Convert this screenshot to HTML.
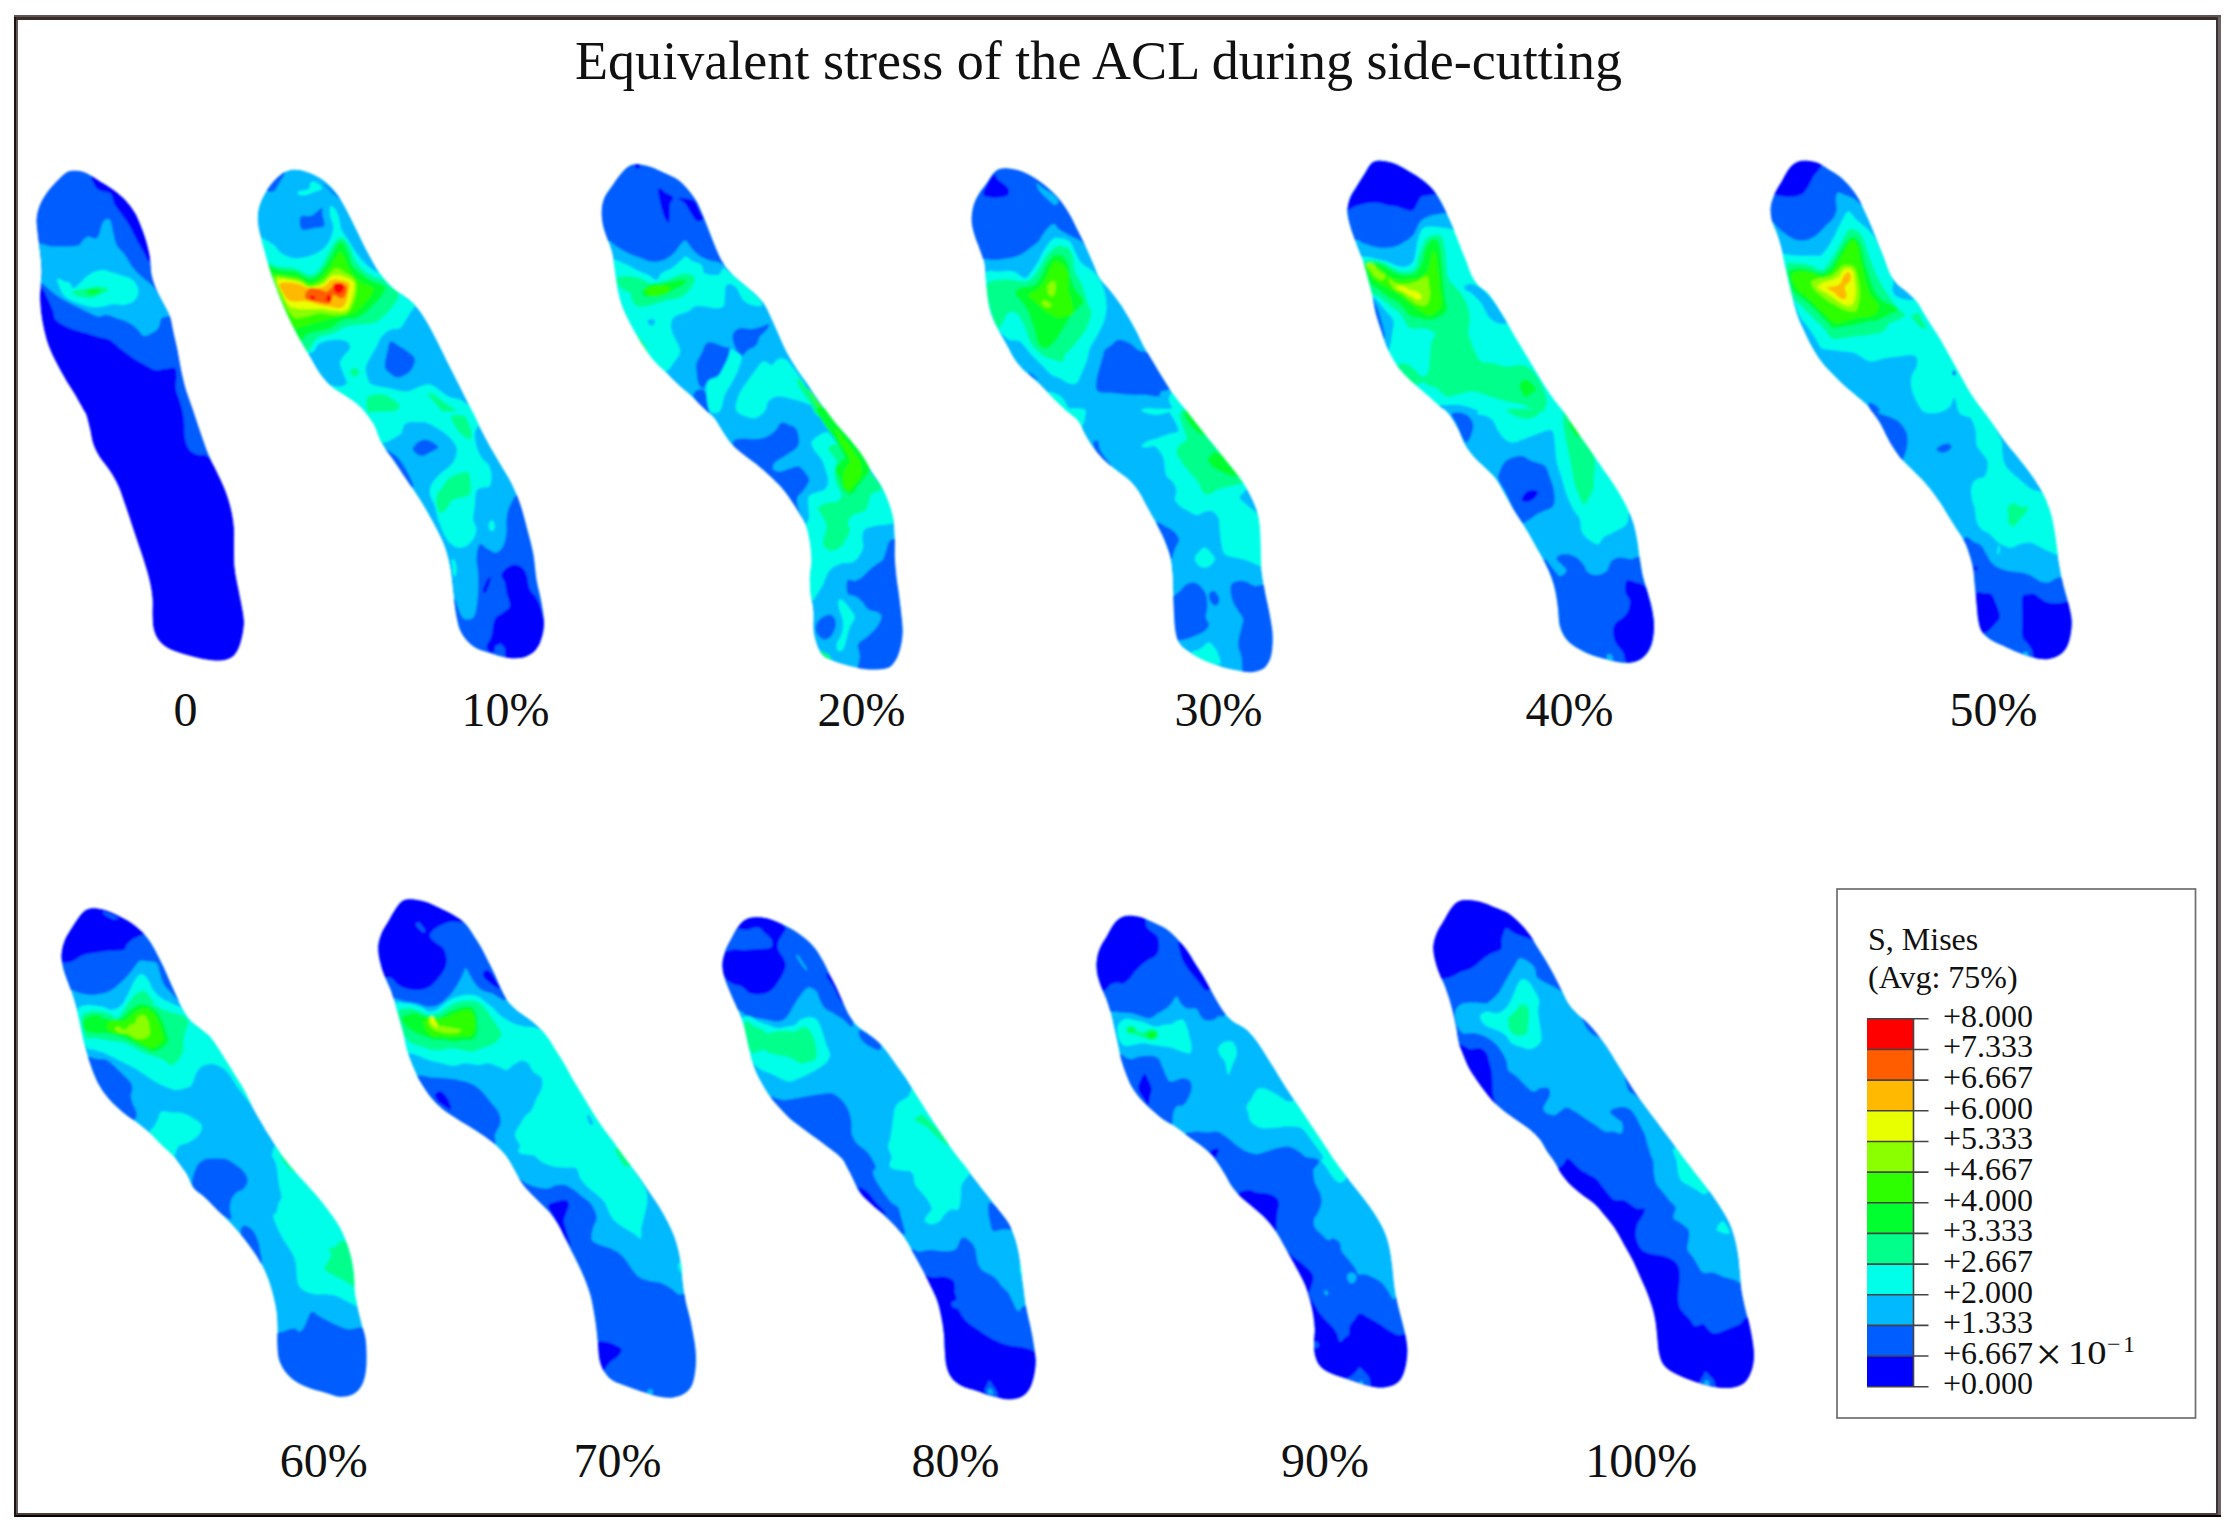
<!DOCTYPE html>
<html><head><meta charset="utf-8"><title>Equivalent stress of the ACL during side-cutting</title>
<style>html,body{margin:0;padding:0;background:#fff}svg{display:block}text{font-family:"Liberation Serif",serif;fill:#111}</style>
</head><body>
<svg width="2234" height="1537" viewBox="0 0 2234 1537">
<defs><filter id="bl" x="-5%" y="-5%" width="110%" height="110%"><feGaussianBlur stdDeviation="0.9"/></filter></defs>
<rect x="0" y="0" width="2234" height="1537" fill="#fff"/>
<g shape-rendering="crispEdges"><rect x="14" y="14.8" width="2207" height="2.6" fill="#5c5452"/><rect x="14" y="17.3" width="2207" height="2.5" fill="#382d2b"/>
<rect x="14" y="1512.5" width="2207" height="2.5" fill="#4a3f3c"/><rect x="14" y="1515" width="2207" height="2" fill="#0c0202"/>
<rect x="14" y="17.3" width="2.1" height="1499.7" fill="#1f1311"/><rect x="16" y="19.8" width="2.2" height="1493" fill="#625a58"/>
<rect x="2216" y="19.8" width="2.5" height="1493" fill="#3b3333"/><rect x="2218.4" y="17.3" width="2.6" height="1498" fill="#6c6466"/></g>
<text x="575" y="78.5" font-size="54" textLength="1047" lengthAdjust="spacingAndGlyphs">Equivalent stress of the ACL during side-cutting</text>
<clipPath id="cp0"><path d="M76.6 170.8C80.0 171.0 82.7 171.5 86.6 173.3C90.5 175.1 95.5 178.9 99.9 181.6C104.4 184.4 109.1 186.9 113.3 190.0C117.4 193.0 121.3 196.1 124.9 200.0C128.5 203.9 132.1 208.6 134.9 213.3C137.7 218.0 139.6 223.3 141.6 228.3C143.5 233.3 145.2 238.3 146.6 243.3C148.0 248.3 149.1 253.0 149.9 258.3C150.7 263.5 150.5 269.6 151.6 274.9C152.7 280.2 154.6 285.2 156.6 289.9C158.5 294.6 161.0 298.8 163.2 303.2C165.5 307.7 168.2 311.8 169.9 316.6C171.6 321.3 172.0 326.0 173.2 331.5C174.5 337.1 176.1 343.8 177.4 349.9C178.6 356.0 179.5 362.1 180.7 368.2C182.0 374.3 183.4 381.0 184.9 386.5C186.4 392.1 188.5 397.4 189.9 401.5C191.3 405.6 191.6 406.1 193.2 411.0C194.9 415.9 197.4 423.8 199.9 431.0C202.4 438.2 205.4 447.6 208.2 454.3C211.0 461.0 213.8 465.1 216.5 471.0C219.3 476.8 222.5 483.2 224.9 489.3C227.2 495.4 229.2 501.2 230.7 507.6C232.2 514.0 233.5 520.6 234.0 527.6C234.6 534.5 233.9 542.3 234.0 549.2C234.2 556.2 234.2 562.8 234.9 569.2C235.6 575.6 237.1 581.7 238.2 587.5C239.3 593.4 240.5 598.6 241.5 604.2C242.5 609.8 243.9 615.6 244.0 620.9C244.2 626.1 243.3 631.1 242.4 635.8C241.4 640.6 240.0 645.6 238.2 649.2C236.4 652.8 234.6 655.6 231.5 657.5C228.5 659.4 224.6 660.6 219.9 660.8C215.1 661.1 208.8 660.1 203.2 659.2C197.7 658.2 192.1 656.7 186.6 655.0C181.0 653.3 174.3 651.4 169.9 649.2C165.5 646.9 162.5 644.7 159.9 641.7C157.3 638.6 155.3 635.2 154.1 630.8C152.8 626.5 152.7 621.1 152.4 615.9C152.1 610.6 152.8 604.8 152.4 599.2C152.0 593.7 151.2 588.4 149.9 582.5C148.7 576.7 146.9 570.6 144.9 564.2C143.0 557.8 140.5 550.9 138.3 544.2C136.0 537.6 133.8 530.9 131.6 524.3C129.4 517.6 127.2 510.7 124.9 504.3C122.7 497.9 120.8 491.5 118.3 485.9C115.8 480.4 113.0 475.7 109.9 471.0C106.9 466.2 102.7 462.1 99.9 457.6C97.2 453.2 95.0 449.0 93.3 444.3C91.6 439.6 91.1 434.0 90.0 429.3C88.8 424.6 87.6 419.0 86.6 416.0C85.7 412.9 86.1 414.5 84.1 411.0C82.2 407.5 77.9 399.8 75.0 394.8C72.0 389.9 69.4 386.2 66.6 381.5C63.9 376.8 60.8 371.2 58.3 366.5C55.8 361.8 53.6 357.6 51.6 353.2C49.7 348.8 48.0 344.3 46.6 339.9C45.3 335.4 44.3 331.3 43.3 326.6C42.3 321.8 41.4 316.6 40.8 311.6C40.3 306.6 40.0 301.3 40.0 296.6C40.0 291.9 40.5 287.4 40.8 283.2C41.1 279.1 41.7 275.8 41.7 271.6C41.7 267.4 41.2 262.7 40.8 258.3C40.4 253.8 39.7 249.4 39.2 244.9C38.6 240.5 37.9 236.1 37.5 231.6C37.1 227.2 36.2 222.7 36.7 218.3C37.1 213.8 38.3 209.1 40.0 205.0C41.7 200.8 43.9 197.2 46.6 193.3C49.4 189.4 53.3 185.1 56.6 181.6C60.0 178.2 63.3 174.3 66.6 172.5C70.0 170.7 73.3 170.7 76.6 170.8Z"/></clipPath>
<g filter="url(#bl)"><g clip-path="url(#cp0)">
<path d="M76.6 170.8C80.0 171.0 82.7 171.5 86.6 173.3C90.5 175.1 95.5 178.9 99.9 181.6C104.4 184.4 109.1 186.9 113.3 190.0C117.4 193.0 121.3 196.1 124.9 200.0C128.5 203.9 132.1 208.6 134.9 213.3C137.7 218.0 139.6 223.3 141.6 228.3C143.5 233.3 145.2 238.3 146.6 243.3C148.0 248.3 149.1 253.0 149.9 258.3C150.7 263.5 150.5 269.6 151.6 274.9C152.7 280.2 154.6 285.2 156.6 289.9C158.5 294.6 161.0 298.8 163.2 303.2C165.5 307.7 168.2 311.8 169.9 316.6C171.6 321.3 172.0 326.0 173.2 331.5C174.5 337.1 176.1 343.8 177.4 349.9C178.6 356.0 179.5 362.1 180.7 368.2C182.0 374.3 183.4 381.0 184.9 386.5C186.4 392.1 188.5 397.4 189.9 401.5C191.3 405.6 191.6 406.1 193.2 411.0C194.9 415.9 197.4 423.8 199.9 431.0C202.4 438.2 205.4 447.6 208.2 454.3C211.0 461.0 213.8 465.1 216.5 471.0C219.3 476.8 222.5 483.2 224.9 489.3C227.2 495.4 229.2 501.2 230.7 507.6C232.2 514.0 233.5 520.6 234.0 527.6C234.6 534.5 233.9 542.3 234.0 549.2C234.2 556.2 234.2 562.8 234.9 569.2C235.6 575.6 237.1 581.7 238.2 587.5C239.3 593.4 240.5 598.6 241.5 604.2C242.5 609.8 243.9 615.6 244.0 620.9C244.2 626.1 243.3 631.1 242.4 635.8C241.4 640.6 240.0 645.6 238.2 649.2C236.4 652.8 234.6 655.6 231.5 657.5C228.5 659.4 224.6 660.6 219.9 660.8C215.1 661.1 208.8 660.1 203.2 659.2C197.7 658.2 192.1 656.7 186.6 655.0C181.0 653.3 174.3 651.4 169.9 649.2C165.5 646.9 162.5 644.7 159.9 641.7C157.3 638.6 155.3 635.2 154.1 630.8C152.8 626.5 152.7 621.1 152.4 615.9C152.1 610.6 152.8 604.8 152.4 599.2C152.0 593.7 151.2 588.4 149.9 582.5C148.7 576.7 146.9 570.6 144.9 564.2C143.0 557.8 140.5 550.9 138.3 544.2C136.0 537.6 133.8 530.9 131.6 524.3C129.4 517.6 127.2 510.7 124.9 504.3C122.7 497.9 120.8 491.5 118.3 485.9C115.8 480.4 113.0 475.7 109.9 471.0C106.9 466.2 102.7 462.1 99.9 457.6C97.2 453.2 95.0 449.0 93.3 444.3C91.6 439.6 91.1 434.0 90.0 429.3C88.8 424.6 87.6 419.0 86.6 416.0C85.7 412.9 86.1 414.5 84.1 411.0C82.2 407.5 77.9 399.8 75.0 394.8C72.0 389.9 69.4 386.2 66.6 381.5C63.9 376.8 60.8 371.2 58.3 366.5C55.8 361.8 53.6 357.6 51.6 353.2C49.7 348.8 48.0 344.3 46.6 339.9C45.3 335.4 44.3 331.3 43.3 326.6C42.3 321.8 41.4 316.6 40.8 311.6C40.3 306.6 40.0 301.3 40.0 296.6C40.0 291.9 40.5 287.4 40.8 283.2C41.1 279.1 41.7 275.8 41.7 271.6C41.7 267.4 41.2 262.7 40.8 258.3C40.4 253.8 39.7 249.4 39.2 244.9C38.6 240.5 37.9 236.1 37.5 231.6C37.1 227.2 36.2 222.7 36.7 218.3C37.1 213.8 38.3 209.1 40.0 205.0C41.7 200.8 43.9 197.2 46.6 193.3C49.4 189.4 53.3 185.1 56.6 181.6C60.0 178.2 63.3 174.3 66.6 172.5C70.0 170.7 73.3 170.7 76.6 170.8Z" fill="#0000FF"/>
<g>
<path d="M30.0 284.9C33.5 298.5 38.0 284.6 40.8 286.6C43.6 288.5 44.6 292.4 46.6 296.6C48.7 300.7 51.8 307.7 53.3 311.6C54.8 315.4 53.0 317.1 55.8 319.9C58.6 322.7 64.8 326.0 70.0 328.2C75.1 330.4 81.6 331.7 86.6 333.2C91.6 334.7 96.1 336.3 99.9 337.4C103.8 338.5 106.6 338.1 109.9 339.9C113.3 341.7 116.0 345.2 119.9 348.2C123.8 351.3 129.1 355.4 133.3 358.2C137.4 361.0 141.3 362.9 144.9 364.9C148.5 366.8 151.6 369.2 154.9 369.9C158.2 370.6 161.6 369.3 164.9 369.0C168.2 368.7 173.0 366.9 174.9 368.2C176.8 369.4 176.4 373.2 176.6 376.5C176.7 379.9 175.2 384.0 175.7 388.2C176.3 392.3 178.8 397.7 179.9 401.5C181.0 405.3 181.7 407.7 182.4 411.0C183.1 414.3 183.6 417.0 184.1 421.5C184.5 426.0 184.2 433.7 184.9 438.1C185.6 442.6 186.6 445.5 188.2 448.1C189.9 450.8 192.1 452.8 194.9 454.0C197.7 455.1 200.7 455.0 204.9 455.1C209.0 455.3 217.4 471.5 219.9 454.8C222.4 438.1 228.2 388.2 219.9 354.9C211.5 321.6 183.8 282.7 169.9 254.9C156.0 227.2 152.1 205.0 136.6 188.3C121.0 171.7 96.1 152.2 76.6 155.0C57.2 157.8 27.8 183.3 20.0 205.0C12.2 226.6 26.5 271.3 30.0 284.9Z" fill="#005DFF"/>
<path d="M91.6 176.7C90.5 178.6 94.7 185.8 96.6 188.3C98.6 190.8 100.9 190.7 103.3 191.6C105.6 192.6 108.8 191.9 110.8 194.1C112.7 196.4 112.9 201.2 114.9 205.0C117.0 208.7 120.8 213.0 123.3 216.6C125.8 220.2 127.7 222.7 129.9 226.6C132.1 230.5 134.4 235.8 136.6 239.9C138.8 244.1 141.2 248.0 143.3 251.6C145.3 255.2 147.4 261.0 149.1 261.6C150.7 262.2 153.7 261.6 153.2 254.9C152.8 248.3 150.7 231.3 146.6 221.6C142.4 211.9 135.5 204.1 128.3 196.6C121.0 189.1 109.4 180.0 103.3 176.7C97.2 173.3 92.7 174.7 91.6 176.7Z" fill="#0000FF"/>
<path d="M36.7 246.3C39.7 240.4 46.6 246.7 53.3 246.6C60.0 246.5 71.6 246.9 76.6 245.8C81.6 244.7 81.3 241.5 83.3 239.9C85.2 238.4 86.6 236.9 88.3 236.6C90.0 236.3 91.6 238.3 93.3 238.3C95.0 238.3 96.6 239.4 98.3 236.6C99.9 233.8 101.3 224.4 103.3 221.6C105.2 218.8 108.3 218.0 109.9 220.0C111.6 221.9 112.2 229.1 113.3 233.3C114.4 237.4 114.7 241.3 116.6 244.9C118.5 248.5 122.2 251.0 124.9 254.9C127.7 258.8 130.2 264.4 133.3 268.3C136.3 272.1 140.2 275.5 143.3 278.3C146.3 281.0 149.1 282.4 151.6 284.9C154.1 287.4 156.0 289.9 158.2 293.2C160.5 296.6 163.0 301.3 164.9 304.9C166.8 308.5 170.5 312.7 169.9 314.9C169.3 317.1 163.5 316.0 161.6 318.2C159.6 320.4 159.9 325.7 158.2 328.2C156.6 330.7 154.1 332.0 151.6 333.2C149.1 334.5 145.7 336.5 143.3 335.7C140.8 334.9 139.4 330.6 136.6 328.2C133.8 325.9 129.9 323.2 126.6 321.6C123.3 319.9 119.9 319.3 116.6 318.2C113.3 317.1 109.7 315.2 106.6 314.9C103.6 314.6 101.6 317.1 98.3 316.6C95.0 316.0 90.2 313.2 86.6 311.6C83.0 309.9 80.0 308.2 76.6 306.6C73.3 304.9 69.7 303.2 66.6 301.6C63.6 299.9 61.1 298.5 58.3 296.6C55.5 294.6 52.8 292.1 50.0 289.9C47.2 287.7 44.2 284.6 41.7 283.2C39.2 281.9 35.8 287.7 35.0 281.6C34.2 275.4 33.6 252.1 36.7 246.3Z" fill="#00B9FF"/>
<path d="M57.5 279.1C58.3 278.0 62.9 280.9 65.0 281.6C67.1 282.3 68.6 282.1 70.0 283.2C71.4 284.4 71.6 288.2 73.3 288.2C75.0 288.2 77.7 285.2 80.0 283.2C82.2 281.3 84.1 278.5 86.6 276.6C89.1 274.6 92.2 272.7 95.0 271.6C97.7 270.5 101.1 269.9 103.3 269.9C105.5 269.9 105.5 270.8 108.3 271.6C111.1 272.4 116.3 273.8 119.9 274.9C123.5 276.0 127.2 276.6 129.9 278.3C132.7 279.9 135.2 282.4 136.6 284.9C138.0 287.4 138.8 290.5 138.3 293.2C137.7 296.0 135.8 299.6 133.3 301.6C130.8 303.5 126.6 304.5 123.3 304.9C119.9 305.3 116.6 303.8 113.3 304.1C109.9 304.3 106.6 306.0 103.3 306.6C99.9 307.1 96.6 307.7 93.3 307.4C90.0 307.1 86.6 305.9 83.3 304.9C80.0 303.9 76.4 303.0 73.3 301.6C70.2 300.2 67.2 298.8 65.0 296.6C62.7 294.4 61.2 291.2 60.0 288.2C58.7 285.3 56.6 280.2 57.5 279.1Z" fill="#00FFE8"/>
<path d="M71.6 291.6C71.9 290.6 75.8 290.5 78.3 289.9C80.8 289.4 83.6 288.8 86.6 288.2C89.7 287.7 93.6 286.7 96.6 286.6C99.7 286.4 103.0 286.9 104.9 287.4C106.9 288.0 108.8 288.8 108.3 289.9C107.7 291.0 104.1 292.8 101.6 294.1C99.1 295.3 96.1 296.8 93.3 297.4C90.5 298.0 87.7 297.7 85.0 297.4C82.2 297.1 78.8 296.7 76.6 295.7C74.4 294.8 71.4 292.5 71.6 291.6Z" fill="#00FF8B"/>
<path d="M86.6 290.7C87.7 289.8 96.1 288.9 98.3 289.1C100.5 289.2 101.1 290.6 99.9 291.6C98.8 292.5 93.8 295.0 91.6 294.9C89.4 294.8 85.5 291.7 86.6 290.7Z" fill="#00FF2E"/>
</g></g></g>
<clipPath id="cp1"><path d="M290.0 170.0C295.0 168.9 301.1 170.0 306.6 171.7C312.2 173.3 318.3 176.4 323.3 180.0C328.3 183.6 332.7 188.3 336.6 193.3C340.5 198.3 343.3 203.9 346.6 210.0C349.9 216.1 353.0 222.7 356.6 230.0C360.2 237.2 364.4 246.1 368.2 253.3C372.1 260.5 375.7 267.4 379.9 273.3C384.1 279.1 388.2 283.8 393.2 288.2C398.2 292.7 405.2 295.7 409.9 299.9C414.6 304.1 417.7 307.7 421.5 313.2C425.4 318.8 429.0 325.4 433.2 333.2C437.4 341.0 442.1 351.0 446.5 359.9C451.0 368.7 455.4 377.6 459.9 386.5C464.3 395.4 468.7 404.3 473.2 413.2C477.6 422.0 482.1 431.5 486.5 439.8C490.9 448.1 495.7 455.9 499.8 463.1C504.0 470.3 508.2 476.5 511.5 483.1C514.8 489.8 517.3 495.9 519.8 503.1C522.3 510.3 524.3 518.1 526.5 526.4C528.7 534.8 531.5 544.2 533.1 553.1C534.8 562.0 535.1 571.4 536.5 579.7C537.9 588.0 540.2 595.3 541.5 603.0C542.7 610.8 544.4 619.1 543.8 626.4C543.2 633.6 541.0 641.3 538.1 646.3C535.2 651.3 531.2 654.4 526.5 656.3C521.8 658.3 515.9 658.6 509.8 658.0C503.7 657.4 495.9 654.9 489.8 653.0C483.7 651.1 477.9 649.7 473.2 646.3C468.5 643.0 464.3 638.0 461.5 633.0C458.7 628.0 457.9 623.0 456.5 616.4C455.1 609.7 454.3 601.4 453.2 593.0C452.1 584.7 451.5 574.7 449.9 566.4C448.2 558.1 446.3 550.9 443.2 543.1C440.1 535.3 435.4 527.0 431.5 519.8C427.7 512.5 424.0 506.4 419.9 499.8C415.7 493.1 411.0 486.4 406.6 479.8C402.1 473.1 397.4 465.9 393.2 459.8C389.1 453.7 384.9 449.3 381.6 443.1C378.2 437.0 376.9 429.3 373.2 423.2C369.6 417.1 364.4 410.9 359.9 406.5C355.5 402.1 351.3 399.8 346.6 396.5C341.9 393.2 336.0 390.4 331.6 386.5C327.2 382.6 323.6 378.2 319.9 373.2C316.3 368.2 313.6 362.6 310.0 356.5C306.3 350.4 301.9 343.2 298.3 336.5C294.7 329.9 291.6 323.8 288.3 316.6C285.0 309.3 281.4 301.0 278.3 293.2C275.3 285.5 272.5 277.7 270.0 269.9C267.5 262.2 265.3 253.8 263.3 246.6C261.4 239.4 259.2 232.7 258.3 226.6C257.5 220.5 257.2 215.5 258.3 210.0C259.4 204.4 261.9 198.6 265.0 193.3C268.0 188.0 272.5 182.2 276.6 178.3C280.8 174.4 285.0 171.1 290.0 170.0Z"/></clipPath>
<g filter="url(#bl)"><g clip-path="url(#cp1)">
<path d="M290.0 170.0C295.0 168.9 301.1 170.0 306.6 171.7C312.2 173.3 318.3 176.4 323.3 180.0C328.3 183.6 332.7 188.3 336.6 193.3C340.5 198.3 343.3 203.9 346.6 210.0C349.9 216.1 353.0 222.7 356.6 230.0C360.2 237.2 364.4 246.1 368.2 253.3C372.1 260.5 375.7 267.4 379.9 273.3C384.1 279.1 388.2 283.8 393.2 288.2C398.2 292.7 405.2 295.7 409.9 299.9C414.6 304.1 417.7 307.7 421.5 313.2C425.4 318.8 429.0 325.4 433.2 333.2C437.4 341.0 442.1 351.0 446.5 359.9C451.0 368.7 455.4 377.6 459.9 386.5C464.3 395.4 468.7 404.3 473.2 413.2C477.6 422.0 482.1 431.5 486.5 439.8C490.9 448.1 495.7 455.9 499.8 463.1C504.0 470.3 508.2 476.5 511.5 483.1C514.8 489.8 517.3 495.9 519.8 503.1C522.3 510.3 524.3 518.1 526.5 526.4C528.7 534.8 531.5 544.2 533.1 553.1C534.8 562.0 535.1 571.4 536.5 579.7C537.9 588.0 540.2 595.3 541.5 603.0C542.7 610.8 544.4 619.1 543.8 626.4C543.2 633.6 541.0 641.3 538.1 646.3C535.2 651.3 531.2 654.4 526.5 656.3C521.8 658.3 515.9 658.6 509.8 658.0C503.7 657.4 495.9 654.9 489.8 653.0C483.7 651.1 477.9 649.7 473.2 646.3C468.5 643.0 464.3 638.0 461.5 633.0C458.7 628.0 457.9 623.0 456.5 616.4C455.1 609.7 454.3 601.4 453.2 593.0C452.1 584.7 451.5 574.7 449.9 566.4C448.2 558.1 446.3 550.9 443.2 543.1C440.1 535.3 435.4 527.0 431.5 519.8C427.7 512.5 424.0 506.4 419.9 499.8C415.7 493.1 411.0 486.4 406.6 479.8C402.1 473.1 397.4 465.9 393.2 459.8C389.1 453.7 384.9 449.3 381.6 443.1C378.2 437.0 376.9 429.3 373.2 423.2C369.6 417.1 364.4 410.9 359.9 406.5C355.5 402.1 351.3 399.8 346.6 396.5C341.9 393.2 336.0 390.4 331.6 386.5C327.2 382.6 323.6 378.2 319.9 373.2C316.3 368.2 313.6 362.6 310.0 356.5C306.3 350.4 301.9 343.2 298.3 336.5C294.7 329.9 291.6 323.8 288.3 316.6C285.0 309.3 281.4 301.0 278.3 293.2C275.3 285.5 272.5 277.7 270.0 269.9C267.5 262.2 265.3 253.8 263.3 246.6C261.4 239.4 259.2 232.7 258.3 226.6C257.5 220.5 257.2 215.5 258.3 210.0C259.4 204.4 261.9 198.6 265.0 193.3C268.0 188.0 272.5 182.2 276.6 178.3C280.8 174.4 285.0 171.1 290.0 170.0Z" fill="#00B9FF"/>
<g>
<path d="M266.6 189.1C267.8 186.2 276.9 176.9 280.0 174.2C283.0 171.4 285.2 170.7 285.0 172.5C284.7 174.3 280.3 181.8 278.3 185.0C276.4 188.2 275.3 191.0 273.3 191.6C271.4 192.3 265.5 192.1 266.6 189.1Z" fill="#005DFF"/>
<path d="M323.3 183.3C323.8 183.5 330.5 189.0 333.3 191.6C336.0 194.3 340.5 199.3 339.9 199.1C339.4 199.0 332.7 193.4 329.9 190.8C327.2 188.2 322.7 183.2 323.3 183.3Z" fill="#005DFF"/>
<path d="M298.3 191.6C299.8 190.7 306.1 190.8 308.3 189.1C310.5 187.5 309.7 182.3 311.6 181.7C313.6 181.0 318.3 183.7 319.9 185.0C321.6 186.2 322.7 187.9 321.6 189.1C320.5 190.4 315.8 191.5 313.3 192.5C310.8 193.4 309.0 194.6 306.6 195.0C304.3 195.4 300.5 195.5 299.1 195.0C297.7 194.4 296.8 192.6 298.3 191.6Z" fill="#00FFE8"/>
<path d="M300.8 216.6C302.5 214.4 308.1 217.2 311.6 215.8C315.1 214.4 319.8 208.4 321.6 208.3C323.4 208.2 322.0 212.0 322.4 215.0C322.9 217.9 325.6 223.6 324.1 225.8C322.6 228.0 317.0 227.7 313.3 228.3C309.5 228.8 303.7 231.1 301.6 229.1C299.5 227.2 299.1 218.8 300.8 216.6Z" fill="#005DFF"/>
<path d="M256.7 239.9C256.4 233.0 267.5 241.1 271.6 243.3C275.8 245.5 277.8 250.8 281.6 253.3C285.5 255.8 290.2 257.9 295.0 258.3C299.7 258.7 305.5 257.2 310.0 255.8C314.4 254.4 318.3 252.6 321.6 249.9C324.9 247.3 328.0 243.8 329.9 239.9C331.9 236.1 333.3 230.8 333.3 226.6C333.3 222.5 330.4 218.4 329.9 215.0C329.5 211.5 329.8 206.6 330.8 205.8C331.7 205.0 334.4 207.9 335.8 210.0C337.2 212.0 338.1 215.0 339.1 218.3C340.1 221.6 340.1 226.3 341.6 230.0C343.1 233.6 345.8 236.1 348.3 239.9C350.8 243.8 353.8 249.4 356.6 253.3C359.4 257.2 362.1 260.5 364.9 263.3C367.7 266.0 369.9 267.7 373.2 269.9C376.6 272.1 379.4 271.9 384.9 276.6C390.5 281.3 401.6 293.5 406.6 298.2C411.6 303.0 414.3 302.4 414.9 304.9C415.4 307.4 411.6 310.5 409.9 313.2C408.2 316.0 406.6 319.1 404.9 321.6C403.2 324.1 402.4 326.8 399.9 328.2C397.4 329.6 393.0 328.5 389.9 329.9C386.8 331.3 383.8 333.8 381.6 336.5C379.4 339.3 378.5 342.9 376.6 346.5C374.6 350.2 371.7 354.6 369.9 358.2C368.1 361.8 366.0 364.6 365.7 368.2C365.5 371.8 367.0 377.1 368.2 379.9C369.5 382.6 369.6 383.5 373.2 384.9C376.9 386.2 384.3 387.1 389.9 388.2C395.5 389.3 401.6 391.8 406.6 391.5C411.6 391.2 415.7 387.6 419.9 386.5C424.0 385.4 426.8 383.2 431.5 384.9C436.3 386.5 442.9 393.7 448.2 396.5C453.5 399.3 458.5 397.6 463.2 401.5C467.9 405.4 494.3 416.8 476.5 419.8C458.7 422.9 379.4 422.9 356.6 419.8C333.8 416.8 345.5 407.3 339.9 401.5C334.4 395.7 328.8 391.8 323.3 384.9C317.7 377.9 312.2 369.6 306.6 359.9C301.1 350.2 295.5 339.0 290.0 326.6C284.4 314.1 278.9 299.4 273.3 284.9C267.8 270.5 256.9 246.9 256.7 239.9Z" fill="#00FFE8"/>
<path d="M303.3 356.5C303.3 353.5 310.5 353.8 313.3 351.5C316.1 349.3 316.6 345.2 319.9 343.2C323.3 341.3 328.8 340.2 333.3 339.9C337.7 339.6 343.8 340.2 346.6 341.5C349.4 342.9 350.5 345.7 349.9 348.2C349.4 350.7 344.9 354.0 343.3 356.5C341.6 359.0 339.9 360.4 339.9 363.2C339.9 366.0 342.2 369.9 343.3 373.2C344.4 376.5 347.2 381.0 346.6 383.2C346.0 385.4 342.7 386.2 339.9 386.5C337.2 386.8 332.7 385.4 329.9 384.9C327.2 384.3 326.1 385.7 323.3 383.2C320.5 380.7 316.6 374.3 313.3 369.9C310.0 365.4 303.3 359.6 303.3 356.5Z" fill="#00B9FF"/>
<path d="M390.7 341.5C392.8 340.7 396.7 344.6 399.9 346.5C403.1 348.5 407.4 351.0 409.9 353.2C412.4 355.4 414.9 356.8 414.9 359.9C414.9 362.9 412.7 368.6 409.9 371.5C407.1 374.4 401.6 377.1 398.2 377.4C394.9 377.6 392.1 375.0 389.9 373.2C387.7 371.4 385.3 370.1 384.9 366.5C384.5 362.9 386.4 355.7 387.4 351.5C388.4 347.4 388.7 342.4 390.7 341.5Z" fill="#005DFF"/>
<path d="M350.8 369.9C351.6 368.7 355.2 367.6 356.6 368.2C358.0 368.7 359.4 371.8 359.1 373.2C358.8 374.6 356.2 376.2 354.9 376.5C353.6 376.8 352.0 376.0 351.3 374.9C350.6 373.7 349.9 371.0 350.8 369.9Z" fill="#00FF8B"/>
<path d="M366.6 399.8C367.1 395.7 370.2 395.7 373.2 394.8C376.3 394.0 381.6 394.0 384.9 394.8C388.2 395.7 390.7 397.9 393.2 399.8C395.7 401.8 400.4 404.0 399.9 406.5C399.3 409.0 393.0 412.6 389.9 414.8C386.8 417.1 384.9 419.0 381.6 419.8C378.2 420.7 372.4 423.2 369.9 419.8C367.4 416.5 366.0 404.0 366.6 399.8Z" fill="#00FF8B"/>
<path d="M428.2 394.8C427.7 393.0 430.7 392.9 433.2 394.0C435.7 395.1 439.6 398.9 443.2 401.5C446.8 404.1 451.5 406.8 454.9 409.8C458.2 412.9 464.0 418.2 463.2 419.8C462.4 421.5 454.3 422.3 449.9 419.8C445.4 417.3 440.1 409.0 436.5 404.8C432.9 400.7 428.8 396.6 428.2 394.8Z" fill="#00FF8B"/>
<path d="M269.1 263.3C271.4 263.3 274.0 265.8 278.3 266.6C282.6 267.4 289.7 266.9 295.0 268.3C300.2 269.6 305.8 274.9 310.0 274.9C314.1 274.9 316.9 271.9 319.9 268.3C323.0 264.7 325.5 258.0 328.3 253.3C331.1 248.6 334.1 242.4 336.6 239.9C339.1 237.4 341.0 237.2 343.3 238.3C345.5 239.4 348.0 243.0 349.9 246.6C351.9 250.2 352.7 256.0 354.9 259.9C357.1 263.8 360.2 267.2 363.3 269.9C366.3 272.7 369.9 274.9 373.2 276.6C376.6 278.3 380.5 278.3 383.2 279.9C386.0 281.6 387.4 284.4 389.9 286.6C392.4 288.8 397.1 290.7 398.2 293.2C399.3 295.7 398.0 298.8 396.6 301.6C395.2 304.3 392.4 307.1 389.9 309.9C387.4 312.7 384.3 316.0 381.6 318.2C378.8 320.4 377.4 322.1 373.2 323.2C369.1 324.3 361.0 324.3 356.6 324.9C352.1 325.4 350.5 325.2 346.6 326.6C342.7 327.9 337.7 331.6 333.3 333.2C328.8 334.9 323.3 334.9 319.9 336.5C316.6 338.2 315.5 340.7 313.3 343.2C311.1 345.7 309.4 352.1 306.6 351.5C303.8 351.0 300.0 345.4 296.6 339.9C293.3 334.3 290.0 326.3 286.6 318.2C283.3 310.2 280.3 300.2 276.6 291.6C273.0 283.0 266.2 271.3 265.0 266.6C263.7 261.9 266.9 263.3 269.1 263.3Z" fill="#00FF8B"/>
<path d="M270.0 266.6C271.9 266.9 275.8 269.1 280.0 269.9C284.1 270.8 290.0 270.2 295.0 271.6C300.0 273.0 305.8 278.0 310.0 278.3C314.1 278.5 316.6 276.6 319.9 273.3C323.3 269.9 326.9 263.3 329.9 258.3C333.0 253.3 336.0 245.8 338.3 243.3C340.5 240.8 341.6 241.6 343.3 243.3C344.9 244.9 346.6 249.4 348.3 253.3C349.9 257.2 350.8 263.0 353.3 266.6C355.8 270.2 359.9 272.4 363.3 274.9C366.6 277.4 369.6 279.6 373.2 281.6C376.9 283.5 383.2 284.6 384.9 286.6C386.6 288.5 384.6 290.7 383.2 293.2C381.8 295.7 379.4 298.5 376.6 301.6C373.8 304.6 369.9 308.8 366.6 311.6C363.3 314.3 360.5 316.8 356.6 318.2C352.7 319.6 347.7 318.2 343.3 319.9C338.8 321.6 334.4 326.3 329.9 328.2C325.5 330.2 320.5 330.4 316.6 331.6C312.7 332.7 309.4 333.2 306.6 334.9C303.8 336.5 301.9 341.3 300.0 341.5C298.0 341.8 297.5 341.0 295.0 336.5C292.5 332.1 288.3 322.7 285.0 314.9C281.6 307.1 277.8 297.7 275.0 289.9C272.2 282.1 269.1 272.1 268.3 268.3C267.5 264.4 268.0 266.3 270.0 266.6Z" fill="#00FF2E"/>
<path d="M273.3 273.3C275.0 273.0 279.4 274.4 283.3 274.9C287.2 275.5 292.2 275.2 296.6 276.6C301.1 278.0 306.1 283.0 310.0 283.3C313.8 283.5 316.6 281.0 319.9 278.3C323.3 275.5 326.9 270.8 329.9 266.6C333.0 262.4 336.0 255.2 338.3 253.3C340.5 251.3 341.6 252.7 343.3 254.9C344.9 257.2 346.3 263.0 348.3 266.6C350.2 270.2 352.4 273.8 354.9 276.6C357.4 279.4 360.2 281.3 363.3 283.3C366.3 285.2 371.9 286.3 373.2 288.2C374.6 290.2 373.2 292.1 371.6 294.9C369.9 297.7 366.3 301.8 363.3 304.9C360.2 308.0 357.1 311.3 353.3 313.2C349.4 315.2 344.4 315.5 339.9 316.6C335.5 317.7 331.1 318.8 326.6 319.9C322.2 321.0 317.2 322.1 313.3 323.2C309.4 324.3 306.1 325.7 303.3 326.6C300.5 327.4 298.8 328.8 296.6 328.2C294.4 327.7 292.5 327.7 290.0 323.2C287.5 318.8 284.4 309.3 281.6 301.6C278.9 293.8 274.7 281.3 273.3 276.6C271.9 271.9 271.6 273.5 273.3 273.3Z" fill="#2EFF00"/>
<path d="M275.0 276.6C276.6 275.1 282.5 276.9 286.6 277.4C290.8 278.0 296.1 278.5 300.0 279.9C303.8 281.3 306.3 285.5 310.0 285.7C313.6 286.0 318.3 283.7 321.6 281.6C324.9 279.5 327.4 275.5 329.9 273.3C332.4 271.0 333.8 268.3 336.6 268.3C339.4 268.3 343.5 271.3 346.6 273.3C349.6 275.2 353.3 277.1 354.9 279.9C356.6 282.7 356.9 286.0 356.6 289.9C356.3 293.8 354.9 299.4 353.3 303.2C351.6 307.1 349.9 311.3 346.6 313.2C343.3 315.2 337.7 314.9 333.3 314.9C328.8 314.9 324.4 313.0 319.9 313.2C315.5 313.5 310.5 315.7 306.6 316.6C302.7 317.4 299.4 318.8 296.6 318.2C293.9 317.7 292.2 316.0 290.0 313.2C287.7 310.5 285.5 306.0 283.3 301.6C281.1 297.1 278.0 290.7 276.6 286.6C275.3 282.4 273.3 278.1 275.0 276.6Z" fill="#8BFF00"/>
<path d="M277.5 279.9C278.7 277.7 286.2 279.5 290.0 279.9C293.7 280.3 296.6 281.2 300.0 282.4C303.3 283.7 306.1 287.1 310.0 287.4C313.8 287.7 319.8 285.9 323.3 284.1C326.7 282.3 328.3 278.1 330.8 276.6C333.3 275.1 335.4 274.6 338.3 274.9C341.2 275.2 345.6 276.9 348.3 278.3C350.9 279.6 353.3 280.8 354.1 283.3C354.9 285.7 354.0 289.6 353.3 293.2C352.6 296.9 351.3 302.0 349.9 304.9C348.5 307.8 347.7 309.8 344.9 310.7C342.2 311.7 337.4 311.0 333.3 310.7C329.1 310.5 324.4 309.3 319.9 309.1C315.5 308.8 310.8 309.2 306.6 309.1C302.5 308.9 298.0 308.9 295.0 308.2C291.9 307.5 290.4 307.4 288.3 304.9C286.2 302.4 284.3 297.4 282.5 293.2C280.7 289.1 276.2 282.1 277.5 279.9Z" fill="#E8FF00"/>
<path d="M279.1 284.1C280.0 282.3 285.1 282.4 288.3 282.4C291.5 282.4 294.7 283.1 298.3 284.1C301.9 285.1 305.8 287.8 310.0 288.2C314.1 288.7 319.7 288.0 323.3 286.6C326.9 285.2 328.8 281.0 331.6 279.9C334.4 278.8 337.0 279.4 339.9 279.9C342.8 280.5 347.7 281.0 349.1 283.3C350.5 285.5 349.0 289.6 348.3 293.2C347.6 296.9 346.6 302.4 344.9 304.9C343.3 307.4 340.8 308.0 338.3 308.2C335.8 308.5 333.0 307.1 329.9 306.6C326.9 306.0 323.8 305.7 319.9 304.9C316.1 304.1 310.8 302.1 306.6 301.6C302.5 301.0 298.0 301.8 295.0 301.6C291.9 301.3 290.2 301.3 288.3 299.9C286.4 298.5 284.8 295.9 283.3 293.2C281.8 290.6 278.3 285.9 279.1 284.1Z" fill="#FFB900"/>
<path d="M305.0 294.9C305.5 293.1 307.7 289.2 310.0 288.2C312.2 287.3 315.5 288.5 318.3 289.1C321.1 289.6 324.2 292.0 326.6 291.6C329.0 291.2 330.8 288.0 332.4 286.6C334.1 285.2 334.2 283.3 336.6 283.3C339.0 283.3 345.2 284.4 346.6 286.6C348.0 288.8 346.0 294.6 344.9 296.6C343.8 298.5 341.9 298.5 339.9 298.2C338.0 298.0 334.9 294.1 333.3 294.9C331.6 295.7 332.2 302.0 329.9 303.2C327.7 304.5 323.0 302.8 319.9 302.4C316.9 302.0 313.8 301.3 311.6 300.7C309.4 300.2 307.7 300.0 306.6 299.1C305.5 298.1 304.4 296.7 305.0 294.9Z" fill="#FF5D00"/>
<path d="M334.1 284.1C335.2 282.7 339.9 282.6 341.6 283.3C343.3 283.9 344.4 286.6 344.1 288.2C343.8 289.9 341.5 292.7 339.9 293.2C338.4 293.8 335.9 293.1 334.9 291.6C334.0 290.1 333.0 285.5 334.1 284.1Z" fill="#FF0000"/>
<path d="M310.8 295.7C311.5 295.3 314.4 295.9 315.0 296.6C315.5 297.3 314.8 299.5 314.1 299.9C313.4 300.3 311.3 299.8 310.8 299.1C310.2 298.4 310.1 296.2 310.8 295.7Z" fill="#FF0000"/>
<path d="M326.6 296.6C327.3 295.7 330.2 294.9 330.8 295.7C331.3 296.6 330.6 300.7 329.9 301.6C329.2 302.4 327.2 301.6 326.6 300.7C326.1 299.9 325.9 297.4 326.6 296.6Z" fill="#FF0000"/>
<path d="M364.1 412.7C346.9 414.9 370.6 421.3 373.2 426.0C375.9 430.7 378.0 438.2 379.9 441.0C381.8 443.8 382.4 443.2 384.9 442.6C387.4 442.1 392.1 439.3 394.9 437.7C397.7 436.0 399.9 434.9 401.6 432.7C403.2 430.4 402.7 426.3 404.9 424.3C407.1 422.4 411.3 421.3 414.9 421.0C418.5 420.7 422.9 421.6 426.5 422.7C430.2 423.8 432.9 425.4 436.5 427.7C440.1 429.9 444.9 432.7 448.2 436.0C451.5 439.3 455.4 443.8 456.5 447.6C457.6 451.5 456.0 456.3 454.9 459.3C453.7 462.4 452.4 463.5 449.9 466.0C447.4 468.5 442.9 471.2 439.9 474.3C436.8 477.3 433.2 481.0 431.5 484.3C429.9 487.6 429.3 490.7 429.9 494.3C430.4 497.9 433.5 501.8 434.9 505.9C436.3 510.1 436.5 514.3 438.2 519.3C439.9 524.3 442.6 531.8 444.9 535.9C447.1 540.1 449.3 542.3 451.5 544.2C453.7 546.2 455.7 547.3 458.2 547.6C460.7 547.9 464.0 547.3 466.5 545.9C469.0 544.5 471.5 542.0 473.2 539.3C474.8 536.5 476.5 532.6 476.5 529.3C476.5 525.9 473.5 523.2 473.2 519.3C472.9 515.4 474.3 510.7 474.8 505.9C475.4 501.2 475.1 494.0 476.5 491.0C477.9 487.9 481.0 488.5 483.2 487.6C485.4 486.8 488.4 488.2 489.8 486.0C491.2 483.7 491.8 477.9 491.5 474.3C491.2 470.7 489.8 467.1 488.2 464.3C486.5 461.5 483.4 460.7 481.5 457.6C479.6 454.6 477.6 450.1 476.5 446.0C475.4 441.8 474.3 436.5 474.8 432.7C475.4 428.8 479.6 426.0 479.8 422.7C480.1 419.3 495.8 414.3 476.5 412.7C457.2 411.0 381.3 410.4 364.1 412.7Z" fill="#00FFE8"/>
<path d="M451.5 416.0C449.9 417.7 453.2 422.9 454.9 426.0C456.5 429.0 459.0 432.1 461.5 434.3C464.0 436.5 468.2 439.9 469.8 439.3C471.5 438.8 471.8 433.8 471.5 431.0C471.2 428.2 469.3 425.2 468.2 422.7C467.1 420.2 467.6 417.1 464.9 416.0C462.1 414.9 453.2 414.3 451.5 416.0Z" fill="#00FF8B"/>
<path d="M448.2 479.3C450.4 477.3 453.2 475.4 456.5 474.3C459.9 473.2 465.8 471.2 468.2 472.6C470.5 474.0 470.4 479.0 470.7 482.6C471.0 486.2 471.4 491.8 469.8 494.3C468.3 496.8 464.6 496.5 461.5 497.6C458.5 498.7 454.0 499.0 451.5 500.9C449.0 502.9 448.5 507.3 446.5 509.3C444.6 511.2 441.5 513.4 439.9 512.6C438.2 511.8 437.0 507.3 436.5 504.3C436.1 501.2 436.3 497.3 437.4 494.3C438.5 491.2 441.4 488.5 443.2 486.0C445.0 483.5 446.0 481.2 448.2 479.3Z" fill="#00FF8B"/>
<path d="M489.0 522.6C489.6 521.2 492.2 520.4 493.2 520.9C494.1 521.5 494.8 524.3 494.8 525.9C494.8 527.6 494.1 530.4 493.2 530.9C492.2 531.5 490.0 530.6 489.3 529.3C488.6 527.9 488.4 524.0 489.0 522.6Z" fill="#00FFE8"/>
<path d="M451.5 559.2C451.9 558.4 454.0 559.5 454.9 560.9C455.7 562.3 456.4 565.1 456.5 567.6C456.7 570.1 456.2 574.8 455.7 575.9C455.1 577.0 453.7 575.9 453.2 574.2C452.6 572.6 452.6 568.4 452.4 565.9C452.1 563.4 451.1 560.1 451.5 559.2Z" fill="#00FFE8"/>
<path d="M413.2 447.6C414.1 445.7 417.4 442.2 419.9 441.0C422.4 439.7 425.2 439.2 428.2 440.2C431.3 441.1 437.6 444.9 438.2 446.8C438.8 448.8 434.3 450.3 431.5 451.8C428.8 453.3 424.3 455.8 421.5 456.0C418.8 456.1 416.3 454.0 414.9 452.6C413.5 451.3 412.4 449.6 413.2 447.6Z" fill="#005DFF"/>
<path d="M381.6 447.6C383.2 447.5 391.1 452.1 394.9 455.1C398.6 458.2 401.0 461.1 404.1 466.0C407.1 470.8 412.2 481.0 413.2 484.3C414.2 487.6 412.4 488.2 409.9 486.0C407.4 483.7 402.4 476.0 398.2 471.0C394.1 466.0 387.7 459.9 384.9 456.0C382.1 452.1 379.9 447.8 381.6 447.6Z" fill="#005DFF"/>
<path d="M519.8 494.3C516.2 491.2 512.0 501.8 509.8 505.9C507.6 510.1 507.0 514.8 506.5 519.3C505.9 523.7 507.0 528.1 506.5 532.6C505.9 537.0 504.8 542.6 503.2 545.9C501.5 549.2 499.0 552.0 496.5 552.6C494.0 553.1 490.9 550.6 488.2 549.2C485.4 547.9 481.8 542.9 479.8 544.2C477.9 545.6 476.8 552.6 476.5 557.6C476.2 562.6 477.9 568.7 478.2 574.2C478.5 579.8 478.5 585.3 478.2 590.9C477.9 596.4 477.3 603.1 476.5 607.5C475.7 612.0 475.1 615.6 473.2 617.5C471.2 619.5 467.1 620.0 464.9 619.2C462.6 618.4 461.5 615.9 459.9 612.5C458.2 609.2 456.5 601.2 454.9 599.2C453.2 597.3 450.1 595.3 449.9 600.9C449.6 606.4 450.7 623.9 453.2 632.5C455.7 641.1 458.7 647.5 464.9 652.5C471.0 657.5 480.1 659.7 489.8 662.5C499.5 665.3 513.4 671.4 523.1 669.2C532.9 666.9 543.1 658.1 548.1 649.2C553.1 640.3 554.5 629.7 553.1 615.9C551.7 602.0 543.4 581.2 539.8 565.9C536.2 550.6 534.8 536.2 531.5 524.3C528.1 512.3 523.4 497.3 519.8 494.3Z" fill="#005DFF"/>
<path d="M501.5 574.2C502.3 571.5 506.8 567.3 509.8 565.9C512.9 564.5 517.0 564.5 519.8 565.9C522.6 567.3 524.8 570.3 526.5 574.2C528.1 578.1 527.9 584.8 529.8 589.2C531.7 593.7 535.6 595.0 538.1 600.9C540.6 606.7 544.2 617.0 544.8 624.2C545.4 631.4 543.7 638.6 541.5 644.2C539.2 649.7 535.1 654.6 531.5 657.5C527.9 660.4 524.0 661.4 519.8 661.7C515.6 661.9 509.0 661.3 506.5 659.2C504.0 657.1 505.9 651.7 504.8 649.2C503.7 646.7 501.8 643.6 499.8 644.2C497.9 644.7 495.4 652.0 493.2 652.5C490.9 653.1 486.8 650.3 486.5 647.5C486.2 644.7 490.1 640.6 491.5 635.9C492.9 631.1 492.9 623.1 494.8 619.2C496.8 615.3 500.7 614.8 503.2 612.5C505.7 610.3 509.3 609.2 509.8 605.9C510.4 602.5 507.3 596.4 506.5 592.5C505.7 588.7 505.7 585.6 504.8 582.6C504.0 579.5 500.7 577.0 501.5 574.2Z" fill="#0000FF"/>
<path d="M483.2 589.2C483.9 586.9 486.9 580.1 488.2 578.4C489.4 576.7 490.9 577.1 490.7 579.2C490.4 581.3 487.6 588.7 486.5 590.9C485.4 593.1 484.6 592.8 484.0 592.5C483.4 592.3 482.5 591.6 483.2 589.2Z" fill="#0000FF"/>
<path d="M494.8 647.5C495.2 645.6 498.2 643.9 499.8 644.2C501.5 644.5 504.3 647.2 504.8 649.2C505.4 651.1 504.4 654.7 503.2 655.8C501.9 657.0 498.7 657.2 497.3 655.8C495.9 654.5 494.4 649.5 494.8 647.5Z" fill="#005DFF"/>
</g></g></g>
<clipPath id="cp2"><path d="M636.6 164.2C640.2 164.2 645.2 165.1 650.0 166.7C654.7 168.2 660.2 171.1 665.0 173.3C669.7 175.5 674.4 177.2 678.3 180.0C682.2 182.8 685.2 186.4 688.3 190.0C691.3 193.6 694.1 197.2 696.6 201.6C699.1 206.1 701.0 211.4 703.3 216.6C705.5 221.9 707.7 227.7 709.9 233.3C712.1 238.8 714.4 244.9 716.6 249.9C718.8 254.9 720.5 259.1 723.2 263.3C726.0 267.4 729.6 271.3 733.2 274.9C736.8 278.5 741.0 281.6 744.9 284.9C748.8 288.2 753.2 291.6 756.6 294.9C759.9 298.2 762.4 301.0 764.9 304.9C767.4 308.8 769.3 313.5 771.5 318.2C773.8 322.9 775.7 327.7 778.2 333.2C780.7 338.8 783.5 345.7 786.5 351.5C789.6 357.4 792.9 362.6 796.5 368.2C800.1 373.7 804.6 379.6 808.2 384.8C811.8 390.1 815.1 395.5 818.2 399.8C821.2 404.2 823.5 406.9 826.5 411.0C829.6 415.1 832.6 419.6 836.5 424.3C840.4 429.0 845.7 434.3 849.8 439.3C854.0 444.3 857.9 449.0 861.5 454.3C865.1 459.6 868.2 465.7 871.5 471.0C874.8 476.2 878.7 480.9 881.5 485.9C884.3 490.9 886.2 495.7 888.1 500.9C890.1 506.2 892.0 511.8 893.1 517.6C894.2 523.4 894.5 529.3 894.8 535.9C895.1 542.6 894.5 550.6 894.8 557.6C895.1 564.5 895.9 572.1 896.5 577.6C897.0 583.0 897.5 584.4 898.3 590.0C899.0 595.7 900.2 604.4 901.0 611.5C901.7 618.7 902.9 626.5 902.6 633.0C902.4 639.6 901.0 646.1 899.6 650.8C898.3 655.6 896.7 658.8 894.6 661.7C892.6 664.5 891.1 666.7 887.5 668.0C883.9 669.3 877.9 669.5 873.1 669.5C868.4 669.5 864.2 669.1 858.8 668.2C853.5 667.2 846.4 665.5 841.0 663.8C835.6 662.1 830.1 660.2 826.5 658.0C822.9 655.8 821.7 655.0 819.5 650.8C817.4 646.7 814.7 639.7 813.7 633.0C812.6 626.4 813.7 617.3 813.2 610.9C812.7 604.4 811.2 599.8 810.7 594.2C810.1 588.7 809.7 583.1 809.9 577.6C810.0 572.0 811.5 566.7 811.5 560.9C811.5 555.1 810.7 548.1 809.9 542.6C809.0 537.0 808.2 532.3 806.5 527.6C804.9 522.9 802.4 518.7 799.9 514.3C797.4 509.8 794.6 505.4 791.5 500.9C788.5 496.5 785.2 491.8 781.5 487.6C777.9 483.4 774.0 479.8 769.9 476.0C765.7 472.1 761.0 467.9 756.6 464.3C752.1 460.7 747.4 457.6 743.2 454.3C739.1 451.0 734.9 447.9 731.6 444.3C728.2 440.7 726.0 436.8 723.2 432.6C720.5 428.5 717.7 422.9 714.9 419.3C712.1 415.7 710.5 414.8 706.6 411.0C702.7 407.2 696.3 400.9 691.6 396.5C686.9 392.1 682.7 389.0 678.3 384.8C673.8 380.7 669.1 375.7 665.0 371.5C660.8 367.4 656.6 363.7 653.3 359.9C650.0 356.0 647.7 352.4 645.0 348.2C642.2 344.0 639.4 339.6 636.6 334.9C633.9 330.2 630.8 324.9 628.3 319.9C625.8 314.9 623.5 310.2 621.6 304.9C619.8 299.6 618.6 293.8 617.5 288.2C616.4 282.7 615.8 277.1 615.0 271.6C614.2 266.0 613.6 259.9 612.5 254.9C611.4 249.9 609.9 246.3 608.3 241.6C606.8 236.9 604.4 231.6 603.3 226.6C602.2 221.6 601.5 216.3 601.7 211.6C601.8 206.9 602.5 202.5 604.2 198.3C605.8 194.1 609.0 190.5 611.7 186.6C614.3 182.8 617.2 178.3 620.0 175.0C622.8 171.7 625.5 168.5 628.3 166.7C631.1 164.9 633.0 164.2 636.6 164.2Z"/></clipPath>
<g filter="url(#bl)"><g clip-path="url(#cp2)">
<path d="M636.6 164.2C640.2 164.2 645.2 165.1 650.0 166.7C654.7 168.2 660.2 171.1 665.0 173.3C669.7 175.5 674.4 177.2 678.3 180.0C682.2 182.8 685.2 186.4 688.3 190.0C691.3 193.6 694.1 197.2 696.6 201.6C699.1 206.1 701.0 211.4 703.3 216.6C705.5 221.9 707.7 227.7 709.9 233.3C712.1 238.8 714.4 244.9 716.6 249.9C718.8 254.9 720.5 259.1 723.2 263.3C726.0 267.4 729.6 271.3 733.2 274.9C736.8 278.5 741.0 281.6 744.9 284.9C748.8 288.2 753.2 291.6 756.6 294.9C759.9 298.2 762.4 301.0 764.9 304.9C767.4 308.8 769.3 313.5 771.5 318.2C773.8 322.9 775.7 327.7 778.2 333.2C780.7 338.8 783.5 345.7 786.5 351.5C789.6 357.4 792.9 362.6 796.5 368.2C800.1 373.7 804.6 379.6 808.2 384.8C811.8 390.1 815.1 395.5 818.2 399.8C821.2 404.2 823.5 406.9 826.5 411.0C829.6 415.1 832.6 419.6 836.5 424.3C840.4 429.0 845.7 434.3 849.8 439.3C854.0 444.3 857.9 449.0 861.5 454.3C865.1 459.6 868.2 465.7 871.5 471.0C874.8 476.2 878.7 480.9 881.5 485.9C884.3 490.9 886.2 495.7 888.1 500.9C890.1 506.2 892.0 511.8 893.1 517.6C894.2 523.4 894.5 529.3 894.8 535.9C895.1 542.6 894.5 550.6 894.8 557.6C895.1 564.5 895.9 572.1 896.5 577.6C897.0 583.0 897.5 584.4 898.3 590.0C899.0 595.7 900.2 604.4 901.0 611.5C901.7 618.7 902.9 626.5 902.6 633.0C902.4 639.6 901.0 646.1 899.6 650.8C898.3 655.6 896.7 658.8 894.6 661.7C892.6 664.5 891.1 666.7 887.5 668.0C883.9 669.3 877.9 669.5 873.1 669.5C868.4 669.5 864.2 669.1 858.8 668.2C853.5 667.2 846.4 665.5 841.0 663.8C835.6 662.1 830.1 660.2 826.5 658.0C822.9 655.8 821.7 655.0 819.5 650.8C817.4 646.7 814.7 639.7 813.7 633.0C812.6 626.4 813.7 617.3 813.2 610.9C812.7 604.4 811.2 599.8 810.7 594.2C810.1 588.7 809.7 583.1 809.9 577.6C810.0 572.0 811.5 566.7 811.5 560.9C811.5 555.1 810.7 548.1 809.9 542.6C809.0 537.0 808.2 532.3 806.5 527.6C804.9 522.9 802.4 518.7 799.9 514.3C797.4 509.8 794.6 505.4 791.5 500.9C788.5 496.5 785.2 491.8 781.5 487.6C777.9 483.4 774.0 479.8 769.9 476.0C765.7 472.1 761.0 467.9 756.6 464.3C752.1 460.7 747.4 457.6 743.2 454.3C739.1 451.0 734.9 447.9 731.6 444.3C728.2 440.7 726.0 436.8 723.2 432.6C720.5 428.5 717.7 422.9 714.9 419.3C712.1 415.7 710.5 414.8 706.6 411.0C702.7 407.2 696.3 400.9 691.6 396.5C686.9 392.1 682.7 389.0 678.3 384.8C673.8 380.7 669.1 375.7 665.0 371.5C660.8 367.4 656.6 363.7 653.3 359.9C650.0 356.0 647.7 352.4 645.0 348.2C642.2 344.0 639.4 339.6 636.6 334.9C633.9 330.2 630.8 324.9 628.3 319.9C625.8 314.9 623.5 310.2 621.6 304.9C619.8 299.6 618.6 293.8 617.5 288.2C616.4 282.7 615.8 277.1 615.0 271.6C614.2 266.0 613.6 259.9 612.5 254.9C611.4 249.9 609.9 246.3 608.3 241.6C606.8 236.9 604.4 231.6 603.3 226.6C602.2 221.6 601.5 216.3 601.7 211.6C601.8 206.9 602.5 202.5 604.2 198.3C605.8 194.1 609.0 190.5 611.7 186.6C614.3 182.8 617.2 178.3 620.0 175.0C622.8 171.7 625.5 168.5 628.3 166.7C631.1 164.9 633.0 164.2 636.6 164.2Z" fill="#00B9FF"/>
<g>
<path d="M595.0 241.6C597.2 247.6 604.7 239.9 608.3 240.8C611.9 241.6 613.3 244.5 616.7 246.6C620.0 248.7 624.1 251.3 628.3 253.3C632.5 255.2 638.0 256.9 641.6 258.3C645.2 259.7 646.6 261.2 650.0 261.6C653.3 262.0 658.3 261.6 661.6 260.8C665.0 259.9 667.5 258.4 670.0 256.6C672.4 254.8 674.7 252.2 676.6 249.9C678.6 247.7 680.1 244.8 681.6 243.3C683.1 241.7 684.1 239.9 685.8 240.8C687.4 241.6 689.5 245.9 691.6 248.3C693.7 250.6 695.5 253.0 698.3 254.9C701.0 256.9 705.2 258.8 708.3 259.9C711.3 261.0 713.3 261.3 716.6 261.6C719.9 261.9 729.1 271.0 728.2 261.6C727.4 252.2 718.5 220.0 711.6 205.0C704.6 190.0 699.1 180.0 686.6 171.7C674.1 163.3 650.5 153.6 636.6 155.0C622.8 156.4 610.3 171.7 603.3 180.0C596.4 188.3 596.4 194.7 595.0 205.0C593.6 215.2 592.8 235.6 595.0 241.6Z" fill="#005DFF"/>
<path d="M658.3 188.3C659.3 186.4 664.1 191.8 666.6 193.3C669.1 194.8 672.7 195.5 673.3 197.5C673.8 199.4 670.6 200.9 670.0 205.0C669.3 209.0 670.0 219.4 669.1 221.6C668.3 223.8 666.3 221.1 665.0 218.3C663.6 215.5 661.9 210.0 660.8 205.0C659.7 200.0 657.3 190.3 658.3 188.3Z" fill="#0000FF"/>
<path d="M678.3 198.3C678.8 197.6 685.5 198.6 688.3 199.1C691.0 199.7 693.0 199.6 694.9 201.6C696.9 203.7 698.5 208.7 699.9 211.6C701.3 214.5 703.8 217.6 703.3 219.1C702.7 220.7 698.8 222.0 696.6 220.8C694.4 219.5 691.9 214.5 689.9 211.6C688.0 208.7 686.9 205.5 684.9 203.3C683.0 201.1 677.7 199.0 678.3 198.3Z" fill="#0000FF"/>
<path d="M635.0 164.2C635.7 163.5 639.3 163.5 640.0 164.2C640.7 164.9 639.8 167.7 639.1 168.3C638.4 169.0 636.5 168.7 635.8 168.0C635.1 167.3 634.3 164.8 635.0 164.2Z" fill="#0000FF"/>
<path d="M612.5 261.6C613.6 257.4 619.3 261.9 623.3 263.3C627.3 264.6 632.5 268.0 636.6 269.9C640.8 271.9 645.0 273.3 648.3 274.9C651.6 276.6 654.4 280.2 656.6 279.9C658.8 279.6 659.1 275.2 661.6 273.3C664.1 271.3 668.3 270.5 671.6 268.3C674.9 266.0 679.2 261.9 681.6 259.9C684.0 258.0 683.8 256.3 685.8 256.6C687.7 256.9 690.6 260.2 693.3 261.6C695.9 263.0 699.7 263.0 701.6 264.9C703.5 266.9 702.2 271.6 704.9 273.3C707.7 274.9 715.2 275.8 718.3 274.9C721.3 274.1 721.6 268.8 723.2 268.3C724.9 267.7 725.5 269.4 728.2 271.6C731.0 273.8 736.0 278.3 739.9 281.6C743.8 284.9 748.2 288.5 751.6 291.6C754.9 294.6 758.2 297.5 759.9 299.9C761.6 302.3 762.9 304.9 761.6 305.7C760.2 306.6 754.6 305.9 751.6 304.9C748.5 303.9 745.7 302.7 743.2 299.9C740.7 297.1 738.8 290.9 736.6 288.2C734.4 285.6 731.7 284.4 729.9 284.1C728.1 283.8 726.6 284.5 725.7 286.6C724.9 288.7 725.3 293.2 724.9 296.6C724.5 299.9 724.9 304.6 723.2 306.6C721.6 308.5 718.0 308.2 714.9 308.2C711.9 308.2 708.3 306.8 704.9 306.6C701.6 306.3 697.7 305.7 694.9 306.6C692.2 307.4 691.6 309.9 688.3 311.6C684.9 313.2 677.9 314.3 674.9 316.6C672.0 318.8 671.1 321.8 670.8 324.9C670.5 327.9 672.0 331.5 673.3 334.9C674.5 338.2 677.2 341.8 678.3 344.9C679.4 347.9 680.8 350.1 679.9 353.2C679.1 356.3 675.2 360.4 673.3 363.2C671.3 366.0 670.2 368.7 668.3 369.9C666.3 371.0 665.5 373.2 661.6 369.9C657.7 366.5 650.5 358.2 645.0 349.9C639.4 341.5 633.0 330.2 628.3 319.9C623.6 309.6 619.3 298.0 616.7 288.2C614.0 278.5 611.4 265.8 612.5 261.6Z" fill="#00FFE8"/>
<path d="M617.5 278.3C619.2 276.7 624.3 275.6 628.3 275.8C632.3 275.9 638.0 277.8 641.6 279.1C645.2 280.3 646.6 282.8 650.0 283.2C653.3 283.7 658.0 282.4 661.6 281.6C665.2 280.7 668.3 279.5 671.6 278.3C674.9 277.0 678.3 274.6 681.6 274.1C684.9 273.5 689.4 273.9 691.6 274.9C693.8 275.9 694.9 278.0 694.9 279.9C694.9 281.9 693.0 284.4 691.6 286.6C690.2 288.8 688.8 291.3 686.6 293.2C684.4 295.2 681.9 297.0 678.3 298.2C674.7 299.5 669.4 299.6 665.0 300.7C660.5 301.8 656.1 303.9 651.6 304.9C647.2 305.9 641.5 307.1 638.3 306.6C635.1 306.0 633.9 303.8 632.5 301.6C631.1 299.3 631.5 295.2 630.0 293.2C628.4 291.3 625.3 291.3 623.3 289.9C621.4 288.5 619.3 286.9 618.3 284.9C617.3 283.0 615.8 279.8 617.5 278.3Z" fill="#00FF8B"/>
<path d="M643.3 289.9C644.6 288.5 647.2 285.9 650.0 284.9C652.7 283.9 656.9 284.5 660.0 284.1C663.0 283.7 665.2 283.1 668.3 282.4C671.3 281.7 675.4 280.3 678.3 279.9C681.2 279.5 684.9 279.1 685.8 279.9C686.6 280.7 685.4 283.2 683.3 284.9C681.2 286.6 676.1 288.4 673.3 289.9C670.5 291.4 669.4 293.0 666.6 294.1C663.8 295.2 660.0 296.2 656.6 296.6C653.3 297.0 649.0 297.1 646.6 296.6C644.3 296.0 643.0 294.4 642.5 293.2C641.9 292.1 642.1 291.3 643.3 289.9Z" fill="#00FF2E"/>
<path d="M645.0 290.7C645.2 289.2 648.9 287.4 651.6 286.6C654.4 285.7 658.6 285.7 661.6 285.7C664.7 285.7 668.8 285.6 670.0 286.6C671.1 287.6 670.0 290.2 668.3 291.6C666.6 293.0 663.0 294.2 660.0 294.9C656.9 295.6 652.5 296.4 650.0 295.7C647.5 295.0 644.7 292.3 645.0 290.7Z" fill="#2EFF00"/>
<path d="M648.3 319.9C649.2 319.2 652.2 318.6 653.3 319.1C654.4 319.5 655.2 321.3 655.0 322.4C654.7 323.5 652.8 325.6 651.6 325.7C650.5 325.9 648.5 324.2 648.0 323.2C647.4 322.2 647.4 320.6 648.3 319.9Z" fill="#00B9FF"/>
<path d="M636.6 334.9C637.5 335.4 641.4 340.2 643.3 343.2C645.2 346.3 648.0 351.8 648.3 353.2C648.6 354.6 646.6 353.8 645.0 351.5C643.3 349.3 639.7 342.7 638.3 339.9C636.9 337.1 635.8 334.3 636.6 334.9Z" fill="#00FF2E"/>
<path d="M733.2 333.2C734.4 331.0 736.8 328.9 739.9 328.2C743.0 327.5 748.0 329.3 751.6 329.1C755.2 328.8 758.6 327.4 761.6 326.6C764.5 325.7 768.2 323.5 769.1 324.1C769.9 324.6 768.1 327.8 766.6 329.9C765.0 332.0 761.6 334.0 759.9 336.5C758.2 339.0 758.5 342.7 756.6 344.9C754.6 347.1 750.7 348.1 748.2 349.9C745.7 351.7 743.5 355.7 741.6 355.7C739.6 355.7 738.0 352.2 736.6 349.9C735.2 347.5 733.8 344.3 733.2 341.5C732.7 338.8 732.1 335.4 733.2 333.2Z" fill="#005DFF"/>
<path d="M706.6 343.2C708.8 341.5 712.1 342.7 714.9 343.2C717.7 343.8 720.7 345.6 723.2 346.5C725.7 347.5 729.4 346.8 729.9 349.0C730.5 351.3 728.0 356.4 726.6 359.9C725.2 363.3 723.2 367.1 721.6 369.9C719.9 372.6 718.8 374.9 716.6 376.5C714.4 378.2 710.5 377.9 708.3 379.9C706.0 381.8 704.9 387.6 703.3 388.2C701.6 388.7 699.4 386.0 698.3 383.2C697.2 380.4 696.9 374.9 696.6 371.5C696.3 368.2 695.8 366.2 696.6 363.2C697.4 360.1 699.9 356.5 701.6 353.2C703.3 349.9 704.4 344.9 706.6 343.2Z" fill="#005DFF"/>
<path d="M693.3 394.8C693.5 392.9 696.3 390.4 698.3 389.8C700.2 389.3 703.0 388.0 704.9 391.5C706.9 395.0 710.5 407.7 709.9 411.0C709.4 414.2 703.8 412.6 701.6 411.0C699.4 409.4 698.0 404.2 696.6 401.5C695.2 398.8 693.0 396.8 693.3 394.8Z" fill="#005DFF"/>
<path d="M730.7 349.0C731.9 347.9 733.1 350.3 734.9 351.5C736.7 352.8 741.0 353.5 741.6 356.5C742.1 359.6 739.9 365.4 738.2 369.9C736.6 374.3 733.8 379.0 731.6 383.2C729.4 387.3 726.9 390.2 724.9 394.8C723.0 399.5 722.4 408.3 719.9 411.0C717.4 413.7 712.1 413.7 709.9 411.0C707.7 408.3 706.9 399.8 706.6 394.8C706.3 389.9 706.3 384.6 708.3 381.5C710.2 378.5 715.8 378.7 718.3 376.5C720.7 374.3 721.6 371.2 723.2 368.2C724.9 365.1 727.0 361.4 728.2 358.2C729.5 355.0 729.6 350.1 730.7 349.0Z" fill="#00FFE8"/>
<path d="M763.2 361.5C766.3 360.1 769.1 365.3 771.5 364.9C774.0 364.4 775.7 359.9 778.2 359.0C780.7 358.2 783.8 358.1 786.5 359.9C789.3 361.7 791.8 365.7 794.9 369.9C797.9 374.0 801.8 379.9 804.9 384.8C807.9 389.8 811.0 395.5 813.2 399.8C815.4 404.2 818.7 410.2 818.2 411.0C817.6 411.8 813.7 406.7 809.9 404.8C806.0 403.0 800.1 401.2 794.9 399.8C789.6 398.4 782.7 396.2 778.2 396.5C773.8 396.8 770.4 399.1 768.2 401.5C766.0 403.9 767.4 408.2 764.9 411.0C762.4 413.8 757.9 418.2 753.2 418.2C748.5 418.2 739.1 414.6 736.6 411.0C734.1 407.4 736.8 400.9 738.2 396.5C739.6 392.1 742.4 388.7 744.9 384.8C747.4 381.0 750.2 377.1 753.2 373.2C756.3 369.3 760.2 362.9 763.2 361.5Z" fill="#00FFE8"/>
<path d="M796.5 378.2C797.1 377.4 800.7 380.4 803.2 383.2C805.7 386.0 808.7 391.0 811.5 394.8C814.3 398.7 817.4 403.2 819.9 406.5C822.3 409.8 827.1 413.4 826.5 414.8C826.0 416.2 819.6 417.3 816.5 414.8C813.5 412.3 811.0 404.3 808.2 399.8C805.4 395.4 801.8 391.8 799.9 388.2C797.9 384.6 796.0 379.0 796.5 378.2Z" fill="#00FF8B"/>
<path d="M808.2 388.2C809.3 389.0 815.4 397.7 818.2 401.5C821.0 405.3 824.6 409.4 824.8 411.0C825.1 412.6 822.1 413.4 819.9 411.0C817.6 408.6 813.5 400.3 811.5 396.5C809.6 392.7 807.1 387.3 808.2 388.2Z" fill="#2EFF00"/>
<path d="M743.2 411.0C742.4 412.7 746.3 414.9 748.2 416.0C750.2 417.1 752.7 417.9 754.9 417.7C757.1 417.4 760.2 415.4 761.6 414.3C762.9 413.2 764.6 412.4 763.2 411.0C761.8 409.6 756.6 406.0 753.2 406.0C749.9 406.0 744.1 409.3 743.2 411.0Z" fill="#00FFE8"/>
<path d="M733.2 441.0C734.6 438.9 741.3 438.8 744.9 438.5C748.5 438.2 751.6 439.5 754.9 439.3C758.2 439.2 761.6 439.0 764.9 437.6C768.2 436.3 772.1 433.5 774.9 431.0C777.7 428.5 779.0 423.6 781.5 422.7C784.0 421.7 787.4 424.0 789.9 425.2C792.4 426.3 795.0 426.4 796.5 429.3C798.1 432.2 799.3 439.3 799.0 442.6C798.8 446.0 797.2 447.1 794.9 449.3C792.5 451.5 788.2 453.7 784.9 456.0C781.5 458.2 776.8 460.4 774.9 462.6C772.9 464.9 772.4 467.8 773.2 469.3C774.0 470.8 777.1 471.9 779.9 471.8C782.7 471.7 786.7 469.3 789.9 468.5C793.1 467.6 796.3 465.8 799.0 466.8C801.8 467.8 804.9 471.9 806.5 474.3C808.2 476.7 809.6 478.2 809.0 481.0C808.5 483.7 805.1 488.2 803.2 490.9C801.3 493.7 798.2 494.8 797.4 497.6C796.5 500.4 797.2 503.7 798.2 507.6C799.2 511.5 801.8 517.0 803.2 520.9C804.6 524.8 807.9 532.6 806.5 530.9C805.1 529.3 799.6 518.2 794.9 510.9C790.1 503.7 785.2 495.4 778.2 487.6C771.3 479.8 760.2 470.4 753.2 464.3C746.3 458.2 739.9 454.9 736.6 451.0C733.2 447.1 731.9 443.1 733.2 441.0Z" fill="#005DFF"/>
<path d="M811.5 442.6C812.1 440.1 815.4 437.6 818.2 436.0C821.0 434.3 824.8 431.3 828.2 432.7C831.5 434.0 833.7 441.0 838.2 444.3C842.6 447.6 849.8 448.5 854.8 452.6C859.8 456.8 863.7 463.5 868.2 469.3C872.6 475.1 877.9 481.8 881.5 487.6C885.1 493.4 887.7 498.7 889.8 504.3C891.9 509.8 894.2 517.6 894.0 520.9C893.7 524.3 891.3 523.4 888.1 524.3C884.9 525.1 878.7 525.1 874.8 525.9C870.9 526.8 866.9 527.3 864.8 529.3C862.7 531.2 862.6 534.5 862.3 537.6C862.0 540.6 863.8 544.2 863.2 547.6C862.5 550.9 860.1 555.1 858.2 557.6C856.2 560.1 854.3 561.6 851.5 562.6C848.7 563.5 844.8 562.4 841.5 563.4C838.2 564.4 834.0 566.3 831.5 568.4C829.0 570.5 827.9 573.3 826.5 575.9C825.1 578.5 824.6 581.4 823.2 584.2C821.8 587.0 819.9 590.0 818.2 592.5C816.5 595.0 814.6 598.9 813.2 599.2C811.8 599.5 810.6 597.8 809.9 594.2C809.2 590.6 808.9 583.1 809.0 577.6C809.2 572.0 810.7 566.7 810.7 560.9C810.7 555.1 809.9 548.1 809.0 542.6C808.2 537.0 805.7 531.8 805.7 527.6C805.7 523.4 808.6 521.5 809.0 517.6C809.4 513.7 808.2 507.9 808.2 504.3C808.2 500.7 807.6 497.9 809.0 495.9C810.4 494.0 813.9 493.7 816.5 492.6C819.2 491.5 822.9 491.2 824.8 489.3C826.8 487.3 828.2 484.6 828.2 481.0C828.2 477.3 826.0 471.2 824.8 467.6C823.7 464.0 823.2 462.1 821.5 459.3C819.9 456.5 816.5 453.7 814.9 451.0C813.2 448.2 811.0 445.1 811.5 442.6Z" fill="#00FFE8"/>
<path d="M828.2 447.6C829.0 446.0 833.2 443.8 836.5 444.3C839.8 444.9 844.0 448.2 848.2 451.0C852.3 453.7 857.0 456.5 861.5 461.0C865.9 465.4 871.5 472.9 874.8 477.6C878.1 482.3 882.0 486.5 881.5 489.3C880.9 492.1 873.7 491.8 871.5 494.3C869.3 496.8 869.3 501.5 868.2 504.3C867.0 507.0 867.0 509.3 864.8 510.9C862.6 512.6 857.6 512.6 854.8 514.3C852.1 515.9 849.0 518.2 848.2 520.9C847.3 523.7 850.4 527.6 849.8 530.9C849.3 534.3 846.5 538.1 844.8 540.9C843.2 543.7 842.1 545.9 839.8 547.6C837.6 549.2 834.0 550.9 831.5 550.9C829.0 550.9 826.2 549.5 824.8 547.6C823.5 545.6 822.9 542.3 823.2 539.2C823.5 536.2 826.2 532.3 826.5 529.3C826.8 526.2 826.0 523.7 824.8 520.9C823.7 518.2 821.0 514.8 819.9 512.6C818.7 510.4 816.8 509.3 818.2 507.6C819.6 505.9 824.8 503.7 828.2 502.6C831.5 501.5 836.0 502.3 838.2 500.9C840.4 499.6 841.8 497.1 841.5 494.3C841.2 491.5 837.6 487.6 836.5 484.3C835.4 481.0 834.8 478.2 834.8 474.3C834.8 470.4 837.1 464.3 836.5 461.0C836.0 457.6 832.9 456.5 831.5 454.3C830.1 452.1 827.3 449.3 828.2 447.6Z" fill="#00FF8B"/>
<path d="M816.5 409.3C817.4 407.1 824.6 406.8 828.2 409.3C831.8 411.8 834.3 419.3 838.2 424.3C842.1 429.3 847.3 434.0 851.5 439.3C855.7 444.6 860.1 451.0 863.2 456.0C866.2 461.0 869.5 465.7 869.8 469.3C870.1 472.9 866.8 474.8 864.8 477.6C862.9 480.4 860.4 483.2 858.2 486.0C855.9 488.7 854.0 493.7 851.5 494.3C849.0 494.8 845.1 491.8 843.2 489.3C841.2 486.8 841.2 482.6 839.8 479.3C838.4 476.0 834.6 472.3 834.8 469.3C835.1 466.2 839.8 462.9 841.5 461.0C843.2 459.0 845.1 459.9 844.8 457.6C844.6 455.4 842.1 451.5 839.8 447.6C837.6 443.8 834.3 438.5 831.5 434.3C828.7 430.2 825.7 426.8 823.2 422.7C820.7 418.5 815.7 411.6 816.5 409.3Z" fill="#00FF2E"/>
<path d="M834.8 427.7C836.0 427.7 844.0 438.8 848.2 444.3C852.3 449.9 857.6 456.0 859.8 461.0C862.0 466.0 862.3 470.4 861.5 474.3C860.7 478.2 857.0 481.5 854.8 484.3C852.6 487.1 850.1 491.2 848.2 490.9C846.2 490.7 843.7 486.2 843.2 482.6C842.6 479.0 843.7 472.9 844.8 469.3C845.9 465.7 850.4 465.1 849.8 461.0C849.3 456.8 844.0 449.9 841.5 444.3C839.0 438.8 833.7 427.7 834.8 427.7Z" fill="#2EFF00"/>
<path d="M889.8 540.9C887.9 542.3 887.6 546.2 886.5 549.2C885.4 552.3 884.8 556.7 883.1 559.2C881.5 561.7 879.0 562.3 876.5 564.2C874.0 566.2 870.6 568.7 868.2 570.9C865.7 573.1 863.7 575.9 861.5 577.6C859.3 579.2 857.0 580.5 854.8 580.9C852.6 581.3 849.6 579.2 848.2 580.1C846.8 580.9 846.5 583.5 846.5 585.9C846.5 588.2 846.8 592.5 848.2 594.2C849.6 595.9 852.6 594.8 854.8 595.9C857.0 597.0 859.3 598.7 861.5 600.9C863.7 603.1 865.4 607.3 868.2 609.2C870.9 611.1 875.9 611.1 878.1 612.5C880.4 613.9 881.8 615.0 881.5 617.5C881.2 620.0 878.7 624.5 876.5 627.5C874.3 630.6 871.2 633.1 868.2 635.9C865.1 638.6 859.5 640.8 858.2 644.2C856.8 647.5 859.3 650.3 859.8 655.8C860.4 661.4 852.9 673.9 861.5 677.5C870.1 681.1 903.1 696.9 911.5 677.5C919.8 658.1 913.7 583.7 911.5 560.9C909.2 538.1 901.7 544.2 898.1 540.9C894.5 537.6 891.7 539.5 889.8 540.9Z" fill="#005DFF"/>
<path d="M818.2 620.9C819.7 618.9 822.6 616.8 824.8 615.9C827.1 614.9 829.7 614.2 831.5 615.0C833.3 615.9 835.1 618.5 835.7 620.9C836.2 623.2 835.8 626.4 834.8 629.2C833.9 632.0 831.8 635.9 829.8 637.5C827.9 639.2 825.3 639.7 823.2 639.2C821.1 638.6 818.6 636.1 817.4 634.2C816.1 632.2 815.5 629.7 815.7 627.5C815.8 625.3 816.7 622.8 818.2 620.9Z" fill="#005DFF"/>
<path d="M839.8 599.2C840.9 598.9 842.9 600.6 844.8 602.5C846.8 604.5 849.8 608.4 851.5 610.9C853.2 613.4 855.1 614.8 854.8 617.5C854.5 620.3 851.2 623.9 849.8 627.5C848.4 631.1 847.6 635.6 846.5 639.2C845.4 642.8 844.6 647.2 843.2 649.2C841.8 651.1 839.3 651.7 838.2 650.8C837.1 650.0 836.0 647.0 836.5 644.2C837.1 641.4 840.4 637.8 841.5 634.2C842.6 630.6 843.4 626.4 843.2 622.5C842.9 618.6 840.7 613.9 839.8 610.9C839.0 607.8 838.2 606.1 838.2 604.2C838.2 602.3 838.7 599.5 839.8 599.2Z" fill="#00FFE8"/>
<path d="M810.7 560.9C811.4 560.9 813.0 572.0 813.2 577.6C813.3 583.1 811.2 590.6 811.5 594.2C811.8 597.8 815.1 598.7 814.9 599.2C814.6 599.8 810.8 601.2 809.9 597.5C808.9 593.9 808.9 583.7 809.0 577.6C809.2 571.4 810.0 560.9 810.7 560.9Z" fill="#00FFE8"/>
<path d="M818.2 650.8C818.7 650.0 826.0 652.8 828.2 654.2C830.4 655.6 832.1 658.3 831.5 659.2C831.0 660.0 827.1 660.6 824.8 659.2C822.6 657.8 817.6 651.7 818.2 650.8Z" fill="#00FF8B"/>
</g></g></g>
<clipPath id="cp3"><path d="M1005.0 168.3C1009.1 168.2 1015.0 169.2 1020.0 170.8C1025.0 172.5 1030.2 175.4 1035.0 178.3C1039.7 181.2 1044.1 184.7 1048.3 188.3C1052.4 191.9 1056.3 195.5 1059.9 200.0C1063.5 204.4 1066.9 209.7 1069.9 215.0C1073.0 220.2 1075.5 226.1 1078.3 231.6C1081.0 237.2 1084.1 243.0 1086.6 248.3C1089.1 253.5 1091.0 258.3 1093.2 263.3C1095.5 268.3 1097.1 273.8 1099.9 278.3C1102.7 282.7 1106.6 285.7 1109.9 289.9C1113.2 294.1 1116.8 298.8 1119.9 303.2C1123.0 307.7 1125.4 311.8 1128.2 316.6C1131.0 321.3 1133.8 326.3 1136.6 331.5C1139.3 336.8 1141.8 342.7 1144.9 348.2C1147.9 353.8 1151.5 359.3 1154.9 364.9C1158.2 370.4 1161.5 376.2 1164.9 381.5C1168.2 386.8 1171.3 391.6 1174.9 396.5C1178.5 401.4 1182.6 406.1 1186.5 411.0C1190.4 415.9 1194.0 420.7 1198.2 426.0C1202.3 431.3 1207.1 437.1 1211.5 442.6C1215.9 448.2 1220.4 453.7 1224.8 459.3C1229.3 464.8 1234.3 470.7 1238.2 476.0C1242.0 481.2 1245.1 485.4 1248.1 490.9C1251.2 496.5 1254.5 503.2 1256.5 509.3C1258.4 515.4 1259.1 521.2 1259.8 527.6C1260.5 534.0 1260.4 540.6 1260.6 547.6C1260.9 554.5 1260.8 562.0 1261.5 569.2C1262.2 576.4 1263.6 583.9 1264.8 590.9C1266.0 597.8 1267.7 604.2 1269.0 610.9C1270.2 617.5 1271.7 624.7 1272.3 630.8C1272.9 637.0 1272.7 642.7 1272.3 647.5C1271.9 652.3 1271.3 656.1 1269.8 659.7C1268.3 663.2 1266.2 666.7 1263.1 668.8C1260.1 670.9 1255.6 671.8 1251.5 672.2C1247.3 672.5 1243.1 671.7 1238.2 670.8C1233.2 670.0 1227.0 668.7 1221.5 667.0C1215.9 665.3 1210.1 663.2 1204.8 660.8C1199.6 658.4 1194.0 655.3 1189.9 652.5C1185.7 649.7 1182.2 647.5 1179.9 644.2C1177.5 640.8 1176.7 637.5 1175.7 632.5C1174.7 627.5 1174.4 620.6 1174.0 614.2C1173.6 607.8 1173.5 600.9 1173.2 594.2C1172.9 587.5 1172.9 580.6 1172.4 574.2C1171.8 567.8 1171.4 562.0 1169.9 555.9C1168.3 549.8 1165.7 543.4 1163.2 537.6C1160.7 531.7 1157.6 526.2 1154.9 520.9C1152.1 515.6 1149.3 510.9 1146.5 505.9C1143.8 500.9 1141.3 495.4 1138.2 490.9C1135.2 486.5 1132.1 482.9 1128.2 479.3C1124.3 475.7 1119.1 472.6 1114.9 469.3C1110.7 466.0 1106.8 462.9 1103.2 459.3C1099.6 455.7 1096.3 451.8 1093.2 447.6C1090.2 443.5 1087.4 438.8 1084.9 434.3C1082.4 429.9 1081.3 424.9 1078.3 421.0C1075.2 417.1 1069.9 414.0 1066.6 411.0C1063.3 408.0 1061.3 406.1 1058.3 403.2C1055.2 400.2 1051.9 396.8 1048.3 393.2C1044.7 389.6 1040.5 385.1 1036.6 381.5C1032.7 377.9 1028.6 375.1 1025.0 371.5C1021.4 367.9 1018.0 364.3 1015.0 359.9C1011.9 355.4 1009.4 349.9 1006.6 344.9C1003.9 339.9 1000.9 335.2 998.3 329.9C995.7 324.6 992.6 318.8 990.8 313.2C989.0 307.7 988.3 302.1 987.5 296.6C986.7 291.0 986.4 285.5 985.8 279.9C985.3 274.4 985.1 268.3 984.2 263.3C983.2 258.3 981.5 254.4 980.0 249.9C978.5 245.5 976.4 241.3 975.0 236.6C973.6 231.9 971.9 226.6 971.7 221.6C971.4 216.6 972.2 211.1 973.3 206.6C974.4 202.2 976.1 198.9 978.3 195.0C980.5 191.1 983.9 187.2 986.7 183.3C989.4 179.4 991.9 174.2 995.0 171.7C998.0 169.2 1000.8 168.5 1005.0 168.3Z"/></clipPath>
<g filter="url(#bl)"><g clip-path="url(#cp3)">
<path d="M1005.0 168.3C1009.1 168.2 1015.0 169.2 1020.0 170.8C1025.0 172.5 1030.2 175.4 1035.0 178.3C1039.7 181.2 1044.1 184.7 1048.3 188.3C1052.4 191.9 1056.3 195.5 1059.9 200.0C1063.5 204.4 1066.9 209.7 1069.9 215.0C1073.0 220.2 1075.5 226.1 1078.3 231.6C1081.0 237.2 1084.1 243.0 1086.6 248.3C1089.1 253.5 1091.0 258.3 1093.2 263.3C1095.5 268.3 1097.1 273.8 1099.9 278.3C1102.7 282.7 1106.6 285.7 1109.9 289.9C1113.2 294.1 1116.8 298.8 1119.9 303.2C1123.0 307.7 1125.4 311.8 1128.2 316.6C1131.0 321.3 1133.8 326.3 1136.6 331.5C1139.3 336.8 1141.8 342.7 1144.9 348.2C1147.9 353.8 1151.5 359.3 1154.9 364.9C1158.2 370.4 1161.5 376.2 1164.9 381.5C1168.2 386.8 1171.3 391.6 1174.9 396.5C1178.5 401.4 1182.6 406.1 1186.5 411.0C1190.4 415.9 1194.0 420.7 1198.2 426.0C1202.3 431.3 1207.1 437.1 1211.5 442.6C1215.9 448.2 1220.4 453.7 1224.8 459.3C1229.3 464.8 1234.3 470.7 1238.2 476.0C1242.0 481.2 1245.1 485.4 1248.1 490.9C1251.2 496.5 1254.5 503.2 1256.5 509.3C1258.4 515.4 1259.1 521.2 1259.8 527.6C1260.5 534.0 1260.4 540.6 1260.6 547.6C1260.9 554.5 1260.8 562.0 1261.5 569.2C1262.2 576.4 1263.6 583.9 1264.8 590.9C1266.0 597.8 1267.7 604.2 1269.0 610.9C1270.2 617.5 1271.7 624.7 1272.3 630.8C1272.9 637.0 1272.7 642.7 1272.3 647.5C1271.9 652.3 1271.3 656.1 1269.8 659.7C1268.3 663.2 1266.2 666.7 1263.1 668.8C1260.1 670.9 1255.6 671.8 1251.5 672.2C1247.3 672.5 1243.1 671.7 1238.2 670.8C1233.2 670.0 1227.0 668.7 1221.5 667.0C1215.9 665.3 1210.1 663.2 1204.8 660.8C1199.6 658.4 1194.0 655.3 1189.9 652.5C1185.7 649.7 1182.2 647.5 1179.9 644.2C1177.5 640.8 1176.7 637.5 1175.7 632.5C1174.7 627.5 1174.4 620.6 1174.0 614.2C1173.6 607.8 1173.5 600.9 1173.2 594.2C1172.9 587.5 1172.9 580.6 1172.4 574.2C1171.8 567.8 1171.4 562.0 1169.9 555.9C1168.3 549.8 1165.7 543.4 1163.2 537.6C1160.7 531.7 1157.6 526.2 1154.9 520.9C1152.1 515.6 1149.3 510.9 1146.5 505.9C1143.8 500.9 1141.3 495.4 1138.2 490.9C1135.2 486.5 1132.1 482.9 1128.2 479.3C1124.3 475.7 1119.1 472.6 1114.9 469.3C1110.7 466.0 1106.8 462.9 1103.2 459.3C1099.6 455.7 1096.3 451.8 1093.2 447.6C1090.2 443.5 1087.4 438.8 1084.9 434.3C1082.4 429.9 1081.3 424.9 1078.3 421.0C1075.2 417.1 1069.9 414.0 1066.6 411.0C1063.3 408.0 1061.3 406.1 1058.3 403.2C1055.2 400.2 1051.9 396.8 1048.3 393.2C1044.7 389.6 1040.5 385.1 1036.6 381.5C1032.7 377.9 1028.6 375.1 1025.0 371.5C1021.4 367.9 1018.0 364.3 1015.0 359.9C1011.9 355.4 1009.4 349.9 1006.6 344.9C1003.9 339.9 1000.9 335.2 998.3 329.9C995.7 324.6 992.6 318.8 990.8 313.2C989.0 307.7 988.3 302.1 987.5 296.6C986.7 291.0 986.4 285.5 985.8 279.9C985.3 274.4 985.1 268.3 984.2 263.3C983.2 258.3 981.5 254.4 980.0 249.9C978.5 245.5 976.4 241.3 975.0 236.6C973.6 231.9 971.9 226.6 971.7 221.6C971.4 216.6 972.2 211.1 973.3 206.6C974.4 202.2 976.1 198.9 978.3 195.0C980.5 191.1 983.9 187.2 986.7 183.3C989.4 179.4 991.9 174.2 995.0 171.7C998.0 169.2 1000.8 168.5 1005.0 168.3Z" fill="#00B9FF"/>
<g>
<path d="M965.0 258.3C968.1 267.3 978.3 258.8 983.3 259.1C988.3 259.4 990.8 260.1 995.0 259.9C999.1 259.8 1004.1 259.1 1008.3 258.3C1012.5 257.4 1016.4 256.6 1020.0 254.9C1023.6 253.3 1026.9 250.5 1030.0 248.3C1033.0 246.1 1035.8 244.4 1038.3 241.6C1040.8 238.8 1042.4 234.5 1044.9 231.6C1047.4 228.7 1050.8 224.4 1053.3 224.1C1055.8 223.8 1056.9 227.9 1059.9 230.0C1063.0 232.0 1068.0 234.7 1071.6 236.6C1075.2 238.6 1078.8 239.7 1081.6 241.6C1084.4 243.6 1085.5 247.2 1088.3 248.3C1091.0 249.4 1099.4 255.5 1098.2 248.3C1097.1 241.1 1088.5 217.7 1081.6 205.0C1074.6 192.2 1069.1 180.0 1056.6 171.7C1044.1 163.3 1020.5 153.6 1006.6 155.0C992.8 156.4 980.3 171.7 973.3 180.0C966.4 188.3 966.4 191.9 965.0 205.0C963.6 218.0 961.9 249.2 965.0 258.3Z" fill="#005DFF"/>
<path d="M1036.6 183.3C1037.2 182.8 1040.8 186.6 1043.3 188.3C1045.8 190.0 1049.1 191.4 1051.6 193.3C1054.1 195.3 1057.7 198.0 1058.3 200.0C1058.8 201.9 1056.9 205.2 1054.9 205.0C1053.0 204.7 1049.1 200.5 1046.6 198.3C1044.1 196.1 1041.6 194.1 1040.0 191.6C1038.3 189.1 1036.1 183.9 1036.6 183.3Z" fill="#00B9FF"/>
<path d="M983.3 193.3C983.6 189.6 990.8 177.2 993.3 175.0C995.8 172.8 996.1 178.0 998.3 180.0C1000.5 181.9 1004.8 184.6 1006.6 186.6C1008.4 188.7 1009.4 190.8 1009.1 192.5C1008.9 194.1 1007.9 195.8 1005.0 196.6C1002.1 197.5 995.3 198.0 991.6 197.5C988.0 196.9 983.0 197.1 983.3 193.3Z" fill="#0000FF"/>
<path d="M985.8 273.3C987.8 269.1 993.7 271.9 998.3 271.6C1002.9 271.3 1008.9 270.5 1013.3 271.6C1017.7 272.7 1021.9 278.3 1025.0 278.3C1028.0 278.3 1029.4 274.4 1031.6 271.6C1033.8 268.8 1036.3 264.9 1038.3 261.6C1040.2 258.3 1041.1 255.2 1043.3 251.6C1045.5 248.0 1048.8 242.2 1051.6 239.9C1054.4 237.7 1056.9 238.0 1059.9 238.3C1063.0 238.6 1067.4 239.4 1069.9 241.6C1072.4 243.8 1073.0 248.0 1074.9 251.6C1076.9 255.2 1078.5 259.9 1081.6 263.3C1084.6 266.6 1090.2 268.8 1093.2 271.6C1096.3 274.4 1098.0 276.3 1099.9 279.9C1101.9 283.5 1103.8 288.5 1104.9 293.2C1106.0 298.0 1106.8 303.2 1106.6 308.2C1106.3 313.2 1104.9 318.5 1103.2 323.2C1101.6 327.9 1098.8 332.4 1096.6 336.5C1094.4 340.7 1091.6 344.0 1089.9 348.2C1088.3 352.4 1088.0 357.4 1086.6 361.5C1085.2 365.7 1083.3 369.6 1081.6 373.2C1079.9 376.8 1078.8 381.5 1076.6 383.2C1074.4 384.8 1071.0 384.0 1068.3 383.2C1065.5 382.3 1062.7 379.6 1059.9 378.2C1057.2 376.8 1054.4 376.8 1051.6 374.9C1048.8 372.9 1046.6 369.9 1043.3 366.5C1040.0 363.2 1035.5 359.0 1031.6 354.9C1027.7 350.7 1023.6 344.0 1020.0 341.5C1016.4 339.0 1013.6 341.8 1010.0 339.9C1006.4 337.9 1001.6 334.3 998.3 329.9C995.0 325.4 991.9 318.8 990.0 313.2C988.0 307.7 987.3 303.2 986.7 296.6C986.0 289.9 983.9 277.4 985.8 273.3Z" fill="#00FFE8"/>
<path d="M987.5 283.2C989.3 280.5 994.0 280.5 998.3 279.9C1002.6 279.4 1008.9 279.6 1013.3 279.9C1017.7 280.2 1021.9 281.9 1025.0 281.6C1028.0 281.3 1029.4 280.2 1031.6 278.3C1033.8 276.3 1036.1 273.3 1038.3 269.9C1040.5 266.6 1042.4 261.9 1044.9 258.3C1047.4 254.7 1050.5 250.4 1053.3 248.3C1056.1 246.2 1058.8 245.5 1061.6 245.8C1064.4 246.1 1068.0 247.9 1069.9 249.9C1071.9 252.0 1072.4 254.7 1073.3 258.3C1074.1 261.9 1073.5 267.4 1074.9 271.6C1076.3 275.8 1079.9 279.6 1081.6 283.2C1083.3 286.9 1083.8 289.6 1084.9 293.2C1086.0 296.8 1087.1 301.6 1088.3 304.9C1089.4 308.2 1091.6 310.2 1091.6 313.2C1091.6 316.3 1089.4 320.2 1088.3 323.2C1087.1 326.3 1086.6 328.8 1084.9 331.5C1083.3 334.3 1080.5 337.1 1078.3 339.9C1076.0 342.7 1073.8 345.7 1071.6 348.2C1069.4 350.7 1066.3 352.6 1064.9 354.9C1063.5 357.1 1064.9 360.7 1063.3 361.5C1061.6 362.4 1058.0 360.7 1054.9 359.9C1051.9 359.0 1048.0 358.2 1044.9 356.5C1041.9 354.9 1039.1 352.4 1036.6 349.9C1034.1 347.4 1031.6 344.6 1030.0 341.5C1028.3 338.5 1027.7 334.6 1026.6 331.5C1025.5 328.5 1025.0 326.3 1023.3 323.2C1021.6 320.2 1019.1 314.9 1016.6 313.2C1014.1 311.6 1010.5 311.8 1008.3 313.2C1006.1 314.6 1005.0 319.1 1003.3 321.6C1001.6 324.1 1000.3 329.6 998.3 328.2C996.4 326.8 993.5 318.5 991.6 313.2C989.8 308.0 988.2 301.6 987.5 296.6C986.8 291.6 985.7 286.0 987.5 283.2Z" fill="#00FF8B"/>
<path d="M1015.0 293.2C1014.7 291.0 1017.7 289.4 1020.0 288.2C1022.2 287.1 1025.5 287.4 1028.3 286.6C1031.1 285.7 1034.1 285.7 1036.6 283.2C1039.1 280.7 1041.3 275.2 1043.3 271.6C1045.2 268.0 1046.3 264.4 1048.3 261.6C1050.2 258.8 1052.4 255.8 1054.9 254.9C1057.4 254.1 1061.0 254.9 1063.3 256.6C1065.5 258.3 1067.2 261.9 1068.3 264.9C1069.4 268.0 1069.1 271.6 1069.9 274.9C1070.8 278.3 1071.9 281.9 1073.3 284.9C1074.6 288.0 1076.6 290.7 1078.3 293.2C1079.9 295.7 1082.7 298.0 1083.3 299.9C1083.8 301.8 1083.3 302.7 1081.6 304.9C1079.9 307.1 1075.5 310.7 1073.3 313.2C1071.0 315.7 1069.9 317.4 1068.3 319.9C1066.6 322.4 1064.9 325.4 1063.3 328.2C1061.6 331.0 1060.2 333.8 1058.3 336.5C1056.3 339.3 1053.8 342.9 1051.6 344.9C1049.4 346.8 1047.2 348.5 1044.9 348.2C1042.7 347.9 1040.0 346.0 1038.3 343.2C1036.6 340.4 1036.1 335.2 1035.0 331.5C1033.8 327.9 1032.7 324.9 1031.6 321.6C1030.5 318.2 1030.0 314.9 1028.3 311.6C1026.6 308.2 1023.8 304.6 1021.6 301.6C1019.4 298.5 1015.2 295.5 1015.0 293.2Z" fill="#00FF2E"/>
<path d="M1028.3 294.9C1028.0 292.4 1033.8 292.4 1036.6 289.9C1039.4 287.4 1042.7 283.5 1044.9 279.9C1047.2 276.3 1048.3 271.3 1049.9 268.3C1051.6 265.2 1052.7 262.2 1054.9 261.6C1057.2 261.0 1061.0 262.7 1063.3 264.9C1065.5 267.1 1067.4 271.0 1068.3 274.9C1069.1 278.8 1067.7 283.8 1068.3 288.2C1068.8 292.7 1070.8 297.4 1071.6 301.6C1072.4 305.7 1074.4 310.7 1073.3 313.2C1072.2 315.7 1067.4 315.7 1064.9 316.6C1062.4 317.4 1060.5 318.5 1058.3 318.2C1056.1 317.9 1053.8 316.0 1051.6 314.9C1049.4 313.8 1047.2 313.2 1044.9 311.6C1042.7 309.9 1041.1 307.7 1038.3 304.9C1035.5 302.1 1028.6 297.4 1028.3 294.9Z" fill="#2EFF00"/>
<path d="M1047.4 286.6C1048.0 284.6 1050.2 282.1 1051.6 281.6C1053.0 281.0 1055.2 281.3 1055.8 283.2C1056.3 285.2 1055.6 291.0 1054.9 293.2C1054.2 295.5 1052.7 296.6 1051.6 296.6C1050.5 296.6 1049.0 294.9 1048.3 293.2C1047.6 291.6 1046.9 288.5 1047.4 286.6Z" fill="#8BFF00"/>
<path d="M1041.6 301.6C1042.2 300.7 1044.9 300.2 1046.6 300.7C1048.3 301.3 1051.3 303.8 1051.6 304.9C1051.9 306.0 1049.7 307.3 1048.3 307.4C1046.9 307.5 1044.4 306.7 1043.3 305.7C1042.2 304.8 1041.1 302.4 1041.6 301.6Z" fill="#8BFF00"/>
<path d="M1104.9 349.9C1106.3 348.2 1109.3 346.5 1111.6 344.9C1113.8 343.2 1115.2 340.2 1118.2 339.9C1121.3 339.6 1126.6 341.5 1129.9 343.2C1133.2 344.9 1135.2 348.2 1138.2 349.9C1141.3 351.5 1144.9 351.0 1148.2 353.2C1151.5 355.4 1154.3 357.6 1158.2 363.2C1162.1 368.7 1171.0 381.8 1171.5 386.5C1172.1 391.2 1163.8 389.8 1161.5 391.5C1159.3 393.2 1161.0 396.0 1158.2 396.5C1155.4 397.1 1149.3 395.1 1144.9 394.8C1140.4 394.6 1136.6 395.1 1131.6 394.8C1126.6 394.6 1120.5 393.7 1114.9 393.2C1109.3 392.6 1101.3 393.7 1098.2 391.5C1095.2 389.3 1096.3 384.0 1096.6 379.9C1096.9 375.7 1098.8 370.7 1099.9 366.5C1101.0 362.4 1102.4 357.6 1103.2 354.9C1104.1 352.1 1103.5 351.5 1104.9 349.9Z" fill="#005DFF"/>
<path d="M1028.3 371.5C1028.8 371.5 1033.3 375.1 1035.0 376.5C1036.6 377.9 1038.8 379.9 1038.3 379.9C1037.7 379.9 1033.3 377.9 1031.6 376.5C1030.0 375.1 1027.7 371.5 1028.3 371.5Z" fill="#005DFF"/>
<path d="M1048.3 393.2C1048.3 390.5 1055.5 393.5 1058.3 394.8C1061.0 396.2 1063.3 398.8 1064.9 401.5C1066.6 404.2 1069.4 409.4 1068.3 411.0C1067.2 412.6 1061.6 414.0 1058.3 411.0C1054.9 408.0 1048.3 395.9 1048.3 393.2Z" fill="#00FFE8"/>
<path d="M1141.5 411.0C1140.2 409.9 1144.3 408.4 1148.2 408.2C1152.1 408.0 1161.0 409.4 1164.9 409.8C1168.8 410.3 1172.9 410.2 1171.5 411.0C1170.1 411.8 1161.5 414.8 1156.5 414.8C1151.5 414.8 1142.9 412.1 1141.5 411.0Z" fill="#00FFE8"/>
<path d="M1169.9 394.8C1170.7 393.5 1172.1 392.1 1174.9 394.8C1177.6 397.5 1186.2 408.3 1186.5 411.0C1186.8 413.7 1179.3 412.3 1176.5 411.0C1173.7 409.7 1171.0 405.9 1169.9 403.2C1168.8 400.5 1169.0 396.2 1169.9 394.8Z" fill="#00FFE8"/>
<path d="M1064.9 409.3C1063.4 410.7 1072.2 414.9 1074.9 417.7C1077.7 420.4 1079.9 426.0 1081.6 426.0C1083.3 426.0 1084.5 420.4 1084.9 417.7C1085.3 414.9 1087.4 410.7 1084.1 409.3C1080.8 407.9 1066.5 407.9 1064.9 409.3Z" fill="#00FFE8"/>
<path d="M1143.2 409.3C1139.9 410.2 1147.9 413.8 1151.5 414.3C1155.2 414.9 1161.5 413.5 1164.9 412.7C1168.2 411.8 1175.1 409.9 1171.5 409.3C1167.9 408.8 1146.5 408.5 1143.2 409.3Z" fill="#00FFE8"/>
<path d="M1141.5 446.0C1141.8 444.9 1145.7 442.2 1148.2 441.0C1150.7 439.7 1153.2 439.6 1156.5 438.5C1159.9 437.4 1164.6 435.6 1168.2 434.3C1171.8 433.1 1177.1 433.2 1178.2 431.0C1179.3 428.8 1176.2 424.6 1174.9 421.0C1173.5 417.4 1167.1 411.3 1169.9 409.3C1172.6 407.4 1180.1 398.8 1191.5 409.3C1202.9 419.9 1229.0 459.6 1238.2 472.6C1247.3 485.7 1246.2 483.5 1246.5 487.6C1246.8 491.8 1239.5 494.6 1239.8 497.6C1240.1 500.7 1245.2 503.2 1248.1 505.9C1251.1 508.7 1254.8 510.7 1257.3 514.3C1259.8 517.9 1262.0 522.0 1263.1 527.6C1264.2 533.1 1263.8 541.2 1264.0 547.6C1264.1 554.0 1266.6 563.7 1264.0 565.9C1261.3 568.1 1253.0 562.3 1248.1 560.9C1243.3 559.5 1238.7 558.7 1234.8 557.6C1230.9 556.5 1227.0 556.5 1224.8 554.2C1222.6 552.0 1222.3 548.1 1221.5 544.2C1220.7 540.4 1220.4 535.4 1219.8 530.9C1219.3 526.5 1219.6 520.9 1218.2 517.6C1216.8 514.3 1214.0 511.8 1211.5 510.9C1209.0 510.1 1205.7 511.9 1203.2 512.6C1200.7 513.3 1199.0 515.4 1196.5 515.1C1194.0 514.8 1191.0 512.5 1188.2 510.9C1185.4 509.4 1182.1 507.9 1179.9 505.9C1177.6 504.0 1175.4 501.8 1174.9 499.3C1174.3 496.8 1176.8 493.7 1176.5 490.9C1176.2 488.2 1174.9 485.1 1173.2 482.6C1171.5 480.1 1167.9 478.5 1166.5 476.0C1165.1 473.5 1165.4 470.7 1164.9 467.6C1164.3 464.6 1164.3 460.7 1163.2 457.6C1162.1 454.6 1159.9 451.3 1158.2 449.3C1156.5 447.4 1155.2 446.3 1153.2 446.0C1151.3 445.7 1148.5 447.6 1146.5 447.6C1144.6 447.6 1141.3 447.1 1141.5 446.0Z" fill="#00FFE8"/>
<path d="M1179.9 416.0C1180.1 412.9 1181.2 408.2 1184.9 409.3C1188.5 410.4 1196.5 417.7 1201.5 422.7C1206.5 427.7 1210.4 433.8 1214.8 439.3C1219.3 444.9 1223.7 450.4 1228.2 456.0C1232.6 461.5 1239.0 468.2 1241.5 472.6C1244.0 477.1 1244.8 480.4 1243.1 482.6C1241.5 484.8 1235.7 484.8 1231.5 486.0C1227.3 487.1 1221.8 487.9 1218.2 489.3C1214.6 490.7 1212.3 493.7 1209.8 494.3C1207.3 494.8 1205.1 494.6 1203.2 492.6C1201.2 490.7 1200.1 485.7 1198.2 482.6C1196.2 479.6 1194.0 477.3 1191.5 474.3C1189.0 471.2 1185.7 467.9 1183.2 464.3C1180.7 460.7 1177.1 456.0 1176.5 452.6C1176.0 449.3 1178.2 446.5 1179.9 444.3C1181.5 442.1 1186.0 442.1 1186.5 439.3C1187.1 436.5 1184.3 431.5 1183.2 427.7C1182.1 423.8 1179.6 419.1 1179.9 416.0Z" fill="#00FF8B"/>
<path d="M1184.9 414.3C1184.9 411.8 1187.1 407.7 1189.9 409.3C1192.6 411.0 1198.5 419.9 1201.5 424.3C1204.6 428.8 1208.7 434.6 1208.2 436.0C1207.6 437.4 1201.2 434.6 1198.2 432.7C1195.1 430.7 1192.1 427.4 1189.9 424.3C1187.6 421.3 1184.9 416.8 1184.9 414.3Z" fill="#00FF2E"/>
<path d="M1208.2 459.3C1208.7 457.1 1212.1 452.9 1214.8 452.6C1217.6 452.4 1220.7 454.0 1224.8 457.6C1229.0 461.2 1238.7 471.2 1239.8 474.3C1240.9 477.3 1234.8 476.5 1231.5 476.0C1228.2 475.4 1223.2 472.6 1219.8 471.0C1216.5 469.3 1213.4 467.9 1211.5 466.0C1209.6 464.0 1207.6 461.5 1208.2 459.3Z" fill="#00FF2E"/>
<path d="M1093.2 442.6C1093.5 440.7 1097.1 439.9 1098.2 441.0C1099.4 442.1 1098.5 446.3 1099.9 449.3C1101.3 452.4 1104.6 456.5 1106.6 459.3C1108.5 462.1 1111.8 465.4 1111.6 466.0C1111.3 466.5 1107.4 464.9 1104.9 462.6C1102.4 460.4 1098.5 456.0 1096.6 452.6C1094.6 449.3 1093.0 444.6 1093.2 442.6Z" fill="#005DFF"/>
<path d="M1156.5 522.6C1156.7 520.4 1162.1 524.5 1164.9 525.9C1167.6 527.3 1170.8 528.7 1173.2 530.9C1175.6 533.1 1178.7 536.2 1179.0 539.2C1179.3 542.3 1176.1 545.9 1174.9 549.2C1173.6 552.6 1172.5 558.7 1171.5 559.2C1170.6 559.8 1170.3 555.9 1169.0 552.6C1167.8 549.2 1166.1 544.2 1164.0 539.2C1162.0 534.3 1156.4 524.8 1156.5 522.6Z" fill="#005DFF"/>
<path d="M1194.8 557.6C1195.3 555.3 1198.2 552.6 1199.8 550.9C1201.5 549.2 1203.0 547.3 1204.8 547.6C1206.6 547.9 1209.0 550.6 1210.7 552.6C1212.3 554.5 1215.0 557.0 1214.8 559.2C1214.7 561.5 1211.8 564.5 1209.8 565.9C1207.9 567.3 1205.3 567.8 1203.2 567.6C1201.1 567.3 1198.7 565.9 1197.3 564.2C1196.0 562.6 1194.4 559.8 1194.8 557.6Z" fill="#00FFE8"/>
<path d="M1171.5 599.2C1172.9 595.0 1177.4 593.4 1179.9 590.9C1182.4 588.4 1184.0 585.6 1186.5 584.2C1189.0 582.8 1192.3 582.0 1194.8 582.6C1197.3 583.1 1199.6 585.3 1201.5 587.5C1203.5 589.8 1205.5 592.5 1206.5 595.9C1207.5 599.2 1207.5 603.9 1207.3 607.5C1207.2 611.1 1205.4 614.8 1205.7 617.5C1206.0 620.3 1209.1 622.0 1209.0 624.2C1208.9 626.4 1207.2 628.9 1204.8 630.9C1202.5 632.8 1198.7 634.3 1194.8 635.9C1191.0 637.4 1184.9 639.7 1181.5 640.0C1178.2 640.3 1176.5 641.5 1174.9 637.5C1173.2 633.5 1172.1 622.2 1171.5 615.9C1171.0 609.5 1170.1 603.4 1171.5 599.2Z" fill="#005DFF"/>
<path d="M1209.0 594.2C1209.7 592.7 1212.3 590.3 1214.0 590.9C1215.7 591.4 1218.3 595.3 1219.0 597.5C1219.7 599.8 1219.1 603.0 1218.2 604.2C1217.2 605.5 1214.6 605.7 1213.2 605.0C1211.8 604.3 1210.5 601.8 1209.8 600.0C1209.1 598.2 1208.3 595.7 1209.0 594.2Z" fill="#005DFF"/>
<path d="M1231.5 584.2C1232.7 582.3 1235.7 581.3 1238.2 580.9C1240.6 580.5 1243.7 580.9 1246.5 581.7C1249.3 582.6 1251.5 585.1 1254.8 585.9C1258.1 586.7 1263.4 582.6 1266.5 586.7C1269.5 590.9 1271.5 602.7 1273.1 610.9C1274.8 619.1 1276.2 628.9 1276.5 635.9C1276.7 642.8 1276.7 645.6 1274.8 652.5C1272.9 659.4 1269.8 673.3 1264.8 677.5C1259.8 681.7 1248.7 680.8 1244.8 677.5C1240.9 674.2 1242.6 663.1 1241.5 657.5C1240.4 652.0 1238.2 649.2 1238.2 644.2C1238.2 639.2 1240.6 631.7 1241.5 627.5C1242.3 623.4 1243.7 622.0 1243.1 619.2C1242.6 616.4 1239.8 613.6 1238.2 610.9C1236.5 608.1 1234.4 605.6 1233.2 602.5C1231.9 599.5 1230.9 595.6 1230.7 592.5C1230.4 589.5 1230.2 586.2 1231.5 584.2Z" fill="#005DFF"/>
<path d="M1191.5 652.5C1190.7 650.6 1197.1 650.8 1199.8 649.2C1202.6 647.5 1206.0 643.1 1208.2 642.5C1210.4 642.0 1211.5 643.9 1213.2 645.8C1214.8 647.8 1217.1 651.1 1218.2 654.2C1219.3 657.2 1222.1 663.1 1219.8 664.2C1217.6 665.3 1209.6 662.8 1204.8 660.8C1200.1 658.9 1192.3 654.4 1191.5 652.5Z" fill="#00FFE8"/>
</g></g></g>
<clipPath id="cp4"><path d="M1380.0 160.8C1383.6 160.8 1388.9 161.8 1393.3 163.3C1397.7 164.9 1402.2 167.5 1406.6 170.0C1411.1 172.5 1415.8 175.3 1419.9 178.3C1424.1 181.4 1428.3 184.7 1431.6 188.3C1434.9 191.9 1437.4 195.8 1439.9 200.0C1442.4 204.1 1444.4 208.6 1446.6 213.3C1448.8 218.0 1451.0 223.0 1453.3 228.3C1455.5 233.6 1457.7 239.4 1459.9 244.9C1462.1 250.5 1464.6 256.6 1466.6 261.6C1468.5 266.6 1469.6 271.0 1471.6 274.9C1473.5 278.8 1475.5 281.9 1478.2 284.9C1481.0 288.0 1485.2 289.9 1488.2 293.2C1491.3 296.6 1493.8 300.7 1496.6 304.9C1499.3 309.1 1502.1 313.5 1504.9 318.2C1507.7 322.9 1510.2 327.9 1513.2 333.2C1516.3 338.5 1519.9 344.3 1523.2 349.9C1526.5 355.4 1529.9 361.0 1533.2 366.5C1536.5 372.1 1539.9 377.9 1543.2 383.2C1546.5 388.5 1549.9 393.5 1553.2 398.2C1556.5 402.8 1559.9 406.4 1563.2 411.0C1566.5 415.6 1569.6 420.7 1573.2 426.0C1576.8 431.3 1581.0 437.1 1584.8 442.6C1588.7 448.2 1592.6 453.7 1596.5 459.3C1600.4 464.8 1604.5 470.7 1608.2 476.0C1611.8 481.2 1615.1 485.9 1618.1 490.9C1621.2 495.9 1624.0 500.7 1626.5 505.9C1629.0 511.2 1631.3 516.8 1633.1 522.6C1634.9 528.4 1636.2 534.8 1637.3 540.9C1638.4 547.0 1638.8 553.1 1639.8 559.2C1640.8 565.3 1641.7 571.7 1643.1 577.6C1644.5 583.4 1646.6 588.7 1648.1 594.2C1649.7 599.8 1651.3 605.3 1652.3 610.9C1653.3 616.4 1654.1 622.0 1654.0 627.5C1653.8 633.1 1653.0 639.5 1651.5 644.2C1649.9 648.9 1647.6 652.9 1644.8 655.8C1642.0 658.7 1638.7 660.6 1634.8 661.7C1630.9 662.8 1626.2 662.9 1621.5 662.5C1616.8 662.1 1611.8 660.6 1606.5 659.2C1601.2 657.8 1594.8 656.1 1589.8 654.2C1584.8 652.2 1580.4 650.0 1576.5 647.5C1572.6 645.0 1569.3 642.8 1566.5 639.2C1563.7 635.6 1561.2 630.8 1559.9 625.9C1558.5 620.9 1558.9 614.7 1558.2 609.2C1557.5 603.6 1556.8 597.8 1555.7 592.5C1554.6 587.3 1553.3 582.5 1551.5 577.6C1549.7 572.6 1547.4 567.6 1544.9 562.6C1542.4 557.6 1539.3 552.6 1536.5 547.6C1533.8 542.6 1531.0 537.3 1528.2 532.6C1525.4 527.9 1522.7 523.7 1519.9 519.3C1517.1 514.8 1514.3 510.7 1511.6 505.9C1508.8 501.2 1506.0 495.7 1503.2 490.9C1500.4 486.2 1498.0 481.5 1494.9 477.6C1491.8 473.7 1488.5 471.2 1484.9 467.6C1481.3 464.0 1476.6 459.9 1473.2 456.0C1469.9 452.1 1467.4 448.7 1464.9 444.3C1462.4 439.9 1460.5 433.8 1458.3 429.3C1456.0 424.9 1453.8 420.9 1451.6 417.7C1449.4 414.4 1446.9 411.7 1444.9 409.8C1443.0 408.0 1443.0 409.0 1439.9 406.5C1436.9 404.0 1431.1 398.7 1426.6 394.8C1422.2 391.0 1417.4 387.1 1413.3 383.2C1409.1 379.3 1405.0 375.4 1401.6 371.5C1398.3 367.6 1395.8 364.0 1393.3 359.9C1390.8 355.7 1388.6 351.3 1386.6 346.5C1384.7 341.8 1383.4 337.1 1381.6 331.5C1379.8 326.0 1377.3 319.1 1375.8 313.2C1374.3 307.4 1373.7 302.1 1372.5 296.6C1371.2 291.0 1369.7 285.2 1368.3 279.9C1366.9 274.6 1365.5 269.4 1364.2 264.9C1362.8 260.5 1361.5 257.4 1360.0 253.3C1358.5 249.1 1356.7 244.7 1355.0 239.9C1353.3 235.2 1351.2 229.7 1350.0 225.0C1348.7 220.2 1347.5 216.1 1347.5 211.6C1347.5 207.2 1348.5 202.5 1350.0 198.3C1351.5 194.1 1354.2 190.8 1356.7 186.6C1359.2 182.5 1362.5 177.2 1365.0 173.3C1367.5 169.4 1369.1 165.4 1371.6 163.3C1374.1 161.2 1376.4 160.8 1380.0 160.8Z"/></clipPath>
<g filter="url(#bl)"><g clip-path="url(#cp4)">
<path d="M1380.0 160.8C1383.6 160.8 1388.9 161.8 1393.3 163.3C1397.7 164.9 1402.2 167.5 1406.6 170.0C1411.1 172.5 1415.8 175.3 1419.9 178.3C1424.1 181.4 1428.3 184.7 1431.6 188.3C1434.9 191.9 1437.4 195.8 1439.9 200.0C1442.4 204.1 1444.4 208.6 1446.6 213.3C1448.8 218.0 1451.0 223.0 1453.3 228.3C1455.5 233.6 1457.7 239.4 1459.9 244.9C1462.1 250.5 1464.6 256.6 1466.6 261.6C1468.5 266.6 1469.6 271.0 1471.6 274.9C1473.5 278.8 1475.5 281.9 1478.2 284.9C1481.0 288.0 1485.2 289.9 1488.2 293.2C1491.3 296.6 1493.8 300.7 1496.6 304.9C1499.3 309.1 1502.1 313.5 1504.9 318.2C1507.7 322.9 1510.2 327.9 1513.2 333.2C1516.3 338.5 1519.9 344.3 1523.2 349.9C1526.5 355.4 1529.9 361.0 1533.2 366.5C1536.5 372.1 1539.9 377.9 1543.2 383.2C1546.5 388.5 1549.9 393.5 1553.2 398.2C1556.5 402.8 1559.9 406.4 1563.2 411.0C1566.5 415.6 1569.6 420.7 1573.2 426.0C1576.8 431.3 1581.0 437.1 1584.8 442.6C1588.7 448.2 1592.6 453.7 1596.5 459.3C1600.4 464.8 1604.5 470.7 1608.2 476.0C1611.8 481.2 1615.1 485.9 1618.1 490.9C1621.2 495.9 1624.0 500.7 1626.5 505.9C1629.0 511.2 1631.3 516.8 1633.1 522.6C1634.9 528.4 1636.2 534.8 1637.3 540.9C1638.4 547.0 1638.8 553.1 1639.8 559.2C1640.8 565.3 1641.7 571.7 1643.1 577.6C1644.5 583.4 1646.6 588.7 1648.1 594.2C1649.7 599.8 1651.3 605.3 1652.3 610.9C1653.3 616.4 1654.1 622.0 1654.0 627.5C1653.8 633.1 1653.0 639.5 1651.5 644.2C1649.9 648.9 1647.6 652.9 1644.8 655.8C1642.0 658.7 1638.7 660.6 1634.8 661.7C1630.9 662.8 1626.2 662.9 1621.5 662.5C1616.8 662.1 1611.8 660.6 1606.5 659.2C1601.2 657.8 1594.8 656.1 1589.8 654.2C1584.8 652.2 1580.4 650.0 1576.5 647.5C1572.6 645.0 1569.3 642.8 1566.5 639.2C1563.7 635.6 1561.2 630.8 1559.9 625.9C1558.5 620.9 1558.9 614.7 1558.2 609.2C1557.5 603.6 1556.8 597.8 1555.7 592.5C1554.6 587.3 1553.3 582.5 1551.5 577.6C1549.7 572.6 1547.4 567.6 1544.9 562.6C1542.4 557.6 1539.3 552.6 1536.5 547.6C1533.8 542.6 1531.0 537.3 1528.2 532.6C1525.4 527.9 1522.7 523.7 1519.9 519.3C1517.1 514.8 1514.3 510.7 1511.6 505.9C1508.8 501.2 1506.0 495.7 1503.2 490.9C1500.4 486.2 1498.0 481.5 1494.9 477.6C1491.8 473.7 1488.5 471.2 1484.9 467.6C1481.3 464.0 1476.6 459.9 1473.2 456.0C1469.9 452.1 1467.4 448.7 1464.9 444.3C1462.4 439.9 1460.5 433.8 1458.3 429.3C1456.0 424.9 1453.8 420.9 1451.6 417.7C1449.4 414.4 1446.9 411.7 1444.9 409.8C1443.0 408.0 1443.0 409.0 1439.9 406.5C1436.9 404.0 1431.1 398.7 1426.6 394.8C1422.2 391.0 1417.4 387.1 1413.3 383.2C1409.1 379.3 1405.0 375.4 1401.6 371.5C1398.3 367.6 1395.8 364.0 1393.3 359.9C1390.8 355.7 1388.6 351.3 1386.6 346.5C1384.7 341.8 1383.4 337.1 1381.6 331.5C1379.8 326.0 1377.3 319.1 1375.8 313.2C1374.3 307.4 1373.7 302.1 1372.5 296.6C1371.2 291.0 1369.7 285.2 1368.3 279.9C1366.9 274.6 1365.5 269.4 1364.2 264.9C1362.8 260.5 1361.5 257.4 1360.0 253.3C1358.5 249.1 1356.7 244.7 1355.0 239.9C1353.3 235.2 1351.2 229.7 1350.0 225.0C1348.7 220.2 1347.5 216.1 1347.5 211.6C1347.5 207.2 1348.5 202.5 1350.0 198.3C1351.5 194.1 1354.2 190.8 1356.7 186.6C1359.2 182.5 1362.5 177.2 1365.0 173.3C1367.5 169.4 1369.1 165.4 1371.6 163.3C1374.1 161.2 1376.4 160.8 1380.0 160.8Z" fill="#00FFE8"/>
<g>
<path d="M1336.7 256.6C1340.3 273.5 1355.5 256.3 1361.7 256.6C1367.8 256.9 1369.1 257.4 1373.3 258.3C1377.5 259.1 1382.7 260.3 1386.6 261.6C1390.5 262.8 1393.3 264.9 1396.6 265.8C1400.0 266.6 1403.8 267.3 1406.6 266.6C1409.4 265.9 1411.8 264.1 1413.3 261.6C1414.8 259.1 1415.0 255.5 1415.8 251.6C1416.6 247.7 1417.0 242.2 1418.3 238.3C1419.5 234.4 1420.8 230.2 1423.3 228.3C1425.8 226.3 1429.4 226.6 1433.3 226.6C1437.2 226.6 1441.0 227.6 1446.6 228.3C1452.1 229.0 1464.9 234.7 1466.6 230.8C1468.2 226.9 1461.0 217.6 1456.6 205.0C1452.1 192.3 1459.4 163.3 1439.9 155.0C1420.5 146.7 1357.2 138.1 1340.0 155.0C1322.8 171.9 1333.1 239.7 1336.7 256.6Z" fill="#00B9FF"/>
<path d="M1336.7 244.9C1339.3 259.1 1351.4 240.2 1355.8 239.9C1360.3 239.7 1360.4 242.2 1363.3 243.3C1366.2 244.4 1370.0 245.8 1373.3 246.6C1376.6 247.4 1379.7 247.9 1383.3 247.9C1386.9 247.9 1391.4 247.7 1395.0 246.6C1398.6 245.6 1401.9 243.6 1405.0 241.6C1408.0 239.7 1411.1 237.7 1413.3 234.9C1415.5 232.2 1416.6 227.6 1418.3 225.0C1419.9 222.3 1420.8 220.8 1423.3 219.1C1425.8 217.5 1429.1 215.9 1433.3 215.0C1437.4 214.0 1443.0 213.6 1448.3 213.3C1453.5 213.0 1466.3 223.0 1464.9 213.3C1463.5 203.6 1460.8 164.7 1439.9 155.0C1419.1 145.3 1357.2 140.0 1340.0 155.0C1322.8 170.0 1334.0 230.8 1336.7 244.9Z" fill="#005DFF"/>
<path d="M1336.7 211.6C1339.4 217.3 1351.7 207.2 1356.7 205.8C1361.7 204.4 1363.3 203.9 1366.6 203.3C1370.0 202.7 1373.3 202.2 1376.6 202.5C1380.0 202.7 1383.3 204.3 1386.6 205.0C1390.0 205.7 1393.3 205.8 1396.6 206.6C1400.0 207.5 1403.8 209.4 1406.6 210.0C1409.4 210.5 1411.3 211.4 1413.3 210.0C1415.2 208.6 1416.9 203.9 1418.3 201.6C1419.7 199.4 1419.7 197.7 1421.6 196.6C1423.6 195.5 1425.8 195.9 1429.9 195.0C1434.1 194.0 1447.7 196.9 1446.6 190.8C1445.5 184.7 1434.4 164.9 1423.3 158.3C1412.2 151.8 1393.9 149.4 1380.0 151.7C1366.1 153.9 1347.2 161.7 1340.0 171.7C1332.8 181.6 1333.9 205.9 1336.7 211.6Z" fill="#0000FF"/>
<path d="M1464.1 286.6C1464.8 285.6 1467.6 284.1 1469.9 284.1C1472.3 284.1 1475.5 285.1 1478.2 286.6C1481.0 288.1 1483.8 290.5 1486.6 293.2C1489.3 296.0 1492.1 299.3 1494.9 303.2C1497.7 307.1 1501.3 313.2 1503.2 316.6C1505.2 319.9 1507.4 322.1 1506.6 323.2C1505.7 324.3 1501.0 324.1 1498.2 323.2C1495.5 322.4 1492.1 320.4 1489.9 318.2C1487.7 316.0 1486.6 312.7 1484.9 309.9C1483.2 307.1 1482.1 304.3 1479.9 301.6C1477.7 298.8 1473.9 295.2 1471.6 293.2C1469.2 291.3 1467.0 291.0 1465.7 289.9C1464.5 288.8 1463.4 287.6 1464.1 286.6Z" fill="#00B9FF"/>
<path d="M1368.3 294.9C1368.3 290.7 1373.9 297.4 1376.6 299.9C1379.4 302.4 1382.2 306.6 1385.0 309.9C1387.7 313.2 1392.0 316.3 1393.3 319.9C1394.5 323.5 1393.0 327.1 1392.5 331.5C1391.9 336.0 1391.2 342.7 1390.0 346.5C1388.7 350.4 1387.2 358.5 1385.0 354.9C1382.7 351.3 1379.4 334.9 1376.6 324.9C1373.9 314.9 1368.3 299.1 1368.3 294.9Z" fill="#00B9FF"/>
<path d="M1370.0 294.9C1370.5 293.8 1375.5 303.8 1377.5 308.2C1379.4 312.7 1380.4 316.8 1381.6 321.6C1382.9 326.3 1385.1 334.0 1385.0 336.5C1384.8 339.0 1382.6 340.2 1380.8 336.5C1379.0 332.9 1375.9 321.8 1374.1 314.9C1372.3 308.0 1369.4 296.0 1370.0 294.9Z" fill="#005DFF"/>
<path d="M1363.3 263.3C1364.4 259.9 1369.7 259.9 1373.3 259.9C1376.9 259.9 1381.1 261.6 1385.0 263.3C1388.9 264.9 1393.0 268.5 1396.6 269.9C1400.2 271.3 1403.6 271.9 1406.6 271.6C1409.7 271.3 1413.0 270.5 1415.0 268.3C1416.9 266.0 1417.2 261.6 1418.3 258.3C1419.4 254.9 1420.2 251.6 1421.6 248.3C1423.0 244.9 1424.4 240.5 1426.6 238.3C1428.8 236.1 1432.4 235.2 1434.9 234.9C1437.4 234.7 1439.9 234.4 1441.6 236.6C1443.3 238.8 1444.1 243.8 1444.9 248.3C1445.8 252.7 1446.0 258.3 1446.6 263.3C1447.2 268.3 1446.6 274.1 1448.3 278.3C1449.9 282.4 1454.1 285.2 1456.6 288.2C1459.1 291.3 1461.3 293.2 1463.3 296.6C1465.2 299.9 1467.1 304.1 1468.2 308.2C1469.4 312.4 1469.9 317.7 1469.9 321.6C1469.9 325.4 1468.0 327.9 1468.2 331.5C1468.5 335.2 1470.2 339.3 1471.6 343.2C1473.0 347.1 1474.9 351.8 1476.6 354.9C1478.2 357.9 1478.8 360.1 1481.6 361.5C1484.3 362.9 1489.1 362.4 1493.2 363.2C1497.4 364.0 1502.1 366.2 1506.6 366.5C1511.0 366.8 1516.0 364.6 1519.9 364.9C1523.8 365.1 1526.8 366.0 1529.9 368.2C1532.9 370.4 1535.7 374.3 1538.2 378.2C1540.7 382.1 1543.5 387.1 1544.9 391.5C1546.3 396.0 1547.4 401.4 1546.5 404.8C1545.7 408.3 1543.8 412.3 1539.9 412.3C1536.0 412.3 1528.8 406.6 1523.2 404.8C1517.7 403.0 1512.1 402.9 1506.6 401.5C1501.0 400.1 1495.5 398.2 1489.9 396.5C1484.3 394.8 1478.8 391.8 1473.2 391.5C1467.7 391.2 1461.0 394.0 1456.6 394.8C1452.1 395.7 1449.9 397.6 1446.6 396.5C1443.3 395.4 1439.9 390.1 1436.6 388.2C1433.3 386.2 1428.8 386.5 1426.6 384.8C1424.4 383.2 1423.0 380.4 1423.3 378.2C1423.6 376.0 1427.2 375.4 1428.3 371.5C1429.4 367.6 1429.4 359.9 1429.9 354.9C1430.5 349.9 1430.8 344.9 1431.6 341.5C1432.4 338.2 1435.2 336.8 1434.9 334.9C1434.7 332.9 1432.4 331.0 1429.9 329.9C1427.4 328.8 1423.3 328.5 1419.9 328.2C1416.6 327.9 1412.5 329.3 1410.0 328.2C1407.5 327.1 1406.6 324.1 1405.0 321.6C1403.3 319.1 1401.9 315.4 1400.0 313.2C1398.0 311.0 1395.5 309.9 1393.3 308.2C1391.1 306.6 1389.1 305.2 1386.6 303.2C1384.1 301.3 1380.8 298.2 1378.3 296.6C1375.8 294.9 1373.6 296.0 1371.6 293.2C1369.7 290.5 1368.0 284.9 1366.6 279.9C1365.3 274.9 1362.2 266.6 1363.3 263.3Z" fill="#00FF8B"/>
<path d="M1396.6 366.5C1396.9 365.1 1400.8 363.2 1403.3 363.2C1405.8 363.2 1408.8 364.6 1411.6 366.5C1414.4 368.5 1417.4 372.9 1419.9 374.9C1422.4 376.8 1426.3 376.8 1426.6 378.2C1426.9 379.6 1423.8 382.3 1421.6 383.2C1419.4 384.0 1416.6 385.1 1413.3 383.2C1410.0 381.2 1404.4 374.3 1401.6 371.5C1398.8 368.7 1396.4 367.9 1396.6 366.5Z" fill="#00FF8B"/>
<path d="M1365.0 264.9C1366.2 263.0 1371.6 263.0 1375.0 263.3C1378.3 263.5 1381.4 264.9 1385.0 266.6C1388.6 268.3 1393.0 271.9 1396.6 273.3C1400.2 274.6 1403.6 274.9 1406.6 274.9C1409.7 274.9 1412.5 275.2 1415.0 273.3C1417.4 271.3 1419.9 267.1 1421.6 263.3C1423.3 259.4 1423.6 253.5 1424.9 249.9C1426.3 246.3 1428.0 243.3 1429.9 241.6C1431.9 239.9 1434.9 238.8 1436.6 239.9C1438.3 241.1 1439.1 244.4 1439.9 248.3C1440.8 252.2 1441.0 258.0 1441.6 263.3C1442.2 268.5 1442.7 274.4 1443.3 279.9C1443.8 285.5 1444.4 291.6 1444.9 296.6C1445.5 301.6 1447.4 306.6 1446.6 309.9C1445.8 313.2 1442.7 314.9 1439.9 316.6C1437.2 318.2 1433.3 319.6 1429.9 319.9C1426.6 320.2 1423.0 318.8 1419.9 318.2C1416.9 317.7 1414.1 317.9 1411.6 316.6C1409.1 315.2 1407.5 312.4 1405.0 309.9C1402.5 307.4 1399.1 303.5 1396.6 301.6C1394.1 299.6 1392.2 299.6 1390.0 298.2C1387.7 296.8 1385.5 294.9 1383.3 293.2C1381.1 291.6 1378.6 289.6 1376.6 288.2C1374.7 286.9 1373.2 287.1 1371.6 284.9C1370.1 282.7 1368.6 278.3 1367.5 274.9C1366.4 271.6 1363.7 266.9 1365.0 264.9Z" fill="#00FF2E"/>
<path d="M1366.6 265.8C1367.2 264.1 1370.8 264.2 1373.3 264.9C1375.8 265.6 1378.9 268.0 1381.6 269.9C1384.4 271.9 1386.9 274.9 1390.0 276.6C1393.0 278.3 1396.6 279.5 1400.0 279.9C1403.3 280.3 1406.9 279.4 1410.0 279.1C1413.0 278.8 1415.5 279.5 1418.3 278.3C1421.1 277.0 1424.7 274.1 1426.6 271.6C1428.6 269.1 1429.0 266.6 1429.9 263.3C1430.9 259.9 1431.5 253.0 1432.4 251.6C1433.4 250.2 1434.8 251.6 1435.8 254.9C1436.7 258.3 1437.6 266.0 1438.3 271.6C1439.0 277.1 1439.4 282.7 1439.9 288.2C1440.5 293.8 1442.4 300.7 1441.6 304.9C1440.8 309.1 1437.4 311.6 1434.9 313.2C1432.4 314.9 1429.4 315.4 1426.6 314.9C1423.8 314.3 1421.1 311.8 1418.3 309.9C1415.5 308.0 1412.7 305.5 1410.0 303.2C1407.2 301.0 1404.4 298.5 1401.6 296.6C1398.8 294.6 1396.1 293.2 1393.3 291.6C1390.5 289.9 1387.7 288.2 1385.0 286.6C1382.2 284.9 1379.1 283.5 1376.6 281.6C1374.1 279.6 1371.6 277.6 1370.0 274.9C1368.3 272.3 1366.1 267.4 1366.6 265.8Z" fill="#2EFF00"/>
<path d="M1366.6 264.1C1366.9 262.7 1370.5 262.3 1372.5 263.3C1374.4 264.2 1376.2 268.0 1378.3 269.9C1380.4 271.9 1384.1 273.3 1385.0 274.9C1385.8 276.6 1384.7 279.4 1383.3 279.9C1381.9 280.5 1378.7 279.6 1376.6 278.3C1374.6 276.9 1372.5 273.9 1370.8 271.6C1369.1 269.2 1366.4 265.5 1366.6 264.1Z" fill="#8BFF00"/>
<path d="M1388.3 278.3C1388.9 277.4 1393.6 282.3 1396.6 283.2C1399.7 284.2 1403.3 284.4 1406.6 284.1C1410.0 283.8 1413.3 282.8 1416.6 281.6C1419.9 280.3 1424.5 276.0 1426.6 276.6C1428.7 277.1 1428.6 281.6 1429.1 284.9C1429.7 288.2 1430.4 293.2 1429.9 296.6C1429.5 299.9 1428.6 303.5 1426.6 304.9C1424.7 306.3 1421.1 305.7 1418.3 304.9C1415.5 304.1 1412.7 301.8 1410.0 299.9C1407.2 298.0 1404.4 295.2 1401.6 293.2C1398.8 291.3 1395.5 290.7 1393.3 288.2C1391.1 285.7 1387.7 279.1 1388.3 278.3Z" fill="#8BFF00"/>
<path d="M1396.6 286.6C1397.6 286.2 1401.1 286.0 1403.3 286.6C1405.5 287.1 1407.7 289.1 1410.0 289.9C1412.2 290.7 1414.7 290.5 1416.6 291.6C1418.6 292.7 1421.3 295.2 1421.6 296.6C1421.9 298.0 1419.9 299.9 1418.3 299.9C1416.6 299.9 1414.1 298.0 1411.6 296.6C1409.1 295.2 1405.7 292.8 1403.3 291.6C1400.9 290.3 1398.6 289.9 1397.5 289.1C1396.4 288.2 1395.7 287.0 1396.6 286.6Z" fill="#E8FF00"/>
<path d="M1519.9 383.2C1520.9 381.5 1524.3 379.6 1526.5 379.9C1528.8 380.1 1531.7 383.2 1533.2 384.8C1534.7 386.5 1536.3 388.2 1535.7 389.8C1535.1 391.5 1531.7 393.7 1529.9 394.8C1528.1 396.0 1526.4 397.3 1524.9 396.5C1523.3 395.7 1521.5 392.1 1520.7 389.8C1519.9 387.6 1518.9 384.8 1519.9 383.2Z" fill="#00FF2E"/>
<path d="M1436.6 406.5C1437.7 405.2 1448.3 404.8 1453.3 404.8C1458.3 404.8 1462.4 405.2 1466.6 406.5C1470.7 407.7 1481.6 411.4 1478.2 412.3C1474.9 413.3 1453.5 413.3 1446.6 412.3C1439.7 411.4 1435.5 407.7 1436.6 406.5Z" fill="#00B9FF"/>
<path d="M1439.9 407.7C1442.2 403.2 1463.5 408.2 1469.9 409.3C1476.3 410.4 1475.5 413.2 1478.2 414.3C1481.0 415.4 1484.1 414.9 1486.6 416.0C1489.1 417.1 1491.3 418.5 1493.2 421.0C1495.2 423.5 1496.3 427.9 1498.2 431.0C1500.2 434.0 1502.4 437.4 1504.9 439.3C1507.4 441.3 1510.2 442.6 1513.2 442.6C1516.3 442.6 1519.3 440.7 1523.2 439.3C1527.1 437.9 1532.4 435.8 1536.5 434.3C1540.7 432.8 1545.4 430.4 1548.2 430.2C1551.0 429.9 1552.1 430.3 1553.2 432.7C1554.3 435.0 1554.3 439.6 1554.9 444.3C1555.4 449.0 1555.4 455.4 1556.5 461.0C1557.6 466.5 1559.9 472.1 1561.5 477.6C1563.2 483.2 1564.6 489.0 1566.5 494.3C1568.5 499.6 1571.0 505.1 1573.2 509.3C1575.4 513.4 1578.5 515.7 1579.8 519.3C1581.2 522.9 1580.1 527.6 1581.5 530.9C1582.9 534.3 1585.4 537.0 1588.2 539.2C1590.9 541.5 1595.7 544.5 1598.2 544.2C1600.7 544.0 1600.7 539.5 1603.2 537.6C1605.7 535.6 1609.3 534.8 1613.2 532.6C1617.0 530.4 1623.7 527.6 1626.5 524.3C1629.3 520.9 1627.6 512.0 1629.8 512.6C1632.0 513.2 1635.4 516.8 1639.8 527.6C1644.2 538.4 1652.3 558.1 1656.5 577.6C1660.6 597.0 1667.6 627.5 1664.8 644.2C1662.0 660.8 1655.1 674.7 1639.8 677.5C1624.5 680.3 1589.8 677.5 1573.2 660.8C1556.5 644.2 1553.7 606.7 1539.9 577.6C1526.0 548.4 1503.8 509.5 1489.9 486.0C1476.0 462.4 1464.9 449.0 1456.6 436.0C1448.3 422.9 1437.7 412.1 1439.9 407.7Z" fill="#00B9FF"/>
<path d="M1508.2 409.3C1503.5 410.3 1510.7 413.6 1513.2 415.2C1515.7 416.7 1519.9 418.1 1523.2 418.5C1526.5 418.9 1530.4 418.6 1533.2 417.7C1536.0 416.7 1538.5 414.1 1539.9 412.7C1541.3 411.3 1546.8 409.9 1541.5 409.3C1536.3 408.8 1512.9 408.4 1508.2 409.3Z" fill="#00FF8B"/>
<path d="M1564.9 409.3C1567.3 410.4 1574.3 421.8 1578.2 427.7C1582.1 433.5 1585.4 439.0 1588.2 444.3C1590.9 449.6 1593.9 453.7 1594.8 459.3C1595.8 464.9 1594.3 472.6 1594.0 477.6C1593.7 482.6 1594.7 484.8 1593.2 489.3C1591.6 493.7 1587.1 502.9 1584.8 504.3C1582.6 505.7 1581.5 500.9 1579.8 497.6C1578.2 494.3 1576.2 489.3 1574.8 484.3C1573.5 479.3 1572.6 473.2 1571.5 467.6C1570.4 462.1 1569.3 456.5 1568.2 451.0C1567.1 445.4 1565.7 439.3 1564.9 434.3C1564.0 429.3 1563.2 425.2 1563.2 421.0C1563.2 416.8 1562.4 408.2 1564.9 409.3Z" fill="#00FF8B"/>
<path d="M1571.5 419.3C1573.5 420.7 1580.7 431.5 1581.5 434.3C1582.3 437.1 1578.5 437.4 1576.5 436.0C1574.6 434.6 1570.7 428.8 1569.8 426.0C1569.0 423.2 1569.6 417.9 1571.5 419.3Z" fill="#00FF2E"/>
<path d="M1451.6 414.3C1452.1 412.4 1457.1 412.4 1459.9 412.7C1462.7 412.9 1466.0 414.1 1468.2 416.0C1470.5 417.9 1472.7 421.3 1473.2 424.3C1473.8 427.4 1472.7 431.3 1471.6 434.3C1470.5 437.4 1468.2 442.4 1466.6 442.6C1464.9 442.9 1463.3 439.0 1461.6 436.0C1459.9 432.9 1458.3 427.9 1456.6 424.3C1454.9 420.7 1451.0 416.3 1451.6 414.3Z" fill="#005DFF"/>
<path d="M1498.2 476.0C1498.8 472.9 1501.3 467.2 1503.2 464.3C1505.2 461.4 1506.8 459.9 1509.9 458.5C1512.9 457.1 1517.9 455.6 1521.5 456.0C1525.2 456.4 1527.7 459.3 1531.5 461.0C1535.4 462.6 1541.8 463.2 1544.9 466.0C1547.9 468.7 1548.3 473.5 1549.9 477.6C1551.4 481.8 1553.5 486.2 1554.0 490.9C1554.6 495.7 1555.6 502.3 1553.2 505.9C1550.8 509.5 1543.8 510.4 1539.9 512.6C1536.0 514.8 1532.9 517.6 1529.9 519.3C1526.8 520.9 1524.3 524.3 1521.5 522.6C1518.8 520.9 1515.7 514.0 1513.2 509.3C1510.7 504.5 1508.8 498.7 1506.6 494.3C1504.3 489.8 1501.3 485.7 1499.9 482.6C1498.5 479.6 1497.7 479.0 1498.2 476.0Z" fill="#005DFF"/>
<path d="M1521.5 499.3C1521.8 497.5 1525.4 492.2 1528.2 490.9C1531.0 489.7 1537.4 490.4 1538.2 491.8C1539.0 493.2 1535.1 497.6 1533.2 499.3C1531.3 500.9 1528.5 501.8 1526.5 501.8C1524.6 501.8 1521.3 501.1 1521.5 499.3Z" fill="#0000FF"/>
<path d="M1543.2 560.9C1544.3 554.2 1552.1 568.4 1554.9 570.9C1557.6 573.4 1557.9 575.9 1559.9 575.9C1561.8 575.9 1566.2 572.8 1566.5 570.9C1566.8 569.0 1563.2 566.2 1561.5 564.2C1559.9 562.3 1556.8 560.8 1556.5 559.2C1556.2 557.7 1557.9 555.9 1559.9 555.1C1561.8 554.2 1565.4 553.8 1568.2 554.2C1571.0 554.7 1574.0 555.9 1576.5 557.6C1579.0 559.2 1581.2 561.7 1583.2 564.2C1585.1 566.7 1585.9 570.8 1588.2 572.6C1590.4 574.4 1593.4 575.3 1596.5 575.1C1599.5 574.8 1604.0 573.3 1606.5 570.9C1609.0 568.5 1609.3 563.1 1611.5 560.9C1613.7 558.7 1616.8 557.8 1619.8 557.6C1622.9 557.3 1625.6 558.4 1629.8 559.2C1634.0 560.1 1639.0 551.2 1644.8 562.6C1650.6 573.9 1664.2 608.4 1664.8 627.5C1665.3 646.7 1663.4 670.5 1648.1 677.5C1632.9 684.4 1589.8 680.3 1573.2 669.2C1556.5 658.1 1553.2 628.9 1548.2 610.9C1543.2 592.8 1542.1 567.6 1543.2 560.9Z" fill="#005DFF"/>
<path d="M1626.5 580.9C1628.3 579.2 1633.4 581.7 1636.5 582.6C1639.5 583.4 1642.3 583.9 1644.8 585.9C1647.3 587.8 1649.7 590.0 1651.5 594.2C1653.3 598.4 1654.7 605.3 1655.6 610.9C1656.6 616.4 1657.4 622.0 1657.3 627.5C1657.1 633.1 1656.3 638.9 1654.8 644.2C1653.3 649.5 1651.5 655.7 1648.1 659.2C1644.8 662.6 1638.4 664.3 1634.8 665.0C1631.2 665.7 1628.4 665.4 1626.5 663.3C1624.5 661.2 1624.8 655.7 1623.1 652.5C1621.5 649.3 1618.1 647.2 1616.5 644.2C1614.8 641.1 1613.4 637.5 1613.2 634.2C1612.9 630.9 1613.2 627.0 1614.8 624.2C1616.5 621.4 1620.9 619.7 1623.1 617.5C1625.4 615.3 1627.0 613.6 1628.1 610.9C1629.3 608.1 1630.2 603.9 1629.8 600.9C1629.4 597.8 1626.2 595.9 1625.6 592.5C1625.1 589.2 1624.7 582.6 1626.5 580.9Z" fill="#0000FF"/>
<path d="M1606.5 655.8C1606.8 654.7 1609.5 653.6 1610.7 654.2C1611.8 654.7 1613.4 658.1 1613.2 659.2C1612.9 660.3 1610.1 661.4 1609.0 660.8C1607.9 660.3 1606.2 656.9 1606.5 655.8Z" fill="#00B9FF"/>
</g></g></g>
<clipPath id="cp5"><path d="M1803.3 160.8C1806.9 160.7 1812.5 161.1 1816.6 162.5C1820.8 163.9 1824.4 166.8 1828.3 169.2C1832.2 171.5 1836.3 173.7 1840.0 176.7C1843.6 179.6 1846.9 183.0 1849.9 186.6C1853.0 190.3 1855.8 194.1 1858.3 198.3C1860.8 202.5 1862.7 206.9 1864.9 211.6C1867.2 216.3 1869.4 221.3 1871.6 226.6C1873.8 231.9 1876.0 237.7 1878.3 243.3C1880.5 248.8 1883.0 254.9 1884.9 259.9C1886.9 264.9 1888.0 269.4 1889.9 273.3C1891.9 277.1 1893.8 280.2 1896.6 283.2C1899.4 286.3 1903.2 288.5 1906.6 291.6C1909.9 294.6 1913.5 297.7 1916.6 301.6C1919.6 305.5 1922.1 310.5 1924.9 314.9C1927.7 319.3 1930.4 323.8 1933.2 328.2C1936.0 332.7 1938.8 336.8 1941.5 341.5C1944.3 346.3 1947.1 351.5 1949.9 356.5C1952.7 361.5 1955.4 366.5 1958.2 371.5C1961.0 376.5 1963.8 381.8 1966.5 386.5C1969.3 391.2 1972.1 395.8 1974.9 399.8C1977.6 403.9 1980.1 406.9 1983.2 411.0C1986.2 415.1 1989.6 419.3 1993.2 424.3C1996.8 429.3 2000.7 435.4 2004.8 441.0C2009.0 446.5 2014.0 452.4 2018.2 457.6C2022.3 462.9 2026.2 467.6 2029.8 472.6C2033.4 477.6 2037.0 482.9 2039.8 487.6C2042.6 492.3 2044.5 496.2 2046.5 500.9C2048.4 505.7 2050.1 510.7 2051.5 515.9C2052.9 521.2 2053.8 526.8 2054.8 532.6C2055.8 538.4 2056.5 545.1 2057.3 550.9C2058.1 556.7 2058.8 562.0 2059.8 567.6C2060.8 573.1 2061.7 578.4 2063.1 584.2C2064.5 590.0 2066.7 596.7 2068.1 602.5C2069.5 608.4 2071.0 613.9 2071.5 619.2C2071.9 624.5 2071.5 629.5 2070.6 634.2C2069.8 638.9 2068.5 643.9 2066.5 647.5C2064.4 651.1 2061.5 653.9 2058.1 655.8C2054.8 657.8 2050.6 658.9 2046.5 659.2C2042.3 659.4 2037.9 658.6 2033.2 657.5C2028.4 656.4 2023.2 654.4 2018.2 652.5C2013.2 650.6 2007.9 648.1 2003.2 645.8C1998.5 643.6 1993.5 641.7 1989.9 639.2C1986.2 636.7 1983.5 634.2 1981.5 630.8C1979.6 627.5 1979.0 623.9 1978.2 619.2C1977.4 614.5 1977.1 608.1 1976.5 602.5C1976.0 597.0 1975.4 591.4 1974.9 585.9C1974.3 580.3 1974.0 574.2 1973.2 569.2C1972.4 564.2 1971.3 560.3 1969.9 555.9C1968.5 551.5 1967.1 547.0 1964.9 542.6C1962.6 538.1 1959.3 533.7 1956.5 529.3C1953.8 524.8 1951.0 520.4 1948.2 515.9C1945.4 511.5 1942.7 506.8 1939.9 502.6C1937.1 498.4 1934.6 494.8 1931.6 490.9C1928.5 487.1 1924.9 482.9 1921.6 479.3C1918.2 475.7 1914.9 472.6 1911.6 469.3C1908.2 466.0 1904.6 462.9 1901.6 459.3C1898.5 455.7 1895.7 451.5 1893.2 447.6C1890.7 443.8 1888.8 440.1 1886.6 436.0C1884.4 431.8 1882.4 426.8 1879.9 422.7C1877.4 418.5 1873.8 414.0 1871.6 411.0C1869.4 408.0 1869.4 407.5 1866.6 404.8C1863.8 402.1 1859.1 398.4 1854.9 394.8C1850.8 391.2 1845.8 387.1 1841.6 383.2C1837.5 379.3 1833.6 375.4 1830.0 371.5C1826.3 367.6 1823.0 364.0 1820.0 359.9C1816.9 355.7 1814.1 351.0 1811.6 346.5C1809.1 342.1 1807.2 337.9 1805.0 333.2C1802.8 328.5 1800.1 322.9 1798.3 318.2C1796.5 313.5 1795.4 309.3 1794.1 304.9C1792.9 300.5 1791.9 296.3 1790.8 291.6C1789.7 286.9 1788.6 281.6 1787.5 276.6C1786.4 271.6 1785.3 266.6 1784.2 261.6C1783.0 256.6 1782.1 251.3 1780.8 246.6C1779.6 241.9 1778.2 237.7 1776.7 233.3C1775.1 228.8 1772.6 224.4 1771.7 220.0C1770.7 215.5 1770.3 211.1 1770.8 206.6C1771.4 202.2 1773.2 197.5 1775.0 193.3C1776.8 189.1 1779.4 185.5 1781.7 181.6C1783.9 177.8 1786.1 173.0 1788.3 170.0C1790.5 166.9 1792.5 164.9 1795.0 163.3C1797.5 161.8 1799.7 161.0 1803.3 160.8Z"/></clipPath>
<g filter="url(#bl)"><g clip-path="url(#cp5)">
<path d="M1803.3 160.8C1806.9 160.7 1812.5 161.1 1816.6 162.5C1820.8 163.9 1824.4 166.8 1828.3 169.2C1832.2 171.5 1836.3 173.7 1840.0 176.7C1843.6 179.6 1846.9 183.0 1849.9 186.6C1853.0 190.3 1855.8 194.1 1858.3 198.3C1860.8 202.5 1862.7 206.9 1864.9 211.6C1867.2 216.3 1869.4 221.3 1871.6 226.6C1873.8 231.9 1876.0 237.7 1878.3 243.3C1880.5 248.8 1883.0 254.9 1884.9 259.9C1886.9 264.9 1888.0 269.4 1889.9 273.3C1891.9 277.1 1893.8 280.2 1896.6 283.2C1899.4 286.3 1903.2 288.5 1906.6 291.6C1909.9 294.6 1913.5 297.7 1916.6 301.6C1919.6 305.5 1922.1 310.5 1924.9 314.9C1927.7 319.3 1930.4 323.8 1933.2 328.2C1936.0 332.7 1938.8 336.8 1941.5 341.5C1944.3 346.3 1947.1 351.5 1949.9 356.5C1952.7 361.5 1955.4 366.5 1958.2 371.5C1961.0 376.5 1963.8 381.8 1966.5 386.5C1969.3 391.2 1972.1 395.8 1974.9 399.8C1977.6 403.9 1980.1 406.9 1983.2 411.0C1986.2 415.1 1989.6 419.3 1993.2 424.3C1996.8 429.3 2000.7 435.4 2004.8 441.0C2009.0 446.5 2014.0 452.4 2018.2 457.6C2022.3 462.9 2026.2 467.6 2029.8 472.6C2033.4 477.6 2037.0 482.9 2039.8 487.6C2042.6 492.3 2044.5 496.2 2046.5 500.9C2048.4 505.7 2050.1 510.7 2051.5 515.9C2052.9 521.2 2053.8 526.8 2054.8 532.6C2055.8 538.4 2056.5 545.1 2057.3 550.9C2058.1 556.7 2058.8 562.0 2059.8 567.6C2060.8 573.1 2061.7 578.4 2063.1 584.2C2064.5 590.0 2066.7 596.7 2068.1 602.5C2069.5 608.4 2071.0 613.9 2071.5 619.2C2071.9 624.5 2071.5 629.5 2070.6 634.2C2069.8 638.9 2068.5 643.9 2066.5 647.5C2064.4 651.1 2061.5 653.9 2058.1 655.8C2054.8 657.8 2050.6 658.9 2046.5 659.2C2042.3 659.4 2037.9 658.6 2033.2 657.5C2028.4 656.4 2023.2 654.4 2018.2 652.5C2013.2 650.6 2007.9 648.1 2003.2 645.8C1998.5 643.6 1993.5 641.7 1989.9 639.2C1986.2 636.7 1983.5 634.2 1981.5 630.8C1979.6 627.5 1979.0 623.9 1978.2 619.2C1977.4 614.5 1977.1 608.1 1976.5 602.5C1976.0 597.0 1975.4 591.4 1974.9 585.9C1974.3 580.3 1974.0 574.2 1973.2 569.2C1972.4 564.2 1971.3 560.3 1969.9 555.9C1968.5 551.5 1967.1 547.0 1964.9 542.6C1962.6 538.1 1959.3 533.7 1956.5 529.3C1953.8 524.8 1951.0 520.4 1948.2 515.9C1945.4 511.5 1942.7 506.8 1939.9 502.6C1937.1 498.4 1934.6 494.8 1931.6 490.9C1928.5 487.1 1924.9 482.9 1921.6 479.3C1918.2 475.7 1914.9 472.6 1911.6 469.3C1908.2 466.0 1904.6 462.9 1901.6 459.3C1898.5 455.7 1895.7 451.5 1893.2 447.6C1890.7 443.8 1888.8 440.1 1886.6 436.0C1884.4 431.8 1882.4 426.8 1879.9 422.7C1877.4 418.5 1873.8 414.0 1871.6 411.0C1869.4 408.0 1869.4 407.5 1866.6 404.8C1863.8 402.1 1859.1 398.4 1854.9 394.8C1850.8 391.2 1845.8 387.1 1841.6 383.2C1837.5 379.3 1833.6 375.4 1830.0 371.5C1826.3 367.6 1823.0 364.0 1820.0 359.9C1816.9 355.7 1814.1 351.0 1811.6 346.5C1809.1 342.1 1807.2 337.9 1805.0 333.2C1802.8 328.5 1800.1 322.9 1798.3 318.2C1796.5 313.5 1795.4 309.3 1794.1 304.9C1792.9 300.5 1791.9 296.3 1790.8 291.6C1789.7 286.9 1788.6 281.6 1787.5 276.6C1786.4 271.6 1785.3 266.6 1784.2 261.6C1783.0 256.6 1782.1 251.3 1780.8 246.6C1779.6 241.9 1778.2 237.7 1776.7 233.3C1775.1 228.8 1772.6 224.4 1771.7 220.0C1770.7 215.5 1770.3 211.1 1770.8 206.6C1771.4 202.2 1773.2 197.5 1775.0 193.3C1776.8 189.1 1779.4 185.5 1781.7 181.6C1783.9 177.8 1786.1 173.0 1788.3 170.0C1790.5 166.9 1792.5 164.9 1795.0 163.3C1797.5 161.8 1799.7 161.0 1803.3 160.8Z" fill="#00B9FF"/>
<g>
<path d="M1761.7 221.6C1762.8 230.0 1768.9 220.5 1771.7 221.6C1774.4 222.7 1775.8 226.1 1778.3 228.3C1780.8 230.5 1783.6 233.0 1786.7 234.9C1789.7 236.9 1793.3 239.1 1796.6 239.9C1800.0 240.8 1803.3 240.8 1806.6 239.9C1810.0 239.1 1813.6 237.2 1816.6 234.9C1819.7 232.7 1822.2 229.4 1825.0 226.6C1827.7 223.8 1831.3 221.1 1833.3 218.3C1835.2 215.5 1836.2 213.3 1836.6 210.0C1837.0 206.6 1835.5 201.2 1835.8 198.3C1836.1 195.4 1836.8 193.0 1838.3 192.5C1839.8 191.9 1842.4 194.0 1844.9 195.0C1847.4 195.9 1849.9 196.6 1853.3 198.3C1856.6 200.0 1865.8 210.8 1864.9 205.0C1864.1 199.1 1858.5 172.2 1848.3 163.3C1838.0 154.4 1817.2 150.3 1803.3 151.7C1789.4 153.1 1771.9 160.0 1765.0 171.7C1758.1 183.3 1760.6 213.3 1761.7 221.6Z" fill="#005DFF"/>
<path d="M1761.7 196.6C1763.3 200.5 1771.1 195.0 1775.0 195.0C1778.9 195.0 1781.7 196.4 1785.0 196.6C1788.3 196.9 1791.9 197.2 1795.0 196.6C1798.0 196.1 1801.1 195.0 1803.3 193.3C1805.5 191.6 1806.6 189.4 1808.3 186.6C1810.0 183.9 1811.4 179.7 1813.3 176.7C1815.2 173.6 1818.6 170.8 1820.0 168.3C1821.4 165.8 1824.4 164.4 1821.6 161.7C1818.9 158.9 1812.7 150.0 1803.3 151.7C1793.9 153.3 1771.9 164.2 1765.0 171.7C1758.1 179.2 1760.0 192.8 1761.7 196.6Z" fill="#0000FF"/>
<path d="M1780.0 254.9C1780.8 252.2 1786.1 254.8 1790.0 254.9C1793.9 255.1 1799.1 255.6 1803.3 255.8C1807.5 255.9 1811.9 255.9 1815.0 255.8C1818.0 255.6 1819.4 256.5 1821.6 254.9C1823.8 253.4 1826.1 249.9 1828.3 246.6C1830.5 243.3 1832.7 239.1 1835.0 234.9C1837.2 230.8 1839.4 225.5 1841.6 221.6C1843.8 217.7 1845.8 211.9 1848.3 211.6C1850.8 211.4 1853.6 217.2 1856.6 220.0C1859.7 222.7 1863.5 225.2 1866.6 228.3C1869.7 231.3 1872.4 234.1 1874.9 238.3C1877.4 242.4 1879.4 248.0 1881.6 253.3C1883.8 258.5 1886.3 265.2 1888.3 269.9C1890.2 274.6 1892.6 278.3 1893.2 281.6C1893.9 284.9 1891.9 287.4 1892.4 289.9C1893.0 292.4 1894.2 294.9 1896.6 296.6C1898.9 298.2 1903.0 299.1 1906.6 299.9C1910.2 300.7 1914.1 298.0 1918.2 301.6C1922.4 305.2 1926.6 313.5 1931.6 321.6C1936.6 329.6 1942.7 340.2 1948.2 349.9C1953.8 359.6 1958.8 369.0 1964.9 379.9C1971.0 390.7 1985.4 409.0 1984.9 414.8C1984.3 420.7 1966.5 417.6 1961.5 414.8C1956.5 412.1 1956.8 399.6 1954.9 398.2C1952.9 396.8 1952.4 404.1 1949.9 406.5C1947.4 408.9 1944.0 411.4 1939.9 412.3C1935.7 413.3 1928.8 414.1 1924.9 412.3C1921.0 410.5 1918.8 405.5 1916.6 401.5C1914.3 397.5 1912.4 392.3 1911.6 388.2C1910.7 384.0 1910.7 380.1 1911.6 376.5C1912.4 372.9 1915.7 369.7 1916.6 366.5C1917.4 363.3 1917.7 359.3 1916.6 357.4C1915.5 355.4 1913.0 355.0 1909.9 354.9C1906.8 354.7 1902.4 356.0 1898.2 356.5C1894.1 357.1 1889.4 357.4 1884.9 358.2C1880.5 359.0 1875.2 361.5 1871.6 361.5C1868.0 361.5 1866.0 359.6 1863.3 358.2C1860.5 356.8 1858.0 354.3 1854.9 353.2C1851.9 352.1 1848.8 352.1 1844.9 351.5C1841.1 351.0 1835.5 350.4 1831.6 349.9C1827.7 349.3 1824.1 349.9 1821.6 348.2C1819.1 346.5 1818.6 342.9 1816.6 339.9C1814.7 336.8 1812.2 332.9 1810.0 329.9C1807.7 326.8 1805.3 324.3 1803.3 321.6C1801.4 318.8 1799.8 316.6 1798.3 313.2C1796.8 309.9 1795.5 305.7 1794.1 301.6C1792.8 297.4 1791.5 293.2 1790.0 288.2C1788.5 283.2 1786.7 277.1 1785.0 271.6C1783.3 266.0 1779.2 257.7 1780.0 254.9Z" fill="#00FFE8"/>
<path d="M1786.7 264.9C1788.0 261.3 1794.4 263.3 1798.3 263.3C1802.2 263.3 1806.1 263.8 1810.0 264.9C1813.9 266.0 1818.6 270.2 1821.6 269.9C1824.7 269.6 1826.1 266.0 1828.3 263.3C1830.5 260.5 1832.7 256.9 1835.0 253.3C1837.2 249.7 1839.4 245.5 1841.6 241.6C1843.8 237.7 1846.1 231.9 1848.3 230.0C1850.5 228.0 1852.7 229.1 1854.9 230.0C1857.2 230.8 1859.7 231.9 1861.6 234.9C1863.5 238.0 1864.9 243.6 1866.6 248.3C1868.3 253.0 1869.7 258.3 1871.6 263.3C1873.5 268.3 1876.0 273.8 1878.3 278.3C1880.5 282.7 1882.7 286.3 1884.9 289.9C1887.1 293.5 1889.4 296.8 1891.6 299.9C1893.8 303.0 1896.0 305.7 1898.2 308.2C1900.5 310.7 1904.9 313.0 1904.9 314.9C1904.9 316.8 1900.7 318.5 1898.2 319.9C1895.7 321.3 1892.1 321.6 1889.9 323.2C1887.7 324.9 1886.9 328.2 1884.9 329.9C1883.0 331.5 1881.0 332.4 1878.3 333.2C1875.5 334.0 1872.2 334.3 1868.3 334.9C1864.4 335.4 1859.4 336.0 1854.9 336.5C1850.5 337.1 1845.5 337.9 1841.6 338.2C1837.7 338.5 1834.4 339.6 1831.6 338.2C1828.8 336.8 1827.5 332.7 1825.0 329.9C1822.5 327.1 1819.4 324.3 1816.6 321.6C1813.9 318.8 1811.1 316.0 1808.3 313.2C1805.5 310.5 1802.5 307.4 1800.0 304.9C1797.5 302.4 1795.0 301.6 1793.3 298.2C1791.6 294.9 1791.1 290.5 1790.0 284.9C1788.9 279.4 1785.3 268.5 1786.7 264.9Z" fill="#00FF8B"/>
<path d="M1911.6 316.6C1912.1 315.2 1916.3 312.4 1918.2 313.2C1920.2 314.1 1921.8 319.1 1923.2 321.6C1924.6 324.1 1926.8 327.1 1926.6 328.2C1926.3 329.3 1923.5 329.3 1921.6 328.2C1919.6 327.1 1916.6 323.5 1914.9 321.6C1913.2 319.6 1911.0 317.9 1911.6 316.6Z" fill="#00FF8B"/>
<path d="M1788.3 271.6C1789.7 269.4 1794.7 268.5 1798.3 268.3C1801.9 268.0 1806.1 269.1 1810.0 269.9C1813.9 270.8 1818.3 273.5 1821.6 273.3C1825.0 273.0 1827.5 270.8 1830.0 268.3C1832.5 265.8 1834.4 261.9 1836.6 258.3C1838.8 254.7 1841.1 249.9 1843.3 246.6C1845.5 243.3 1847.7 239.7 1849.9 238.3C1852.2 236.9 1854.7 236.6 1856.6 238.3C1858.5 239.9 1860.2 244.1 1861.6 248.3C1863.0 252.4 1863.5 258.3 1864.9 263.3C1866.3 268.3 1868.3 273.5 1869.9 278.3C1871.6 283.0 1873.0 288.0 1874.9 291.6C1876.9 295.2 1878.8 297.7 1881.6 299.9C1884.4 302.1 1888.8 303.2 1891.6 304.9C1894.4 306.6 1898.8 308.2 1898.2 309.9C1897.7 311.6 1891.6 313.2 1888.3 314.9C1884.9 316.6 1881.6 318.8 1878.3 319.9C1874.9 321.0 1872.2 320.7 1868.3 321.6C1864.4 322.4 1859.1 324.1 1854.9 324.9C1850.8 325.7 1846.9 326.0 1843.3 326.6C1839.7 327.1 1836.1 329.1 1833.3 328.2C1830.5 327.4 1829.1 324.1 1826.6 321.6C1824.1 319.1 1821.1 316.0 1818.3 313.2C1815.5 310.5 1812.7 307.4 1810.0 304.9C1807.2 302.4 1804.4 300.5 1801.6 298.2C1798.9 296.0 1795.3 294.4 1793.3 291.6C1791.4 288.8 1790.8 284.9 1790.0 281.6C1789.2 278.3 1786.9 273.8 1788.3 271.6Z" fill="#00FF2E"/>
<path d="M1791.6 274.9C1792.8 272.4 1798.0 271.9 1801.6 271.6C1805.3 271.3 1810.0 272.4 1813.3 273.3C1816.6 274.1 1818.6 276.9 1821.6 276.6C1824.7 276.3 1828.8 274.1 1831.6 271.6C1834.4 269.1 1836.1 265.2 1838.3 261.6C1840.5 258.0 1842.7 253.5 1844.9 249.9C1847.2 246.3 1849.5 240.8 1851.6 239.9C1853.7 239.1 1856.1 241.9 1857.4 244.9C1858.8 248.0 1859.0 253.8 1859.9 258.3C1860.9 262.7 1862.2 267.1 1863.3 271.6C1864.4 276.0 1865.2 280.7 1866.6 284.9C1868.0 289.1 1869.7 293.2 1871.6 296.6C1873.5 299.9 1877.4 302.1 1878.3 304.9C1879.1 307.7 1878.3 311.3 1876.6 313.2C1874.9 315.2 1871.6 315.7 1868.3 316.6C1864.9 317.4 1860.5 317.4 1856.6 318.2C1852.7 319.1 1848.6 320.7 1844.9 321.6C1841.3 322.4 1838.0 324.1 1835.0 323.2C1831.9 322.4 1829.4 319.1 1826.6 316.6C1823.8 314.1 1821.1 311.0 1818.3 308.2C1815.5 305.5 1812.7 302.4 1810.0 299.9C1807.2 297.4 1804.1 295.5 1801.6 293.2C1799.1 291.0 1796.6 289.6 1795.0 286.6C1793.3 283.5 1790.5 277.4 1791.6 274.9Z" fill="#2EFF00"/>
<path d="M1811.6 281.6C1812.7 279.9 1816.9 279.1 1820.0 278.3C1823.0 277.4 1827.2 277.7 1830.0 276.6C1832.7 275.5 1834.7 273.3 1836.6 271.6C1838.6 269.9 1839.7 267.7 1841.6 266.6C1843.6 265.5 1846.1 264.6 1848.3 264.9C1850.5 265.2 1853.3 265.8 1854.9 268.3C1856.6 270.8 1857.4 275.8 1858.3 279.9C1859.1 284.1 1859.9 289.1 1859.9 293.2C1859.9 297.4 1859.1 301.8 1858.3 304.9C1857.4 308.0 1857.2 310.7 1854.9 311.6C1852.7 312.4 1848.3 311.0 1844.9 309.9C1841.6 308.8 1838.0 306.6 1835.0 304.9C1831.9 303.2 1829.4 301.8 1826.6 299.9C1823.8 298.0 1820.5 295.2 1818.3 293.2C1816.1 291.3 1814.4 290.2 1813.3 288.2C1812.2 286.3 1810.5 283.2 1811.6 281.6Z" fill="#8BFF00"/>
<path d="M1817.5 286.6C1817.5 285.1 1820.9 283.5 1823.3 282.4C1825.7 281.3 1829.1 280.9 1831.6 279.9C1834.1 278.9 1836.3 278.3 1838.3 276.6C1840.2 274.9 1841.6 271.3 1843.3 269.9C1844.9 268.5 1846.6 268.0 1848.3 268.3C1849.9 268.5 1852.2 269.4 1853.3 271.6C1854.4 273.8 1854.5 278.0 1854.9 281.6C1855.4 285.2 1856.1 289.6 1855.8 293.2C1855.5 296.8 1854.8 301.2 1853.3 303.2C1851.7 305.3 1849.1 306.0 1846.6 305.7C1844.1 305.5 1840.8 303.1 1838.3 301.6C1835.8 300.0 1834.1 298.2 1831.6 296.6C1829.1 294.9 1825.7 293.2 1823.3 291.6C1820.9 289.9 1817.5 288.1 1817.5 286.6Z" fill="#E8FF00"/>
<path d="M1826.6 287.4C1827.2 286.9 1831.1 287.1 1833.3 286.6C1835.5 286.0 1838.3 285.7 1840.0 284.1C1841.6 282.4 1842.0 278.5 1843.3 276.6C1844.5 274.6 1846.2 272.7 1847.4 272.4C1848.7 272.1 1850.4 273.4 1850.8 274.9C1851.2 276.4 1850.9 279.6 1849.9 281.6C1849.0 283.5 1845.5 284.4 1844.9 286.6C1844.4 288.8 1846.6 292.8 1846.6 294.9C1846.6 297.0 1846.1 298.5 1844.9 299.1C1843.8 299.6 1841.6 299.2 1840.0 298.2C1838.3 297.3 1836.6 294.6 1835.0 293.2C1833.3 291.9 1831.3 290.9 1830.0 289.9C1828.6 288.9 1826.1 288.0 1826.6 287.4Z" fill="#FFB900"/>
<path d="M1868.3 403.2C1868.8 401.9 1873.0 403.5 1874.9 404.8C1876.9 406.1 1880.5 409.7 1879.9 411.0C1879.4 412.2 1873.5 413.6 1871.6 412.3C1869.7 411.0 1867.7 404.4 1868.3 403.2Z" fill="#005DFF"/>
<path d="M1952.4 371.5C1952.7 370.8 1954.3 370.1 1954.9 370.7C1955.4 371.2 1956.0 374.2 1955.7 374.9C1955.4 375.5 1953.8 375.4 1953.2 374.9C1952.7 374.3 1952.1 372.2 1952.4 371.5Z" fill="#005DFF"/>
<path d="M1868.3 409.3C1868.3 407.1 1877.7 412.9 1881.6 414.3C1885.5 415.7 1888.5 416.3 1891.6 417.7C1894.6 419.1 1897.4 420.2 1899.9 422.7C1902.4 425.2 1905.3 429.0 1906.6 432.7C1907.8 436.3 1907.7 440.7 1907.4 444.3C1907.1 447.9 1906.0 451.5 1904.9 454.3C1903.8 457.1 1903.0 461.8 1900.7 461.0C1898.5 460.1 1894.8 454.9 1891.6 449.3C1888.4 443.8 1885.5 434.3 1881.6 427.7C1877.7 421.0 1868.3 411.6 1868.3 409.3Z" fill="#005DFF"/>
<path d="M1936.6 449.3C1936.6 448.1 1939.6 446.1 1941.5 445.1C1943.5 444.2 1946.5 443.2 1948.2 443.5C1949.9 443.8 1951.5 445.6 1951.5 446.8C1951.5 448.1 1949.9 450.0 1948.2 451.0C1946.5 451.9 1943.5 452.9 1941.5 452.6C1939.6 452.4 1936.6 450.6 1936.6 449.3Z" fill="#005DFF"/>
<path d="M1964.9 409.3C1962.9 411.0 1969.7 415.7 1971.5 419.3C1973.3 422.9 1974.9 426.8 1975.7 431.0C1976.5 435.2 1975.6 440.7 1976.5 444.3C1977.5 447.9 1979.7 449.9 1981.5 452.6C1983.3 455.4 1986.5 457.6 1987.4 461.0C1988.2 464.3 1987.2 469.8 1986.5 472.6C1985.8 475.4 1984.9 476.5 1983.2 477.6C1981.5 478.7 1978.5 477.9 1976.5 479.3C1974.6 480.7 1972.4 482.9 1971.5 486.0C1970.7 489.0 1971.0 493.7 1971.5 497.6C1972.1 501.5 1974.0 505.4 1974.9 509.3C1975.7 513.2 1975.4 517.6 1976.5 520.9C1977.6 524.3 1979.3 527.0 1981.5 529.3C1983.7 531.5 1987.1 532.0 1989.9 534.3C1992.6 536.5 1995.7 540.6 1998.2 542.6C2000.7 544.5 2002.6 545.1 2004.8 545.9C2007.1 546.7 2009.0 547.9 2011.5 547.6C2014.0 547.3 2016.8 545.1 2019.8 544.2C2022.9 543.4 2026.8 542.3 2029.8 542.6C2032.9 542.9 2035.1 544.5 2038.2 545.9C2041.2 547.3 2044.4 549.5 2048.1 550.9C2051.9 552.3 2059.0 557.3 2060.6 554.2C2062.3 551.2 2059.1 539.0 2058.1 532.6C2057.2 526.2 2056.5 520.6 2054.8 515.9C2053.1 511.2 2050.4 508.2 2048.1 504.3C2045.9 500.4 2044.3 495.1 2041.5 492.6C2038.7 490.1 2034.8 491.2 2031.5 489.3C2028.2 487.3 2024.8 483.7 2021.5 481.0C2018.2 478.2 2014.3 475.4 2011.5 472.6C2008.7 469.8 2006.4 467.6 2004.8 464.3C2003.3 461.0 2002.9 456.5 2002.3 452.6C2001.8 448.8 2002.8 445.1 2001.5 441.0C2000.3 436.8 1997.9 432.9 1994.8 427.7C1991.8 422.4 1988.2 412.4 1983.2 409.3C1978.2 406.3 1966.8 407.7 1964.9 409.3Z" fill="#00FFE8"/>
<path d="M2008.2 505.9C2009.3 503.9 2012.6 503.3 2014.8 503.4C2017.1 503.6 2019.3 506.2 2021.5 506.8C2023.7 507.3 2027.6 505.5 2028.2 506.8C2028.7 508.0 2026.2 512.2 2024.8 514.3C2023.4 516.3 2021.5 517.3 2019.8 519.3C2018.2 521.2 2016.6 525.1 2014.8 525.9C2013.0 526.8 2010.1 525.9 2009.0 524.3C2007.9 522.6 2008.3 519.0 2008.2 515.9C2008.0 512.9 2007.1 508.0 2008.2 505.9Z" fill="#00FF8B"/>
<path d="M1998.2 545.9C1998.6 545.1 1999.7 546.2 1999.8 547.6C2000.0 549.0 1999.4 553.4 1999.0 554.2C1998.6 555.1 1997.5 554.0 1997.3 552.6C1997.2 551.2 1997.8 546.7 1998.2 545.9Z" fill="#00FFE8"/>
<path d="M1963.2 541.7C1964.9 530.4 1971.8 541.9 1974.9 542.6C1977.9 543.3 1979.6 544.0 1981.5 545.9C1983.5 547.9 1984.9 551.5 1986.5 554.2C1988.2 557.0 1989.6 560.3 1991.5 562.6C1993.5 564.8 1995.4 566.2 1998.2 567.6C2001.0 569.0 2004.3 570.1 2008.2 570.9C2012.1 571.7 2017.6 571.7 2021.5 572.6C2025.4 573.4 2028.4 574.5 2031.5 575.9C2034.5 577.3 2037.0 579.8 2039.8 580.9C2042.6 582.0 2044.0 582.7 2048.1 582.6C2052.3 582.4 2059.2 572.6 2064.8 580.1C2070.4 587.5 2081.5 612.7 2081.5 627.5C2081.5 642.4 2078.7 663.6 2064.8 669.2C2050.9 674.7 2014.8 670.5 1998.2 660.8C1981.5 651.1 1970.7 630.7 1964.9 610.9C1959.0 591.0 1961.5 553.1 1963.2 541.7Z" fill="#005DFF"/>
<path d="M1975.7 594.2C1977.2 589.9 1982.2 593.4 1984.9 593.4C1987.5 593.4 1989.9 593.0 1991.5 594.2C1993.2 595.5 1993.7 598.4 1994.8 600.9C1996.0 603.4 1997.3 606.4 1998.2 609.2C1999.0 612.0 2000.4 615.0 1999.8 617.5C1999.3 620.0 1996.8 622.0 1994.8 624.2C1992.9 626.4 1990.7 629.3 1988.2 630.9C1985.7 632.4 1981.9 635.3 1979.9 633.4C1977.8 631.4 1976.4 625.7 1975.7 619.2C1975.0 612.7 1974.2 598.5 1975.7 594.2Z" fill="#0000FF"/>
<path d="M2022.3 597.5C2023.3 593.4 2026.1 594.8 2028.2 594.2C2030.2 593.7 2032.6 593.4 2034.8 594.2C2037.0 595.0 2039.3 597.8 2041.5 599.2C2043.7 600.6 2045.4 601.8 2048.1 602.5C2050.9 603.2 2054.5 603.4 2058.1 603.4C2061.7 603.4 2067.0 599.9 2069.8 602.5C2072.6 605.2 2074.1 613.9 2074.8 619.2C2075.5 624.5 2074.8 629.2 2074.0 634.2C2073.1 639.2 2072.3 645.0 2069.8 649.2C2067.3 653.3 2062.9 656.9 2059.0 659.2C2055.1 661.4 2050.5 662.5 2046.5 662.5C2042.5 662.5 2037.3 661.4 2034.8 659.2C2032.3 656.9 2032.9 652.0 2031.5 649.2C2030.1 646.4 2028.0 644.7 2026.5 642.5C2025.0 640.3 2023.0 639.7 2022.3 635.9C2021.6 632.0 2022.3 625.6 2022.3 619.2C2022.3 612.8 2021.4 601.7 2022.3 597.5Z" fill="#0000FF"/>
<path d="M1973.2 567.6C1973.3 566.9 1976.8 566.2 1977.4 566.7C1977.9 567.3 1977.2 570.8 1976.5 570.9C1975.8 571.0 1973.1 568.3 1973.2 567.6Z" fill="#0000FF"/>
<path d="M2023.2 652.5C2023.6 651.8 2026.5 651.1 2027.3 651.7C2028.2 652.2 2028.6 655.1 2028.2 655.8C2027.7 656.5 2025.7 656.4 2024.8 655.8C2024.0 655.3 2022.7 653.2 2023.2 652.5Z" fill="#00B9FF"/>
</g></g></g>
<clipPath id="cp6"><path d="M93.3 908.3C96.9 908.3 102.2 909.4 106.6 910.8C111.1 912.2 115.8 914.6 120.0 916.7C124.1 918.7 128.0 920.8 131.6 923.3C135.2 925.8 138.6 928.6 141.6 931.6C144.7 934.7 147.4 938.0 149.9 941.6C152.4 945.2 154.4 949.1 156.6 953.3C158.8 957.5 161.0 961.9 163.3 966.6C165.5 971.3 167.7 976.6 169.9 981.6C172.1 986.6 174.4 991.9 176.6 996.6C178.8 1001.3 181.0 1006.0 183.2 1009.9C185.5 1013.8 187.1 1016.9 189.9 1019.9C192.7 1023.0 196.6 1025.5 199.9 1028.2C203.2 1031.0 206.8 1033.2 209.9 1036.6C213.0 1039.9 215.4 1044.1 218.2 1048.2C221.0 1052.4 223.8 1057.1 226.6 1061.6C229.3 1066.0 232.1 1070.4 234.9 1074.9C237.7 1079.3 240.4 1083.2 243.2 1088.2C246.0 1093.2 248.8 1099.6 251.5 1104.9C254.3 1110.1 256.8 1114.6 259.9 1119.9C262.9 1125.1 266.8 1131.5 269.9 1136.5C272.9 1141.5 276.1 1146.6 278.2 1149.8C280.3 1153.1 280.1 1153.0 282.3 1156.0C284.6 1159.0 287.8 1163.2 291.5 1167.7C295.3 1172.1 300.4 1177.6 304.8 1182.6C309.3 1187.6 314.0 1192.6 318.2 1197.6C322.3 1202.6 326.2 1207.6 329.8 1212.6C333.4 1217.6 337.0 1222.6 339.8 1227.6C342.6 1232.6 344.5 1237.3 346.5 1242.6C348.4 1247.9 350.2 1253.7 351.5 1259.3C352.7 1264.8 353.4 1270.4 354.0 1275.9C354.5 1281.5 354.1 1287.0 354.8 1292.6C355.5 1298.1 356.9 1303.7 358.1 1309.2C359.4 1314.8 361.0 1320.9 362.3 1325.9C363.5 1330.9 364.9 1334.2 365.6 1339.2C366.3 1344.2 366.5 1350.3 366.5 1355.9C366.5 1361.4 366.5 1367.5 365.6 1372.5C364.8 1377.5 363.5 1382.2 361.5 1385.8C359.4 1389.5 356.7 1392.4 353.1 1394.2C349.5 1396.0 344.5 1396.9 339.8 1396.7C335.1 1396.4 330.1 1394.0 324.8 1392.5C319.5 1391.0 313.2 1389.5 308.2 1387.5C303.2 1385.6 298.7 1383.6 294.8 1380.8C291.0 1378.1 287.5 1374.5 284.8 1370.9C282.2 1367.2 280.3 1363.6 279.0 1359.2C277.8 1354.8 277.6 1349.2 277.4 1344.2C277.1 1339.2 277.5 1334.5 277.4 1329.2C277.2 1323.9 277.2 1318.1 276.5 1312.6C275.8 1307.0 274.6 1301.5 273.2 1295.9C271.8 1290.4 270.1 1284.5 268.2 1279.2C266.2 1274.0 264.0 1269.0 261.5 1264.3C259.0 1259.5 256.3 1255.4 253.2 1250.9C250.1 1246.5 246.8 1242.0 243.2 1237.6C239.6 1233.2 235.7 1228.7 231.5 1224.3C227.4 1219.8 222.7 1215.4 218.2 1211.0C213.8 1206.5 209.1 1201.5 204.9 1197.6C200.7 1193.7 196.3 1191.5 193.2 1187.6C190.2 1183.8 189.1 1178.5 186.6 1174.3C184.1 1170.2 180.5 1165.7 178.3 1162.7C176.0 1159.6 175.8 1158.7 173.3 1156.0C170.8 1153.3 166.9 1150.0 163.3 1146.5C159.7 1143.0 155.5 1138.5 151.6 1134.8C147.7 1131.2 143.8 1127.9 139.9 1124.9C136.1 1121.8 131.9 1119.3 128.3 1116.5C124.7 1113.7 121.6 1111.2 118.3 1108.2C115.0 1105.1 111.4 1101.8 108.3 1098.2C105.2 1094.6 102.2 1090.2 100.0 1086.5C97.7 1082.9 96.6 1080.4 95.0 1076.5C93.3 1072.7 91.5 1067.7 90.0 1063.2C88.4 1058.8 87.1 1054.3 85.8 1049.9C84.6 1045.5 83.6 1041.6 82.5 1036.6C81.4 1031.6 80.4 1025.5 79.2 1019.9C77.9 1014.4 76.4 1008.3 75.0 1003.3C73.6 998.3 72.3 994.4 70.8 989.9C69.3 985.5 67.2 980.8 65.8 976.6C64.4 972.5 63.2 968.8 62.5 965.0C61.8 961.1 61.2 957.5 61.7 953.3C62.1 949.1 63.3 944.1 65.0 940.0C66.7 935.8 69.4 931.9 71.7 928.3C73.9 924.7 76.1 921.2 78.3 918.3C80.5 915.4 82.5 912.5 85.0 910.8C87.5 909.2 89.7 908.3 93.3 908.3Z"/></clipPath>
<g filter="url(#bl)"><g clip-path="url(#cp6)">
<path d="M93.3 908.3C96.9 908.3 102.2 909.4 106.6 910.8C111.1 912.2 115.8 914.6 120.0 916.7C124.1 918.7 128.0 920.8 131.6 923.3C135.2 925.8 138.6 928.6 141.6 931.6C144.7 934.7 147.4 938.0 149.9 941.6C152.4 945.2 154.4 949.1 156.6 953.3C158.8 957.5 161.0 961.9 163.3 966.6C165.5 971.3 167.7 976.6 169.9 981.6C172.1 986.6 174.4 991.9 176.6 996.6C178.8 1001.3 181.0 1006.0 183.2 1009.9C185.5 1013.8 187.1 1016.9 189.9 1019.9C192.7 1023.0 196.6 1025.5 199.9 1028.2C203.2 1031.0 206.8 1033.2 209.9 1036.6C213.0 1039.9 215.4 1044.1 218.2 1048.2C221.0 1052.4 223.8 1057.1 226.6 1061.6C229.3 1066.0 232.1 1070.4 234.9 1074.9C237.7 1079.3 240.4 1083.2 243.2 1088.2C246.0 1093.2 248.8 1099.6 251.5 1104.9C254.3 1110.1 256.8 1114.6 259.9 1119.9C262.9 1125.1 266.8 1131.5 269.9 1136.5C272.9 1141.5 276.1 1146.6 278.2 1149.8C280.3 1153.1 280.1 1153.0 282.3 1156.0C284.6 1159.0 287.8 1163.2 291.5 1167.7C295.3 1172.1 300.4 1177.6 304.8 1182.6C309.3 1187.6 314.0 1192.6 318.2 1197.6C322.3 1202.6 326.2 1207.6 329.8 1212.6C333.4 1217.6 337.0 1222.6 339.8 1227.6C342.6 1232.6 344.5 1237.3 346.5 1242.6C348.4 1247.9 350.2 1253.7 351.5 1259.3C352.7 1264.8 353.4 1270.4 354.0 1275.9C354.5 1281.5 354.1 1287.0 354.8 1292.6C355.5 1298.1 356.9 1303.7 358.1 1309.2C359.4 1314.8 361.0 1320.9 362.3 1325.9C363.5 1330.9 364.9 1334.2 365.6 1339.2C366.3 1344.2 366.5 1350.3 366.5 1355.9C366.5 1361.4 366.5 1367.5 365.6 1372.5C364.8 1377.5 363.5 1382.2 361.5 1385.8C359.4 1389.5 356.7 1392.4 353.1 1394.2C349.5 1396.0 344.5 1396.9 339.8 1396.7C335.1 1396.4 330.1 1394.0 324.8 1392.5C319.5 1391.0 313.2 1389.5 308.2 1387.5C303.2 1385.6 298.7 1383.6 294.8 1380.8C291.0 1378.1 287.5 1374.5 284.8 1370.9C282.2 1367.2 280.3 1363.6 279.0 1359.2C277.8 1354.8 277.6 1349.2 277.4 1344.2C277.1 1339.2 277.5 1334.5 277.4 1329.2C277.2 1323.9 277.2 1318.1 276.5 1312.6C275.8 1307.0 274.6 1301.5 273.2 1295.9C271.8 1290.4 270.1 1284.5 268.2 1279.2C266.2 1274.0 264.0 1269.0 261.5 1264.3C259.0 1259.5 256.3 1255.4 253.2 1250.9C250.1 1246.5 246.8 1242.0 243.2 1237.6C239.6 1233.2 235.7 1228.7 231.5 1224.3C227.4 1219.8 222.7 1215.4 218.2 1211.0C213.8 1206.5 209.1 1201.5 204.9 1197.6C200.7 1193.7 196.3 1191.5 193.2 1187.6C190.2 1183.8 189.1 1178.5 186.6 1174.3C184.1 1170.2 180.5 1165.7 178.3 1162.7C176.0 1159.6 175.8 1158.7 173.3 1156.0C170.8 1153.3 166.9 1150.0 163.3 1146.5C159.7 1143.0 155.5 1138.5 151.6 1134.8C147.7 1131.2 143.8 1127.9 139.9 1124.9C136.1 1121.8 131.9 1119.3 128.3 1116.5C124.7 1113.7 121.6 1111.2 118.3 1108.2C115.0 1105.1 111.4 1101.8 108.3 1098.2C105.2 1094.6 102.2 1090.2 100.0 1086.5C97.7 1082.9 96.6 1080.4 95.0 1076.5C93.3 1072.7 91.5 1067.7 90.0 1063.2C88.4 1058.8 87.1 1054.3 85.8 1049.9C84.6 1045.5 83.6 1041.6 82.5 1036.6C81.4 1031.6 80.4 1025.5 79.2 1019.9C77.9 1014.4 76.4 1008.3 75.0 1003.3C73.6 998.3 72.3 994.4 70.8 989.9C69.3 985.5 67.2 980.8 65.8 976.6C64.4 972.5 63.2 968.8 62.5 965.0C61.8 961.1 61.2 957.5 61.7 953.3C62.1 949.1 63.3 944.1 65.0 940.0C66.7 935.8 69.4 931.9 71.7 928.3C73.9 924.7 76.1 921.2 78.3 918.3C80.5 915.4 82.5 912.5 85.0 910.8C87.5 909.2 89.7 908.3 93.3 908.3Z" fill="#00B9FF"/>
<g>
<path d="M51.7 988.3C54.3 1000.5 66.1 989.1 70.8 989.9C75.5 990.8 76.5 992.4 80.0 993.3C83.5 994.1 87.8 994.9 91.6 994.9C95.5 994.9 100.0 994.1 103.3 993.3C106.6 992.4 108.9 991.6 111.6 989.9C114.4 988.3 117.2 985.8 120.0 983.3C122.7 980.8 125.8 977.7 128.3 975.0C130.8 972.2 133.0 969.0 134.9 966.6C136.9 964.3 137.7 961.6 139.9 960.8C142.2 960.0 145.5 961.2 148.3 961.6C151.0 962.0 154.7 961.3 156.6 963.3C158.5 965.2 158.8 970.0 159.9 973.3C161.0 976.6 161.6 980.2 163.3 983.3C164.9 986.3 166.9 988.8 169.9 991.6C173.0 994.4 181.3 1006.9 181.6 999.9C181.9 993.0 178.8 965.2 171.6 950.0C164.4 934.7 151.3 917.2 138.3 908.3C125.2 899.4 107.2 895.3 93.3 896.7C79.4 898.1 61.9 901.4 55.0 916.7C48.1 931.9 49.0 976.1 51.7 988.3Z" fill="#005DFF"/>
<path d="M51.7 963.3C52.9 970.9 59.2 962.7 62.5 962.5C65.8 962.2 68.2 962.9 71.7 961.6C75.1 960.4 79.2 956.5 83.3 955.0C87.5 953.4 92.2 953.2 96.6 952.5C101.1 951.8 105.5 951.2 110.0 950.8C114.4 950.4 120.5 950.9 123.3 950.0C126.1 949.0 125.2 946.6 126.6 945.0C128.0 943.3 129.4 941.5 131.6 940.0C133.8 938.4 137.2 937.2 139.9 935.8C142.7 934.4 149.9 935.4 148.3 931.6C146.6 927.9 139.1 919.2 130.0 913.3C120.8 907.5 105.8 896.1 93.3 896.7C80.8 897.2 61.9 905.6 55.0 916.7C48.1 927.8 50.4 955.7 51.7 963.3Z" fill="#0000FF"/>
<path d="M103.3 911.7C104.4 911.5 109.1 913.0 111.6 914.2C114.1 915.3 118.0 917.5 118.3 918.3C118.6 919.2 115.5 919.7 113.3 919.2C111.1 918.6 106.6 916.2 105.0 915.0C103.3 913.7 102.2 911.8 103.3 911.7Z" fill="#005DFF"/>
<path d="M78.3 1008.3C80.0 1005.5 84.4 1005.2 88.3 1004.9C92.2 1004.7 97.7 1005.8 101.6 1006.6C105.5 1007.4 108.6 1009.9 111.6 1009.9C114.7 1009.9 117.7 1008.3 120.0 1006.6C122.2 1004.9 123.3 1002.7 125.0 999.9C126.6 997.2 128.3 993.3 130.0 989.9C131.6 986.6 133.0 982.6 134.9 979.9C136.9 977.3 139.4 974.1 141.6 974.1C143.8 974.1 146.3 977.3 148.3 979.9C150.2 982.6 151.0 986.9 153.3 989.9C155.5 993.0 158.5 996.0 161.6 998.3C164.6 1000.5 168.3 1001.6 171.6 1003.3C174.9 1004.9 178.8 1006.3 181.6 1008.3C184.4 1010.2 184.9 1011.9 188.2 1014.9C191.6 1018.0 197.4 1023.0 201.6 1026.6C205.7 1030.2 209.9 1033.0 213.2 1036.6C216.6 1040.2 218.8 1044.1 221.6 1048.2C224.3 1052.4 227.1 1057.1 229.9 1061.6C232.7 1066.0 235.4 1070.4 238.2 1074.9C241.0 1079.3 243.8 1083.2 246.5 1088.2C249.3 1093.2 254.0 1102.1 254.9 1104.9C255.7 1107.6 254.3 1107.6 251.5 1104.9C248.8 1102.1 242.1 1093.5 238.2 1088.2C234.3 1082.9 231.3 1076.8 228.2 1073.2C225.2 1069.6 222.7 1068.1 219.9 1066.6C217.1 1065.0 214.3 1064.2 211.6 1064.1C208.8 1063.9 205.5 1064.8 203.2 1065.7C201.0 1066.7 199.6 1068.1 198.2 1069.9C196.8 1071.7 196.0 1074.1 194.9 1076.5C193.8 1079.0 193.2 1082.9 191.6 1084.9C189.9 1086.8 187.7 1087.4 184.9 1088.2C182.1 1089.0 178.3 1090.2 174.9 1089.9C171.6 1089.6 168.3 1087.9 164.9 1086.5C161.6 1085.2 158.3 1083.5 154.9 1081.5C151.6 1079.6 148.3 1077.1 144.9 1074.9C141.6 1072.7 138.3 1070.2 134.9 1068.2C131.6 1066.3 128.3 1064.9 125.0 1063.2C121.6 1061.6 118.3 1059.9 115.0 1058.2C111.6 1056.6 108.3 1054.6 105.0 1053.2C101.6 1051.8 97.9 1050.7 95.0 1049.9C92.1 1049.1 89.7 1050.5 87.5 1048.2C85.3 1046.0 83.2 1041.0 81.6 1036.6C80.1 1032.1 78.9 1026.3 78.3 1021.6C77.8 1016.9 76.7 1011.0 78.3 1008.3Z" fill="#00FFE8"/>
<path d="M81.6 1016.6C82.8 1013.5 86.6 1012.4 90.0 1011.6C93.3 1010.8 98.0 1011.0 101.6 1011.6C105.2 1012.1 109.1 1013.8 111.6 1014.9C114.1 1016.0 115.0 1018.5 116.6 1018.3C118.3 1018.0 119.7 1015.8 121.6 1013.3C123.6 1010.8 126.1 1006.3 128.3 1003.3C130.5 1000.2 132.4 997.0 134.9 994.9C137.4 992.9 140.8 990.5 143.3 990.8C145.8 991.1 148.0 994.2 149.9 996.6C151.9 999.0 152.4 1002.7 154.9 1004.9C157.4 1007.2 161.6 1008.5 164.9 1009.9C168.3 1011.3 171.6 1012.1 174.9 1013.3C178.3 1014.4 182.7 1014.9 184.9 1016.6C187.1 1018.3 188.2 1020.5 188.2 1023.3C188.2 1026.0 185.7 1029.9 184.9 1033.2C184.1 1036.6 183.5 1040.2 183.2 1043.2C183.0 1046.3 184.1 1048.8 183.2 1051.6C182.4 1054.3 180.2 1057.7 178.3 1059.9C176.3 1062.1 174.1 1064.9 171.6 1064.9C169.1 1064.9 166.0 1061.3 163.3 1059.9C160.5 1058.5 158.0 1057.7 154.9 1056.6C151.9 1055.5 148.3 1054.6 144.9 1053.2C141.6 1051.8 138.3 1049.9 134.9 1048.2C131.6 1046.6 128.3 1044.3 125.0 1043.2C121.6 1042.1 118.3 1042.1 115.0 1041.6C111.6 1041.0 108.3 1040.5 105.0 1039.9C101.6 1039.4 98.0 1038.5 95.0 1038.2C91.9 1038.0 88.6 1039.6 86.6 1038.2C84.7 1036.9 84.1 1033.5 83.3 1029.9C82.5 1026.3 80.5 1019.6 81.6 1016.6Z" fill="#00FF8B"/>
<path d="M83.3 1021.6C84.1 1019.9 86.1 1017.7 88.3 1016.6C90.5 1015.5 93.9 1014.6 96.6 1014.9C99.4 1015.2 102.2 1017.4 105.0 1018.3C107.7 1019.1 110.5 1019.9 113.3 1019.9C116.1 1019.9 119.1 1019.6 121.6 1018.3C124.1 1016.9 126.1 1013.5 128.3 1011.6C130.5 1009.6 132.7 1007.8 134.9 1006.6C137.2 1005.3 139.1 1004.1 141.6 1004.1C144.1 1004.1 147.2 1005.1 149.9 1006.6C152.7 1008.1 156.0 1010.5 158.3 1013.3C160.5 1016.0 161.9 1019.9 163.3 1023.3C164.6 1026.6 165.8 1030.2 166.6 1033.2C167.4 1036.3 169.1 1039.1 168.3 1041.6C167.4 1044.1 164.1 1046.6 161.6 1048.2C159.1 1049.9 156.0 1051.6 153.3 1051.6C150.5 1051.6 148.0 1049.6 144.9 1048.2C141.9 1046.8 138.3 1044.9 134.9 1043.2C131.6 1041.6 128.3 1039.6 125.0 1038.2C121.6 1036.9 118.3 1035.7 115.0 1034.9C111.6 1034.1 108.3 1033.5 105.0 1033.2C101.6 1033.0 98.0 1033.5 95.0 1033.2C91.9 1033.0 88.6 1032.7 86.6 1031.6C84.7 1030.5 83.9 1028.2 83.3 1026.6C82.8 1024.9 82.5 1023.3 83.3 1021.6Z" fill="#00FF2E"/>
<path d="M106.6 1023.3C107.7 1021.6 112.2 1020.2 115.0 1019.9C117.7 1019.6 120.5 1022.4 123.3 1021.6C126.1 1020.8 129.1 1016.9 131.6 1014.9C134.1 1013.0 136.1 1011.0 138.3 1009.9C140.5 1008.8 142.4 1007.7 144.9 1008.3C147.4 1008.8 151.0 1011.0 153.3 1013.3C155.5 1015.5 156.9 1018.5 158.3 1021.6C159.7 1024.6 160.8 1028.5 161.6 1031.6C162.4 1034.6 163.8 1037.7 163.3 1039.9C162.7 1042.1 160.2 1043.5 158.3 1044.9C156.3 1046.3 154.1 1048.2 151.6 1048.2C149.1 1048.2 146.1 1046.3 143.3 1044.9C140.5 1043.5 138.0 1041.6 134.9 1039.9C131.9 1038.2 128.3 1036.0 125.0 1034.9C121.6 1033.8 117.7 1034.1 115.0 1033.2C112.2 1032.4 109.7 1031.6 108.3 1029.9C106.9 1028.2 105.5 1024.9 106.6 1023.3Z" fill="#2EFF00"/>
<path d="M115.0 1028.2C115.2 1027.4 116.6 1026.3 118.3 1026.6C120.0 1026.9 123.0 1030.2 125.0 1029.9C126.9 1029.6 128.3 1026.0 130.0 1024.9C131.6 1023.8 133.6 1024.6 134.9 1023.3C136.3 1021.9 136.6 1017.8 138.3 1016.6C139.9 1015.3 143.3 1014.9 144.9 1015.8C146.6 1016.6 147.4 1018.9 148.3 1021.6C149.1 1024.2 149.9 1029.1 149.9 1031.6C149.9 1034.1 149.7 1035.3 148.3 1036.6C146.9 1037.8 143.8 1038.8 141.6 1039.1C139.4 1039.4 137.2 1039.1 134.9 1038.2C132.7 1037.4 130.5 1034.9 128.3 1034.1C126.1 1033.2 123.6 1033.7 121.6 1033.2C119.7 1032.8 117.7 1032.4 116.6 1031.6C115.5 1030.7 114.7 1029.1 115.0 1028.2Z" fill="#8BFF00"/>
<path d="M86.6 1058.2C87.5 1055.3 95.0 1058.8 98.3 1059.1C101.6 1059.3 103.9 1058.6 106.6 1059.9C109.4 1061.1 112.2 1064.1 115.0 1066.6C117.7 1069.1 120.8 1072.4 123.3 1074.9C125.8 1077.4 128.4 1079.3 130.0 1081.5C131.5 1083.8 132.3 1085.7 132.4 1088.2C132.6 1090.7 130.6 1093.8 130.8 1096.5C130.9 1099.3 132.3 1102.1 133.3 1104.9C134.3 1107.6 136.6 1110.7 136.6 1113.2C136.6 1115.7 136.3 1120.4 133.3 1119.9C130.2 1119.3 123.0 1113.7 118.3 1109.9C113.6 1106.0 109.1 1102.1 105.0 1096.5C100.8 1091.0 96.4 1082.9 93.3 1076.5C90.3 1070.2 85.8 1061.1 86.6 1058.2Z" fill="#005DFF"/>
<path d="M161.6 1111.5C163.8 1110.6 168.0 1112.1 171.6 1112.4C175.2 1112.6 179.6 1112.2 183.2 1113.2C186.9 1114.2 190.2 1116.2 193.2 1118.2C196.3 1120.1 200.5 1122.4 201.6 1124.9C202.7 1127.3 201.3 1130.7 199.9 1133.2C198.5 1135.7 195.5 1138.2 193.2 1139.8C191.0 1141.5 189.1 1142.1 186.6 1143.2C184.1 1144.3 180.5 1144.1 178.3 1146.5C176.0 1148.9 175.8 1157.1 173.3 1157.3C170.8 1157.6 166.6 1151.6 163.3 1148.2C159.9 1144.7 155.5 1139.3 153.3 1136.5C151.0 1133.7 149.7 1133.5 149.9 1131.5C150.2 1129.6 153.5 1127.1 154.9 1124.9C156.3 1122.6 157.2 1120.4 158.3 1118.2C159.4 1116.0 159.4 1112.5 161.6 1111.5Z" fill="#00FFE8"/>
<path d="M273.2 1149.8C274.0 1147.8 276.2 1143.6 278.2 1144.8C280.1 1146.1 285.7 1155.2 284.8 1157.3C284.0 1159.4 275.1 1158.6 273.2 1157.3C271.2 1156.1 272.4 1151.9 273.2 1149.8Z" fill="#00FFE8"/>
<path d="M193.2 1187.6C191.2 1184.3 192.1 1182.1 192.4 1179.3C192.7 1176.5 193.9 1173.5 194.9 1171.0C195.9 1168.5 196.6 1166.3 198.2 1164.3C199.9 1162.4 202.1 1160.3 204.9 1159.3C207.7 1158.4 211.3 1158.5 214.9 1158.5C218.5 1158.5 223.2 1158.4 226.6 1159.3C229.9 1160.3 232.4 1162.7 234.9 1164.3C237.4 1166.0 239.6 1167.4 241.5 1169.3C243.5 1171.3 245.6 1173.8 246.5 1176.0C247.5 1178.2 247.9 1180.4 247.4 1182.6C246.8 1184.9 245.0 1187.6 243.2 1189.3C241.4 1191.0 238.5 1191.0 236.5 1192.6C234.6 1194.3 232.7 1196.5 231.5 1199.3C230.4 1202.1 229.9 1206.0 229.9 1209.3C229.9 1212.6 232.9 1218.5 231.5 1219.3C230.2 1220.1 226.0 1217.6 221.6 1214.3C217.1 1211.0 209.6 1203.7 204.9 1199.3C200.2 1194.9 195.3 1191.0 193.2 1187.6Z" fill="#005DFF"/>
<path d="M241.5 1227.6C242.4 1225.4 244.6 1225.4 246.5 1226.0C248.5 1226.5 251.4 1228.7 253.2 1231.0C255.0 1233.2 256.3 1236.2 257.4 1239.3C258.5 1242.3 259.2 1245.1 259.9 1249.3C260.6 1253.4 262.9 1263.7 261.5 1264.3C260.1 1264.8 254.9 1256.8 251.5 1252.6C248.2 1248.4 243.2 1243.4 241.5 1239.3C239.9 1235.1 240.7 1229.8 241.5 1227.6Z" fill="#005DFF"/>
<path d="M273.2 1154.3C271.7 1156.3 275.7 1161.8 276.5 1166.0C277.4 1170.2 277.6 1175.4 278.2 1179.3C278.7 1183.2 279.3 1186.3 279.9 1189.3C280.4 1192.4 281.8 1195.1 281.5 1197.6C281.2 1200.1 279.0 1201.8 278.2 1204.3C277.4 1206.8 277.4 1210.7 276.5 1212.6C275.7 1214.6 273.2 1213.7 273.2 1216.0C273.2 1218.2 274.9 1222.1 276.5 1226.0C278.2 1229.8 281.0 1235.4 283.2 1239.3C285.4 1243.2 287.9 1245.9 289.8 1249.3C291.8 1252.6 293.7 1255.7 294.8 1259.3C296.0 1262.9 296.0 1266.8 296.5 1270.9C297.1 1275.1 296.8 1280.9 298.2 1284.2C299.6 1287.6 302.1 1289.2 304.8 1290.9C307.6 1292.6 311.5 1293.7 314.8 1294.2C318.2 1294.8 321.2 1294.0 324.8 1294.2C328.4 1294.5 332.9 1294.8 336.5 1295.9C340.1 1297.0 342.6 1299.2 346.5 1300.9C350.4 1302.6 357.9 1307.8 359.8 1305.9C361.7 1304.0 358.7 1294.8 358.1 1289.2C357.6 1283.7 357.9 1280.4 356.5 1272.6C355.1 1264.8 353.7 1252.6 349.8 1242.6C345.9 1232.6 340.1 1222.6 333.1 1212.6C326.2 1202.6 316.1 1192.4 308.2 1182.6C300.3 1172.9 291.5 1159.1 285.7 1154.3C279.9 1149.6 274.7 1152.4 273.2 1154.3Z" fill="#00FFE8"/>
<path d="M328.2 1249.3C328.7 1248.0 332.6 1248.2 334.8 1246.8C337.0 1245.4 339.3 1241.4 341.5 1240.9C343.7 1240.5 345.9 1241.2 348.1 1244.3C350.4 1247.3 353.3 1254.0 354.8 1259.3C356.3 1264.5 357.0 1271.2 357.3 1275.9C357.6 1280.6 358.5 1286.7 356.5 1287.6C354.4 1288.4 348.4 1282.9 344.8 1280.9C341.2 1279.0 338.1 1277.9 334.8 1275.9C331.5 1274.0 325.9 1271.8 324.8 1269.3C323.7 1266.8 327.0 1263.4 328.2 1260.9C329.3 1258.4 331.5 1256.2 331.5 1254.3C331.5 1252.3 327.6 1250.5 328.2 1249.3Z" fill="#00FF8B"/>
<path d="M279.9 1154.3C280.7 1154.6 285.4 1159.6 288.2 1162.7C291.0 1165.7 296.2 1171.5 296.5 1172.7C296.8 1173.8 292.1 1171.3 289.8 1169.3C287.6 1167.4 284.8 1163.5 283.2 1161.0C281.5 1158.5 279.0 1154.1 279.9 1154.3Z" fill="#00FF8B"/>
<path d="M274.9 1335.9C277.1 1331.7 281.5 1332.1 284.8 1330.9C288.2 1329.6 292.3 1328.2 294.8 1328.4C297.3 1328.5 298.2 1332.1 299.8 1331.7C301.5 1331.3 303.4 1328.2 304.8 1325.9C306.2 1323.5 306.9 1319.9 308.2 1317.6C309.4 1315.2 310.1 1311.7 312.3 1311.7C314.5 1311.7 317.7 1315.5 321.5 1317.6C325.2 1319.6 330.4 1322.3 334.8 1324.2C339.3 1326.2 342.9 1328.1 348.1 1329.2C353.4 1330.3 361.2 1323.7 366.5 1330.9C371.7 1338.1 381.7 1360.0 379.8 1372.5C377.8 1385.0 370.1 1401.7 354.8 1405.8C339.5 1410.0 302.1 1405.8 288.2 1397.5C274.3 1389.2 273.7 1366.1 271.5 1355.9C269.3 1345.6 272.6 1340.0 274.9 1335.9Z" fill="#005DFF"/>
</g></g></g>
<clipPath id="cp7"><path d="M410.0 899.2C413.9 899.2 420.0 900.1 425.0 901.7C430.0 903.2 435.2 906.1 440.0 908.3C444.7 910.5 449.1 912.5 453.3 915.0C457.4 917.5 461.6 920.0 464.9 923.3C468.3 926.6 470.5 930.8 473.3 935.0C476.0 939.1 479.1 943.9 481.6 948.3C484.1 952.7 486.0 957.2 488.3 961.6C490.5 966.1 492.7 970.2 494.9 974.9C497.1 979.7 499.4 985.5 501.6 989.9C503.8 994.4 505.7 998.3 508.2 1001.6C510.7 1004.9 513.2 1007.1 516.6 1009.9C519.9 1012.7 524.3 1015.2 528.2 1018.3C532.1 1021.3 536.6 1024.9 539.9 1028.2C543.2 1031.6 545.4 1034.4 548.2 1038.2C551.0 1042.1 553.8 1047.1 556.5 1051.6C559.3 1056.0 562.1 1060.2 564.9 1064.9C567.6 1069.6 570.1 1074.6 573.2 1079.9C576.3 1085.2 579.9 1091.0 583.2 1096.5C586.5 1102.1 589.9 1107.9 593.2 1113.2C596.5 1118.5 599.9 1123.5 603.2 1128.2C606.5 1132.9 610.4 1137.7 613.2 1141.5C616.0 1145.3 617.1 1147.2 619.8 1151.0C622.6 1154.8 626.5 1159.9 629.8 1164.3C633.2 1168.8 636.5 1172.9 639.8 1177.6C643.2 1182.4 646.5 1187.6 649.8 1192.6C653.1 1197.6 656.8 1202.6 659.8 1207.6C662.9 1212.6 665.6 1217.6 668.1 1222.6C670.6 1227.6 673.0 1232.6 674.8 1237.6C676.6 1242.6 677.9 1247.6 679.0 1252.6C680.1 1257.6 680.8 1262.3 681.5 1267.6C682.2 1272.9 682.4 1278.7 683.1 1284.2C683.8 1289.8 684.5 1295.3 685.6 1300.9C686.7 1306.4 688.5 1312.0 689.8 1317.6C691.0 1323.1 692.1 1328.7 693.1 1334.2C694.1 1339.8 695.2 1345.3 695.6 1350.9C696.0 1356.4 696.2 1362.0 695.6 1367.5C695.1 1373.1 694.1 1379.9 692.3 1384.2C690.5 1388.5 688.0 1391.1 684.8 1393.3C681.6 1395.6 677.3 1396.9 673.1 1397.5C669.0 1398.1 664.5 1397.5 659.8 1396.7C655.1 1395.8 650.1 1394.2 644.8 1392.5C639.5 1390.8 633.4 1388.6 628.2 1386.7C622.9 1384.7 617.1 1383.2 613.2 1380.8C609.3 1378.5 607.1 1375.8 604.8 1372.5C602.6 1369.2 601.0 1365.3 599.9 1360.9C598.7 1356.4 598.7 1351.1 598.2 1345.9C597.6 1340.6 597.2 1334.8 596.5 1329.2C595.8 1323.7 595.0 1318.1 594.0 1312.6C593.0 1307.0 592.2 1301.5 590.7 1295.9C589.2 1290.3 586.9 1284.5 584.9 1279.2C582.8 1274.0 580.4 1269.0 578.2 1264.3C576.0 1259.5 573.8 1255.4 571.5 1250.9C569.3 1246.5 567.1 1242.0 564.9 1237.6C562.7 1233.2 560.7 1228.4 558.2 1224.3C555.7 1220.1 552.9 1216.2 549.9 1212.6C546.8 1209.0 543.2 1206.0 539.9 1202.6C536.6 1199.3 533.0 1196.0 529.9 1192.6C526.8 1189.3 524.1 1186.3 521.6 1182.6C519.1 1179.0 517.1 1174.9 514.9 1171.0C512.7 1167.1 510.5 1162.7 508.2 1159.3C506.0 1156.0 504.4 1154.0 501.6 1151.0C498.8 1148.0 495.2 1144.5 491.6 1141.5C488.0 1138.5 484.1 1136.0 479.9 1133.2C475.8 1130.4 471.0 1127.6 466.6 1124.8C462.2 1122.1 457.4 1119.3 453.3 1116.5C449.1 1113.7 445.2 1111.2 441.6 1108.2C438.0 1105.1 434.7 1101.8 431.6 1098.2C428.6 1094.6 425.8 1090.4 423.3 1086.5C420.8 1082.7 418.7 1079.0 416.6 1074.9C414.6 1070.7 412.5 1066.0 410.8 1061.6C409.1 1057.1 407.9 1053.0 406.6 1048.2C405.4 1043.5 404.6 1038.2 403.3 1033.2C402.1 1028.2 400.5 1023.2 399.2 1018.3C397.8 1013.3 396.5 1008.3 395.0 1003.3C393.5 998.3 391.8 993.0 390.0 988.3C388.2 983.6 385.8 979.4 384.2 974.9C382.5 970.5 381.0 966.3 380.0 961.6C379.0 956.9 378.1 951.4 378.3 946.6C378.6 941.9 380.0 937.5 381.7 933.3C383.3 929.1 386.1 925.5 388.3 921.6C390.5 917.8 392.8 913.3 395.0 910.0C397.2 906.7 399.2 903.5 401.6 901.7C404.1 899.9 406.1 899.2 410.0 899.2Z"/></clipPath>
<g filter="url(#bl)"><g clip-path="url(#cp7)">
<path d="M410.0 899.2C413.9 899.2 420.0 900.1 425.0 901.7C430.0 903.2 435.2 906.1 440.0 908.3C444.7 910.5 449.1 912.5 453.3 915.0C457.4 917.5 461.6 920.0 464.9 923.3C468.3 926.6 470.5 930.8 473.3 935.0C476.0 939.1 479.1 943.9 481.6 948.3C484.1 952.7 486.0 957.2 488.3 961.6C490.5 966.1 492.7 970.2 494.9 974.9C497.1 979.7 499.4 985.5 501.6 989.9C503.8 994.4 505.7 998.3 508.2 1001.6C510.7 1004.9 513.2 1007.1 516.6 1009.9C519.9 1012.7 524.3 1015.2 528.2 1018.3C532.1 1021.3 536.6 1024.9 539.9 1028.2C543.2 1031.6 545.4 1034.4 548.2 1038.2C551.0 1042.1 553.8 1047.1 556.5 1051.6C559.3 1056.0 562.1 1060.2 564.9 1064.9C567.6 1069.6 570.1 1074.6 573.2 1079.9C576.3 1085.2 579.9 1091.0 583.2 1096.5C586.5 1102.1 589.9 1107.9 593.2 1113.2C596.5 1118.5 599.9 1123.5 603.2 1128.2C606.5 1132.9 610.4 1137.7 613.2 1141.5C616.0 1145.3 617.1 1147.2 619.8 1151.0C622.6 1154.8 626.5 1159.9 629.8 1164.3C633.2 1168.8 636.5 1172.9 639.8 1177.6C643.2 1182.4 646.5 1187.6 649.8 1192.6C653.1 1197.6 656.8 1202.6 659.8 1207.6C662.9 1212.6 665.6 1217.6 668.1 1222.6C670.6 1227.6 673.0 1232.6 674.8 1237.6C676.6 1242.6 677.9 1247.6 679.0 1252.6C680.1 1257.6 680.8 1262.3 681.5 1267.6C682.2 1272.9 682.4 1278.7 683.1 1284.2C683.8 1289.8 684.5 1295.3 685.6 1300.9C686.7 1306.4 688.5 1312.0 689.8 1317.6C691.0 1323.1 692.1 1328.7 693.1 1334.2C694.1 1339.8 695.2 1345.3 695.6 1350.9C696.0 1356.4 696.2 1362.0 695.6 1367.5C695.1 1373.1 694.1 1379.9 692.3 1384.2C690.5 1388.5 688.0 1391.1 684.8 1393.3C681.6 1395.6 677.3 1396.9 673.1 1397.5C669.0 1398.1 664.5 1397.5 659.8 1396.7C655.1 1395.8 650.1 1394.2 644.8 1392.5C639.5 1390.8 633.4 1388.6 628.2 1386.7C622.9 1384.7 617.1 1383.2 613.2 1380.8C609.3 1378.5 607.1 1375.8 604.8 1372.5C602.6 1369.2 601.0 1365.3 599.9 1360.9C598.7 1356.4 598.7 1351.1 598.2 1345.9C597.6 1340.6 597.2 1334.8 596.5 1329.2C595.8 1323.7 595.0 1318.1 594.0 1312.6C593.0 1307.0 592.2 1301.5 590.7 1295.9C589.2 1290.3 586.9 1284.5 584.9 1279.2C582.8 1274.0 580.4 1269.0 578.2 1264.3C576.0 1259.5 573.8 1255.4 571.5 1250.9C569.3 1246.5 567.1 1242.0 564.9 1237.6C562.7 1233.2 560.7 1228.4 558.2 1224.3C555.7 1220.1 552.9 1216.2 549.9 1212.6C546.8 1209.0 543.2 1206.0 539.9 1202.6C536.6 1199.3 533.0 1196.0 529.9 1192.6C526.8 1189.3 524.1 1186.3 521.6 1182.6C519.1 1179.0 517.1 1174.9 514.9 1171.0C512.7 1167.1 510.5 1162.7 508.2 1159.3C506.0 1156.0 504.4 1154.0 501.6 1151.0C498.8 1148.0 495.2 1144.5 491.6 1141.5C488.0 1138.5 484.1 1136.0 479.9 1133.2C475.8 1130.4 471.0 1127.6 466.6 1124.8C462.2 1122.1 457.4 1119.3 453.3 1116.5C449.1 1113.7 445.2 1111.2 441.6 1108.2C438.0 1105.1 434.7 1101.8 431.6 1098.2C428.6 1094.6 425.8 1090.4 423.3 1086.5C420.8 1082.7 418.7 1079.0 416.6 1074.9C414.6 1070.7 412.5 1066.0 410.8 1061.6C409.1 1057.1 407.9 1053.0 406.6 1048.2C405.4 1043.5 404.6 1038.2 403.3 1033.2C402.1 1028.2 400.5 1023.2 399.2 1018.3C397.8 1013.3 396.5 1008.3 395.0 1003.3C393.5 998.3 391.8 993.0 390.0 988.3C388.2 983.6 385.8 979.4 384.2 974.9C382.5 970.5 381.0 966.3 380.0 961.6C379.0 956.9 378.1 951.4 378.3 946.6C378.6 941.9 380.0 937.5 381.7 933.3C383.3 929.1 386.1 925.5 388.3 921.6C390.5 917.8 392.8 913.3 395.0 910.0C397.2 906.7 399.2 903.5 401.6 901.7C404.1 899.9 406.1 899.2 410.0 899.2Z" fill="#00B9FF"/>
<g>
<path d="M371.7 994.9C374.7 1009.4 387.8 997.2 393.3 998.3C398.9 999.4 401.1 1000.8 405.0 1001.6C408.9 1002.4 413.0 1002.4 416.6 1003.3C420.2 1004.1 423.3 1006.2 426.6 1006.6C430.0 1007.0 433.6 1006.9 436.6 1005.8C439.7 1004.6 442.5 1002.0 445.0 999.9C447.5 997.8 449.4 996.0 451.6 993.3C453.8 990.5 456.3 986.6 458.3 983.3C460.2 979.9 462.0 975.8 463.3 973.3C464.5 970.8 464.7 968.0 465.8 968.3C466.9 968.6 468.4 972.4 469.9 974.9C471.5 977.4 473.0 980.8 474.9 983.3C476.9 985.8 478.8 988.3 481.6 989.9C484.4 991.6 487.4 992.0 491.6 993.3C495.8 994.5 506.6 1005.5 506.6 997.4C506.6 989.4 499.6 960.7 491.6 945.0C483.5 929.3 471.9 912.2 458.3 903.3C444.7 894.4 423.9 890.3 410.0 891.7C396.1 893.1 381.4 894.4 375.0 911.7C368.6 928.9 368.6 980.5 371.7 994.9Z" fill="#005DFF"/>
<path d="M375.0 945.0C373.1 954.7 378.5 956.3 380.0 961.6C381.5 966.9 382.2 973.8 384.2 976.6C386.1 979.4 389.3 976.9 391.7 978.3C394.0 979.7 395.5 983.1 398.3 984.9C401.1 986.7 404.7 988.3 408.3 989.1C411.9 989.9 416.4 990.4 420.0 989.9C423.6 989.5 426.9 988.5 430.0 986.6C433.0 984.7 435.8 981.3 438.3 978.3C440.8 975.2 443.6 971.6 445.0 968.3C446.3 965.0 446.9 961.6 446.6 958.3C446.3 955.0 445.0 950.8 443.3 948.3C441.6 945.8 438.8 945.2 436.6 943.3C434.4 941.4 430.5 938.9 430.0 936.6C429.4 934.4 431.4 931.9 433.3 930.0C435.2 928.0 438.6 926.4 441.6 925.0C444.7 923.6 448.0 922.2 451.6 921.6C455.2 921.1 463.6 923.9 463.3 921.6C463.0 919.4 456.3 912.2 450.0 908.3C443.6 904.4 431.6 900.8 425.0 898.3C418.3 895.8 415.5 892.5 410.0 893.3C404.4 894.2 397.5 894.7 391.7 903.3C385.8 911.9 376.9 935.3 375.0 945.0Z" fill="#0000FF"/>
<path d="M415.8 924.1C415.9 923.2 417.6 921.5 419.1 922.5C420.7 923.5 424.3 928.3 425.0 930.0C425.7 931.6 424.4 932.8 423.3 932.5C422.2 932.2 419.6 929.7 418.3 928.3C417.1 926.9 415.7 925.1 415.8 924.1Z" fill="#005DFF"/>
<path d="M483.3 973.3C483.7 972.0 485.2 970.0 486.6 970.0C488.0 970.0 489.9 971.3 491.6 973.3C493.3 975.2 495.2 979.1 496.6 981.6C498.0 984.1 500.2 987.4 499.9 988.3C499.6 989.1 496.9 987.7 494.9 986.6C493.0 985.5 490.1 983.1 488.3 981.6C486.5 980.1 484.9 978.8 484.1 977.4C483.3 976.1 482.8 974.5 483.3 973.3Z" fill="#0000FF"/>
<path d="M395.0 1004.9C395.8 1000.8 401.6 1003.3 405.0 1003.3C408.3 1003.3 411.9 1004.1 415.0 1004.9C418.0 1005.8 421.1 1007.1 423.3 1008.3C425.5 1009.4 426.1 1011.3 428.3 1011.6C430.5 1011.9 433.8 1011.3 436.6 1009.9C439.4 1008.5 442.2 1005.2 445.0 1003.3C447.7 1001.3 450.0 999.7 453.3 998.3C456.6 996.9 461.1 995.3 464.9 994.9C468.8 994.5 473.3 994.7 476.6 995.8C479.9 996.9 482.2 999.5 484.9 1001.6C487.7 1003.7 490.5 1005.8 493.3 1008.3C496.0 1010.8 498.3 1014.1 501.6 1016.6C504.9 1019.1 509.4 1021.6 513.2 1023.2C517.1 1024.9 521.0 1025.7 524.9 1026.6C528.8 1027.4 532.4 1026.6 536.6 1028.2C540.7 1029.9 544.9 1031.0 549.9 1036.6C554.9 1042.1 559.6 1049.9 566.5 1061.6C573.5 1073.2 581.8 1091.0 591.5 1106.5C601.2 1122.1 635.4 1146.8 624.8 1154.8C614.3 1162.9 545.7 1156.5 528.2 1154.8C510.7 1153.2 522.1 1148.2 519.9 1144.8C517.7 1141.5 514.9 1138.2 514.9 1134.8C514.9 1131.5 518.2 1127.9 519.9 1124.8C521.6 1121.8 523.0 1119.0 524.9 1116.5C526.8 1114.0 529.6 1112.9 531.6 1109.9C533.5 1106.8 534.9 1101.8 536.6 1098.2C538.2 1094.6 540.7 1091.5 541.6 1088.2C542.4 1084.9 542.9 1081.0 541.6 1078.2C540.2 1075.4 535.4 1074.0 533.2 1071.5C531.0 1069.1 530.2 1065.0 528.2 1063.2C526.3 1061.4 524.1 1060.4 521.6 1060.7C519.1 1061.0 515.7 1063.4 513.2 1064.9C510.7 1066.4 509.1 1069.6 506.6 1069.9C504.1 1070.2 501.3 1067.7 498.3 1066.6C495.2 1065.4 491.6 1063.5 488.3 1063.2C484.9 1062.9 482.2 1064.9 478.3 1064.9C474.4 1064.9 469.1 1063.1 464.9 1063.2C460.8 1063.4 457.2 1065.7 453.3 1065.7C449.4 1065.7 445.8 1064.2 441.6 1063.2C437.5 1062.2 432.5 1061.3 428.3 1059.9C424.1 1058.5 420.5 1056.6 416.6 1054.9C412.8 1053.2 407.8 1054.3 405.0 1049.9C402.2 1045.5 401.6 1035.7 400.0 1028.2C398.3 1020.7 394.2 1009.1 395.0 1004.9Z" fill="#00FFE8"/>
<path d="M398.3 1011.6C399.2 1008.8 403.6 1008.5 406.6 1008.3C409.7 1008.0 413.9 1009.1 416.6 1009.9C419.4 1010.8 421.1 1012.4 423.3 1013.3C425.5 1014.1 427.5 1014.9 430.0 1014.9C432.5 1014.9 435.5 1014.4 438.3 1013.3C441.1 1012.1 443.8 1009.9 446.6 1008.3C449.4 1006.6 451.6 1004.5 454.9 1003.3C458.3 1002.0 463.0 1001.0 466.6 1000.8C470.2 1000.5 473.8 1000.6 476.6 1001.6C479.4 1002.6 481.0 1004.4 483.3 1006.6C485.5 1008.8 487.7 1011.9 489.9 1014.9C492.1 1018.0 494.6 1021.9 496.6 1024.9C498.5 1028.0 501.3 1030.7 501.6 1033.2C501.9 1035.7 499.9 1038.0 498.3 1039.9C496.6 1041.8 494.4 1043.5 491.6 1044.9C488.8 1046.3 484.9 1047.1 481.6 1048.2C478.3 1049.3 474.9 1051.3 471.6 1051.6C468.3 1051.8 464.9 1050.5 461.6 1049.9C458.3 1049.3 454.9 1048.2 451.6 1048.2C448.3 1048.2 445.0 1049.6 441.6 1049.9C438.3 1050.2 435.0 1050.5 431.6 1049.9C428.3 1049.3 425.0 1047.7 421.6 1046.6C418.3 1045.5 414.4 1044.9 411.6 1043.2C408.9 1041.6 406.6 1039.6 405.0 1036.6C403.3 1033.5 402.8 1029.1 401.6 1024.9C400.5 1020.7 397.5 1014.4 398.3 1011.6Z" fill="#00FF8B"/>
<path d="M401.6 1018.3C402.5 1016.7 405.8 1014.9 408.3 1014.1C410.8 1013.3 413.9 1012.8 416.6 1013.3C419.4 1013.7 422.2 1015.8 425.0 1016.6C427.7 1017.4 430.5 1018.3 433.3 1018.3C436.1 1018.3 438.8 1017.7 441.6 1016.6C444.4 1015.5 447.2 1013.0 450.0 1011.6C452.7 1010.2 455.5 1009.1 458.3 1008.3C461.1 1007.4 464.1 1006.6 466.6 1006.6C469.1 1006.6 471.6 1006.6 473.3 1008.3C474.9 1009.9 475.9 1013.5 476.6 1016.6C477.3 1019.6 477.4 1023.5 477.4 1026.6C477.4 1029.6 477.6 1032.7 476.6 1034.9C475.6 1037.1 473.8 1039.1 471.6 1039.9C469.4 1040.7 466.1 1039.6 463.3 1039.9C460.5 1040.2 458.0 1041.6 454.9 1041.6C451.9 1041.6 448.3 1040.2 445.0 1039.9C441.6 1039.6 438.3 1040.5 435.0 1039.9C431.6 1039.3 428.0 1037.7 425.0 1036.6C421.9 1035.5 419.4 1034.6 416.6 1033.2C413.9 1031.9 410.5 1029.9 408.3 1028.2C406.1 1026.6 404.4 1024.9 403.3 1023.2C402.2 1021.6 400.8 1019.8 401.6 1018.3Z" fill="#00FF2E"/>
<path d="M423.3 1021.6C423.6 1019.2 426.4 1017.8 428.3 1017.4C430.2 1017.0 432.5 1018.9 435.0 1019.1C437.5 1019.2 440.5 1018.9 443.3 1018.3C446.1 1017.6 448.8 1016.0 451.6 1014.9C454.4 1013.8 457.2 1012.4 459.9 1011.6C462.7 1010.8 466.1 1009.4 468.3 1009.9C470.5 1010.5 472.2 1012.4 473.3 1014.9C474.4 1017.4 474.9 1021.9 474.9 1024.9C474.9 1028.0 474.7 1031.3 473.3 1033.2C471.9 1035.2 469.1 1036.0 466.6 1036.6C464.1 1037.1 461.1 1036.4 458.3 1036.6C455.5 1036.7 452.7 1037.4 450.0 1037.4C447.2 1037.4 444.4 1036.7 441.6 1036.6C438.8 1036.4 435.8 1037.4 433.3 1036.6C430.8 1035.7 428.3 1034.1 426.6 1031.6C425.0 1029.1 423.0 1023.9 423.3 1021.6Z" fill="#2EFF00"/>
<path d="M428.3 1021.6C428.2 1019.6 429.7 1017.0 430.8 1016.6C431.9 1016.2 433.7 1017.7 435.0 1019.1C436.2 1020.5 436.6 1023.7 438.3 1024.9C440.0 1026.2 442.2 1026.0 445.0 1026.6C447.7 1027.1 452.2 1027.7 454.9 1028.2C457.7 1028.8 461.3 1029.1 461.6 1029.9C461.9 1030.7 459.1 1032.7 456.6 1033.2C454.1 1033.8 449.7 1033.5 446.6 1033.2C443.6 1033.0 440.8 1032.4 438.3 1031.6C435.8 1030.7 433.3 1029.9 431.6 1028.2C430.0 1026.6 428.4 1023.5 428.3 1021.6Z" fill="#8BFF00"/>
<path d="M430.0 1019.1C430.1 1018.0 431.6 1016.2 432.5 1016.6C433.3 1017.0 434.1 1019.9 435.0 1021.6C435.8 1023.2 437.5 1025.7 437.5 1026.6C437.5 1027.4 435.9 1027.1 435.0 1026.6C434.0 1026.0 432.5 1024.5 431.6 1023.2C430.8 1022.0 429.8 1020.2 430.0 1019.1Z" fill="#E8FF00"/>
<path d="M416.6 1076.5C417.7 1074.2 426.9 1077.1 431.6 1077.4C436.3 1077.7 440.5 1077.8 445.0 1078.2C449.4 1078.6 454.1 1079.0 458.3 1079.9C462.4 1080.7 466.6 1081.8 469.9 1083.2C473.3 1084.6 475.8 1086.3 478.3 1088.2C480.8 1090.1 482.7 1092.4 484.9 1094.9C487.1 1097.4 489.4 1100.4 491.6 1103.2C493.8 1106.0 496.7 1108.5 498.3 1111.5C499.8 1114.6 500.7 1118.7 500.7 1121.5C500.7 1124.3 499.2 1126.0 498.3 1128.2C497.3 1130.4 495.8 1132.1 494.9 1134.8C494.1 1137.6 498.0 1145.9 493.3 1144.8C488.5 1143.7 475.2 1134.0 466.6 1128.2C458.0 1122.3 448.6 1116.0 441.6 1109.9C434.7 1103.7 429.1 1097.1 425.0 1091.5C420.8 1086.0 415.5 1078.9 416.6 1076.5Z" fill="#005DFF"/>
<path d="M435.0 1094.9C435.2 1093.2 438.3 1091.5 440.0 1091.5C441.6 1091.5 443.4 1093.2 445.0 1094.9C446.5 1096.5 448.1 1099.0 449.1 1101.5C450.1 1104.0 451.5 1109.0 450.8 1109.9C450.1 1110.7 447.0 1107.9 445.0 1106.5C442.9 1105.1 440.0 1103.5 438.3 1101.5C436.6 1099.6 434.7 1096.5 435.0 1094.9Z" fill="#0000FF"/>
<path d="M587.4 1114.9C587.8 1114.4 588.9 1115.1 589.9 1116.5C590.8 1117.9 593.0 1121.8 593.2 1123.2C593.3 1124.6 591.7 1125.5 590.7 1124.8C589.7 1124.2 587.9 1120.7 587.4 1119.0C586.8 1117.4 586.9 1115.3 587.4 1114.9Z" fill="#00B9FF"/>
<path d="M528.2 1149.3C514.1 1150.4 532.4 1153.8 534.9 1156.0C537.4 1158.2 539.9 1160.9 543.2 1162.7C546.6 1164.5 551.0 1166.0 554.9 1166.8C558.8 1167.7 562.9 1167.4 566.5 1167.7C570.1 1167.9 574.3 1166.8 576.5 1168.5C578.8 1170.2 578.2 1174.7 579.9 1177.6C581.5 1180.6 583.7 1183.2 586.5 1186.0C589.3 1188.8 593.5 1191.5 596.5 1194.3C599.6 1197.1 602.6 1199.3 604.8 1202.6C607.1 1206.0 607.9 1211.0 609.8 1214.3C611.8 1217.6 613.7 1220.1 616.5 1222.6C619.3 1225.1 623.4 1227.3 626.5 1229.3C629.6 1231.2 632.5 1232.8 634.8 1234.3C637.2 1235.8 639.5 1239.6 640.7 1238.4C641.8 1237.3 640.8 1231.6 641.5 1227.6C642.2 1223.6 643.8 1218.7 644.8 1214.3C645.8 1209.8 647.3 1205.4 647.3 1201.0C647.3 1196.5 647.7 1193.7 644.8 1187.6C641.9 1181.5 634.0 1170.7 629.8 1164.3C625.7 1157.9 636.8 1151.8 619.8 1149.3C602.9 1146.8 542.4 1148.2 528.2 1149.3Z" fill="#00FFE8"/>
<path d="M614.8 1149.3C615.1 1147.7 618.7 1146.8 621.5 1149.3C624.3 1151.8 630.9 1161.5 631.5 1164.3C632.1 1167.1 626.8 1166.8 624.8 1166.0C622.9 1165.2 621.5 1162.1 619.8 1159.3C618.2 1156.6 614.6 1151.0 614.8 1149.3Z" fill="#00FF8B"/>
<path d="M516.6 1179.3C511.6 1171.0 524.6 1182.9 528.2 1184.3C531.8 1185.7 534.9 1186.9 538.2 1187.6C541.6 1188.3 545.2 1188.9 548.2 1188.5C551.3 1188.1 553.8 1185.7 556.5 1185.1C559.3 1184.6 562.1 1184.4 564.9 1185.1C567.6 1185.8 570.4 1187.5 573.2 1189.3C576.0 1191.1 578.8 1193.7 581.5 1196.0C584.3 1198.2 587.6 1200.1 589.9 1202.6C592.1 1205.1 593.7 1208.2 594.9 1211.0C596.0 1213.7 596.8 1216.5 596.5 1219.3C596.2 1222.1 594.0 1224.3 593.2 1227.6C592.4 1230.9 590.7 1236.5 591.5 1239.3C592.4 1242.1 595.4 1242.9 598.2 1244.3C601.0 1245.7 604.8 1246.2 608.2 1247.6C611.5 1249.0 615.1 1250.4 618.2 1252.6C621.2 1254.8 624.0 1257.9 626.5 1260.9C629.0 1264.0 630.9 1268.1 633.2 1270.9C635.4 1273.7 637.0 1275.9 639.8 1277.6C642.6 1279.2 646.5 1280.1 649.8 1280.9C653.1 1281.7 656.5 1281.5 659.8 1282.6C663.1 1283.7 666.7 1285.6 669.8 1287.6C672.9 1289.5 675.1 1292.0 678.1 1294.2C681.2 1296.5 683.7 1288.7 688.1 1300.9C692.6 1313.1 705.6 1349.5 704.8 1367.5C703.9 1385.6 699.2 1405.0 683.1 1409.2C667.0 1413.3 624.0 1407.8 608.2 1392.5C592.4 1377.2 596.5 1343.9 588.2 1317.6C579.9 1291.2 570.1 1257.3 558.2 1234.3C546.3 1211.2 521.6 1187.6 516.6 1179.3Z" fill="#005DFF"/>
<path d="M548.2 1206.0C548.5 1203.0 553.8 1202.8 556.5 1201.8C559.3 1200.8 562.8 1199.7 564.9 1200.1C567.0 1200.6 568.8 1202.2 569.0 1204.3C569.3 1206.4 567.4 1209.8 566.5 1212.6C565.7 1215.4 564.0 1217.9 564.0 1221.0C564.0 1224.0 565.4 1226.8 566.5 1230.9C567.6 1235.1 571.5 1245.7 570.7 1245.9C569.9 1246.2 564.2 1237.1 561.5 1232.6C558.9 1228.2 557.1 1223.7 554.9 1219.3C552.7 1214.8 547.9 1208.9 548.2 1206.0Z" fill="#0000FF"/>
<path d="M597.4 1344.2C598.3 1339.9 602.2 1341.7 604.8 1341.7C607.5 1341.7 610.4 1343.0 613.2 1344.2C616.0 1345.5 620.7 1347.3 621.5 1349.2C622.3 1351.1 620.1 1353.6 618.2 1355.9C616.2 1358.1 612.3 1360.0 609.8 1362.5C607.3 1365.0 605.0 1370.0 603.2 1370.9C601.4 1371.7 600.0 1372.0 599.0 1367.5C598.0 1363.1 596.4 1348.5 597.4 1344.2Z" fill="#0000FF"/>
<path d="M678.1 1264.3C678.5 1262.9 681.5 1261.2 682.3 1262.6C683.1 1264.0 683.5 1271.2 683.1 1272.6C682.7 1274.0 680.6 1272.3 679.8 1270.9C679.0 1269.5 677.7 1265.6 678.1 1264.3Z" fill="#00FFE8"/>
<path d="M647.3 1390.8C647.7 1390.0 650.5 1388.8 651.5 1389.2C652.5 1389.6 653.6 1392.5 653.1 1393.3C652.7 1394.2 650.0 1394.6 649.0 1394.2C648.0 1393.8 646.9 1391.7 647.3 1390.8Z" fill="#00B9FF"/>
</g></g></g>
<clipPath id="cp8"><path d="M753.3 917.5C756.9 917.2 762.2 917.4 766.6 918.3C771.1 919.3 775.5 921.4 780.0 923.3C784.4 925.3 789.1 927.5 793.3 930.0C797.4 932.5 801.3 935.3 804.9 938.3C808.6 941.4 811.9 944.4 814.9 948.3C818.0 952.2 820.8 957.2 823.3 961.6C825.8 966.1 827.7 970.5 829.9 975.0C832.1 979.4 834.4 983.6 836.6 988.3C838.8 993.0 841.0 998.6 843.3 1003.3C845.5 1008.0 847.4 1012.7 849.9 1016.6C852.4 1020.5 854.9 1023.5 858.2 1026.6C861.6 1029.6 866.3 1032.1 869.9 1034.9C873.5 1037.7 876.8 1040.2 879.9 1043.2C882.9 1046.3 885.4 1049.6 888.2 1053.2C891.0 1056.8 893.8 1061.0 896.5 1064.9C899.3 1068.8 902.1 1072.4 904.9 1076.6C907.7 1080.7 910.4 1085.4 913.2 1089.9C916.0 1094.3 918.8 1098.8 921.5 1103.2C924.3 1107.6 926.8 1111.8 929.9 1116.5C932.9 1121.2 936.5 1126.5 939.9 1131.5C943.2 1136.5 946.5 1141.8 949.8 1146.5C953.2 1151.2 957.3 1156.6 959.8 1159.8C962.3 1163.1 962.3 1162.7 964.8 1166.0C967.3 1169.2 971.2 1174.6 974.8 1179.3C978.4 1184.0 982.6 1189.3 986.5 1194.3C990.4 1199.3 994.5 1204.6 998.1 1209.3C1001.8 1214.0 1005.4 1217.9 1008.1 1222.6C1010.9 1227.3 1013.0 1232.3 1014.8 1237.6C1016.6 1242.9 1017.9 1248.4 1019.0 1254.3C1020.1 1260.1 1020.6 1266.5 1021.5 1272.6C1022.3 1278.7 1023.1 1284.8 1024.0 1290.9C1024.8 1297.0 1025.4 1303.1 1026.5 1309.2C1027.6 1315.3 1029.4 1321.4 1030.6 1327.6C1031.9 1333.7 1033.1 1340.0 1034.0 1345.9C1034.8 1351.7 1035.8 1357.0 1035.6 1362.5C1035.5 1368.1 1034.4 1374.5 1033.1 1379.2C1031.9 1383.9 1030.3 1387.8 1028.1 1390.8C1025.9 1393.9 1023.4 1396.1 1019.8 1397.5C1016.2 1398.9 1011.2 1399.5 1006.5 1399.2C1001.8 1398.9 996.5 1397.2 991.5 1395.8C986.5 1394.5 981.5 1392.5 976.5 1390.8C971.5 1389.2 965.7 1388.1 961.5 1385.8C957.3 1383.6 954.0 1380.9 951.5 1377.5C949.0 1374.2 947.6 1370.3 946.5 1365.9C945.4 1361.4 945.3 1356.1 944.9 1350.9C944.4 1345.6 944.6 1339.8 944.0 1334.2C943.5 1328.7 942.6 1323.1 941.5 1317.6C940.4 1312.0 939.2 1306.2 937.4 1300.9C935.6 1295.6 933.1 1290.9 930.7 1285.9C928.3 1280.9 925.8 1275.9 923.2 1270.9C920.6 1265.9 917.6 1260.9 914.9 1255.9C912.1 1250.9 909.6 1245.7 906.5 1240.9C903.5 1236.2 900.2 1231.8 896.5 1227.6C892.9 1223.5 889.1 1219.8 884.9 1216.0C880.7 1212.1 875.7 1208.2 871.6 1204.3C867.4 1200.4 863.0 1196.8 859.9 1192.6C856.9 1188.5 855.5 1183.8 853.2 1179.3C851.0 1174.9 848.5 1169.5 846.6 1166.0C844.6 1162.5 844.1 1160.9 841.6 1158.2C839.1 1155.5 835.5 1152.9 831.6 1149.8C827.7 1146.8 822.7 1143.2 818.3 1139.8C813.8 1136.5 809.4 1133.2 804.9 1129.9C800.5 1126.5 795.8 1123.5 791.6 1119.9C787.5 1116.3 783.6 1112.1 780.0 1108.2C776.4 1104.3 773.0 1100.7 770.0 1096.5C766.9 1092.4 764.1 1087.7 761.6 1083.2C759.1 1078.8 756.8 1074.3 755.0 1069.9C753.2 1065.5 752.1 1061.3 750.8 1056.6C749.6 1051.8 748.6 1046.6 747.5 1041.6C746.4 1036.6 745.4 1031.0 744.2 1026.6C742.9 1022.1 741.5 1018.8 740.0 1014.9C738.5 1011.0 736.8 1007.4 735.0 1003.3C733.2 999.1 731.0 994.4 729.2 989.9C727.4 985.5 725.3 981.1 724.2 976.6C723.1 972.2 722.2 967.7 722.5 963.3C722.8 958.9 724.3 954.1 725.8 950.0C727.4 945.8 729.6 942.2 731.7 938.3C733.7 934.4 736.1 929.7 738.3 926.7C740.5 923.6 742.5 921.5 745.0 920.0C747.5 918.5 749.7 917.8 753.3 917.5Z"/></clipPath>
<g filter="url(#bl)"><g clip-path="url(#cp8)">
<path d="M753.3 917.5C756.9 917.2 762.2 917.4 766.6 918.3C771.1 919.3 775.5 921.4 780.0 923.3C784.4 925.3 789.1 927.5 793.3 930.0C797.4 932.5 801.3 935.3 804.9 938.3C808.6 941.4 811.9 944.4 814.9 948.3C818.0 952.2 820.8 957.2 823.3 961.6C825.8 966.1 827.7 970.5 829.9 975.0C832.1 979.4 834.4 983.6 836.6 988.3C838.8 993.0 841.0 998.6 843.3 1003.3C845.5 1008.0 847.4 1012.7 849.9 1016.6C852.4 1020.5 854.9 1023.5 858.2 1026.6C861.6 1029.6 866.3 1032.1 869.9 1034.9C873.5 1037.7 876.8 1040.2 879.9 1043.2C882.9 1046.3 885.4 1049.6 888.2 1053.2C891.0 1056.8 893.8 1061.0 896.5 1064.9C899.3 1068.8 902.1 1072.4 904.9 1076.6C907.7 1080.7 910.4 1085.4 913.2 1089.9C916.0 1094.3 918.8 1098.8 921.5 1103.2C924.3 1107.6 926.8 1111.8 929.9 1116.5C932.9 1121.2 936.5 1126.5 939.9 1131.5C943.2 1136.5 946.5 1141.8 949.8 1146.5C953.2 1151.2 957.3 1156.6 959.8 1159.8C962.3 1163.1 962.3 1162.7 964.8 1166.0C967.3 1169.2 971.2 1174.6 974.8 1179.3C978.4 1184.0 982.6 1189.3 986.5 1194.3C990.4 1199.3 994.5 1204.6 998.1 1209.3C1001.8 1214.0 1005.4 1217.9 1008.1 1222.6C1010.9 1227.3 1013.0 1232.3 1014.8 1237.6C1016.6 1242.9 1017.9 1248.4 1019.0 1254.3C1020.1 1260.1 1020.6 1266.5 1021.5 1272.6C1022.3 1278.7 1023.1 1284.8 1024.0 1290.9C1024.8 1297.0 1025.4 1303.1 1026.5 1309.2C1027.6 1315.3 1029.4 1321.4 1030.6 1327.6C1031.9 1333.7 1033.1 1340.0 1034.0 1345.9C1034.8 1351.7 1035.8 1357.0 1035.6 1362.5C1035.5 1368.1 1034.4 1374.5 1033.1 1379.2C1031.9 1383.9 1030.3 1387.8 1028.1 1390.8C1025.9 1393.9 1023.4 1396.1 1019.8 1397.5C1016.2 1398.9 1011.2 1399.5 1006.5 1399.2C1001.8 1398.9 996.5 1397.2 991.5 1395.8C986.5 1394.5 981.5 1392.5 976.5 1390.8C971.5 1389.2 965.7 1388.1 961.5 1385.8C957.3 1383.6 954.0 1380.9 951.5 1377.5C949.0 1374.2 947.6 1370.3 946.5 1365.9C945.4 1361.4 945.3 1356.1 944.9 1350.9C944.4 1345.6 944.6 1339.8 944.0 1334.2C943.5 1328.7 942.6 1323.1 941.5 1317.6C940.4 1312.0 939.2 1306.2 937.4 1300.9C935.6 1295.6 933.1 1290.9 930.7 1285.9C928.3 1280.9 925.8 1275.9 923.2 1270.9C920.6 1265.9 917.6 1260.9 914.9 1255.9C912.1 1250.9 909.6 1245.7 906.5 1240.9C903.5 1236.2 900.2 1231.8 896.5 1227.6C892.9 1223.5 889.1 1219.8 884.9 1216.0C880.7 1212.1 875.7 1208.2 871.6 1204.3C867.4 1200.4 863.0 1196.8 859.9 1192.6C856.9 1188.5 855.5 1183.8 853.2 1179.3C851.0 1174.9 848.5 1169.5 846.6 1166.0C844.6 1162.5 844.1 1160.9 841.6 1158.2C839.1 1155.5 835.5 1152.9 831.6 1149.8C827.7 1146.8 822.7 1143.2 818.3 1139.8C813.8 1136.5 809.4 1133.2 804.9 1129.9C800.5 1126.5 795.8 1123.5 791.6 1119.9C787.5 1116.3 783.6 1112.1 780.0 1108.2C776.4 1104.3 773.0 1100.7 770.0 1096.5C766.9 1092.4 764.1 1087.7 761.6 1083.2C759.1 1078.8 756.8 1074.3 755.0 1069.9C753.2 1065.5 752.1 1061.3 750.8 1056.6C749.6 1051.8 748.6 1046.6 747.5 1041.6C746.4 1036.6 745.4 1031.0 744.2 1026.6C742.9 1022.1 741.5 1018.8 740.0 1014.9C738.5 1011.0 736.8 1007.4 735.0 1003.3C733.2 999.1 731.0 994.4 729.2 989.9C727.4 985.5 725.3 981.1 724.2 976.6C723.1 972.2 722.2 967.7 722.5 963.3C722.8 958.9 724.3 954.1 725.8 950.0C727.4 945.8 729.6 942.2 731.7 938.3C733.7 934.4 736.1 929.7 738.3 926.7C740.5 923.6 742.5 921.5 745.0 920.0C747.5 918.5 749.7 917.8 753.3 917.5Z" fill="#00B9FF"/>
<g>
<path d="M716.7 1003.3C719.7 1017.2 733.0 1007.7 738.3 1009.9C743.6 1012.2 745.0 1015.2 748.3 1016.6C751.6 1018.0 755.0 1017.7 758.3 1018.3C761.6 1018.8 765.2 1019.4 768.3 1019.9C771.4 1020.5 774.1 1021.6 776.6 1021.6C779.1 1021.6 781.3 1021.0 783.3 1019.9C785.2 1018.8 786.6 1017.2 788.3 1014.9C790.0 1012.7 791.6 1009.4 793.3 1006.6C795.0 1003.8 796.3 1001.1 798.3 998.3C800.2 995.5 803.0 991.8 804.9 989.9C806.9 988.1 808.0 987.2 809.9 987.4C811.9 987.7 814.9 989.5 816.6 991.6C818.3 993.7 818.5 997.2 819.9 999.9C821.3 1002.7 822.7 1006.0 824.9 1008.3C827.2 1010.5 830.5 1011.6 833.3 1013.3C836.0 1014.9 838.3 1016.6 841.6 1018.3C844.9 1019.9 854.1 1033.0 853.2 1023.3C852.4 1013.5 844.9 977.5 836.6 960.0C828.3 942.5 817.2 927.2 803.3 918.3C789.4 909.4 767.2 905.3 753.3 906.7C739.4 908.1 726.1 910.6 720.0 926.7C713.9 942.8 713.6 989.4 716.7 1003.3Z" fill="#005DFF"/>
<path d="M720.0 960.0C719.3 966.1 722.2 972.7 724.2 976.6C726.1 980.5 728.7 981.6 731.7 983.3C734.6 985.0 738.6 985.0 741.7 986.6C744.7 988.3 746.6 992.0 750.0 993.3C753.3 994.5 758.0 994.7 761.6 994.1C765.2 993.6 768.9 992.0 771.6 989.9C774.4 987.9 776.4 984.4 778.3 981.6C780.2 978.8 782.0 976.1 783.3 973.3C784.5 970.5 785.9 967.7 785.8 965.0C785.7 962.2 783.7 959.1 782.5 956.6C781.2 954.1 779.0 952.5 778.3 950.0C777.6 947.5 777.5 944.4 778.3 941.6C779.1 938.9 782.2 935.8 783.3 933.3C784.4 930.8 787.2 929.4 785.0 926.7C782.7 923.9 775.2 918.9 770.0 916.7C764.7 914.4 758.0 913.1 753.3 913.3C748.6 913.6 745.8 913.9 741.7 918.3C737.5 922.8 731.9 933.0 728.3 940.0C724.7 946.9 720.7 953.9 720.0 960.0Z" fill="#0000FF"/>
<path d="M720.0 951.6C719.2 949.2 725.3 938.7 728.3 935.0C731.4 931.2 735.3 930.0 738.3 929.2C741.4 928.3 744.2 930.2 746.6 930.0C749.1 929.8 751.2 928.4 753.3 928.0C755.4 927.6 757.2 926.6 759.1 927.5C761.1 928.4 762.9 931.2 765.0 933.3C767.1 935.4 770.7 937.6 771.6 940.0C772.6 942.3 773.0 945.9 770.8 947.5C768.6 949.0 762.6 948.7 758.3 949.1C754.0 949.6 749.1 949.9 745.0 950.0C740.8 950.1 737.5 949.4 733.3 949.6C729.2 949.9 720.8 954.1 720.0 951.6Z" fill="#005DFF"/>
<path d="M828.3 973.3C829.9 975.0 833.8 981.6 836.6 986.6C839.4 991.6 844.4 1001.1 844.9 1003.3C845.5 1005.5 841.9 1002.7 839.9 999.9C838.0 997.2 835.5 990.5 833.3 986.6C831.0 982.7 827.4 978.8 826.6 976.6C825.8 974.4 826.6 971.6 828.3 973.3Z" fill="#0000FF"/>
<path d="M796.6 956.6C795.5 954.4 796.6 953.9 798.3 955.8C799.9 957.7 805.5 966.1 806.6 968.3C807.7 970.5 806.6 971.1 804.9 969.1C803.3 967.2 797.7 958.9 796.6 956.6Z" fill="#00B9FF"/>
<path d="M859.1 1029.9C860.2 1029.2 863.9 1031.7 866.6 1033.3C869.2 1034.8 872.5 1037.1 874.9 1039.1C877.3 1041.0 879.9 1043.1 880.7 1044.9C881.6 1046.7 881.1 1049.4 879.9 1049.9C878.6 1050.5 875.7 1049.4 873.2 1048.2C870.7 1047.1 867.1 1045.0 864.9 1043.2C862.7 1041.4 860.9 1039.6 859.9 1037.4C858.9 1035.2 858.0 1030.6 859.1 1029.9Z" fill="#005DFF"/>
<path d="M741.7 1018.3C742.9 1016.6 747.2 1016.0 750.0 1016.6C752.8 1017.2 755.3 1020.2 758.3 1021.6C761.4 1023.0 765.0 1023.8 768.3 1024.9C771.6 1026.0 775.2 1028.0 778.3 1028.3C781.3 1028.5 783.8 1027.1 786.6 1026.6C789.4 1026.0 792.7 1026.0 795.0 1024.9C797.2 1023.8 798.0 1021.2 799.9 1019.9C801.9 1018.7 804.1 1017.7 806.6 1017.4C809.1 1017.2 812.7 1017.0 814.9 1018.3C817.2 1019.5 818.5 1022.1 819.9 1024.9C821.3 1027.7 822.2 1031.6 823.3 1034.9C824.4 1038.2 825.5 1041.9 826.6 1044.9C827.7 1048.0 829.6 1050.7 829.9 1053.2C830.2 1055.7 829.6 1057.7 828.3 1059.9C826.9 1062.1 824.1 1064.6 821.6 1066.6C819.1 1068.5 816.3 1069.9 813.3 1071.6C810.2 1073.2 806.3 1075.2 803.3 1076.6C800.2 1077.9 797.4 1079.1 795.0 1079.9C792.5 1080.7 790.8 1081.8 788.3 1081.6C785.8 1081.3 783.0 1079.6 780.0 1078.2C776.9 1076.8 773.0 1074.6 770.0 1073.2C766.9 1071.8 764.1 1071.3 761.6 1069.9C759.1 1068.5 757.1 1067.1 755.0 1064.9C752.9 1062.7 750.7 1060.5 749.1 1056.6C747.6 1052.7 746.9 1046.6 745.8 1041.6C744.7 1036.6 743.2 1030.5 742.5 1026.6C741.8 1022.7 740.4 1019.9 741.7 1018.3Z" fill="#00FFE8"/>
<path d="M744.2 1023.3C744.6 1020.8 746.5 1021.0 748.3 1021.6C750.1 1022.1 752.5 1025.2 755.0 1026.6C757.5 1028.0 761.4 1028.8 763.3 1029.9C765.2 1031.0 764.4 1033.0 766.6 1033.3C768.9 1033.5 773.3 1032.0 776.6 1031.6C780.0 1031.2 783.6 1030.8 786.6 1030.8C789.7 1030.8 792.7 1032.0 795.0 1031.6C797.2 1031.2 798.0 1028.9 799.9 1028.3C801.9 1027.6 804.7 1026.6 806.6 1027.4C808.6 1028.3 810.2 1030.9 811.6 1033.3C813.0 1035.6 814.1 1038.5 814.9 1041.6C815.8 1044.6 816.6 1048.5 816.6 1051.6C816.6 1054.6 816.3 1058.2 814.9 1059.9C813.5 1061.6 810.5 1060.9 808.3 1061.6C806.1 1062.3 803.8 1064.3 801.6 1064.1C799.4 1063.8 797.4 1061.1 795.0 1059.9C792.5 1058.7 789.4 1057.4 786.6 1056.6C783.8 1055.7 781.1 1055.5 778.3 1054.9C775.5 1054.3 772.3 1054.1 770.0 1053.2C767.6 1052.4 766.1 1050.2 764.1 1049.9C762.2 1049.6 760.1 1051.0 758.3 1051.6C756.5 1052.1 754.8 1053.8 753.3 1053.2C751.8 1052.7 750.4 1051.0 749.1 1048.2C747.9 1045.5 746.6 1040.7 745.8 1036.6C745.0 1032.4 743.7 1025.8 744.2 1023.3Z" fill="#00FF8B"/>
<path d="M766.6 1096.5C766.1 1093.5 778.3 1099.6 783.3 1099.9C788.3 1100.2 792.2 1098.9 796.6 1098.2C801.1 1097.5 805.8 1096.4 809.9 1095.7C814.1 1095.0 818.0 1094.5 821.6 1094.0C825.2 1093.6 828.5 1092.5 831.6 1093.2C834.6 1093.9 837.4 1096.0 839.9 1098.2C842.4 1100.4 844.9 1103.8 846.6 1106.5C848.2 1109.3 849.1 1112.1 849.9 1114.9C850.7 1117.6 851.3 1120.1 851.6 1123.2C851.9 1126.2 850.7 1129.9 851.6 1133.2C852.4 1136.5 854.4 1140.4 856.6 1143.2C858.8 1146.0 862.4 1147.3 864.9 1149.8C867.4 1152.3 870.0 1154.8 871.6 1158.2C873.1 1161.5 878.2 1167.9 874.1 1169.8C869.9 1171.8 855.6 1174.3 846.6 1169.8C837.6 1165.4 829.9 1151.8 819.9 1143.2C809.9 1134.6 795.5 1126.0 786.6 1118.2C777.7 1110.4 767.2 1099.6 766.6 1096.5Z" fill="#005DFF"/>
<path d="M914.9 1088.2C910.7 1084.9 910.7 1094.3 908.2 1096.5C905.7 1098.8 902.1 1099.6 899.9 1101.5C897.7 1103.5 896.0 1105.4 894.9 1108.2C893.8 1111.0 893.8 1114.6 893.2 1118.2C892.7 1121.8 892.1 1126.2 891.6 1129.9C891.0 1133.5 890.4 1137.1 889.9 1139.8C889.3 1142.6 887.9 1143.7 888.2 1146.5C888.5 1149.3 890.2 1152.6 891.6 1156.5C892.9 1160.4 883.5 1167.6 896.5 1169.8C909.6 1172.0 960.4 1173.7 969.8 1169.8C979.3 1165.9 959.3 1155.4 953.2 1146.5C947.1 1137.6 939.6 1126.2 933.2 1116.5C926.8 1106.8 919.0 1091.5 914.9 1088.2Z" fill="#00FFE8"/>
<path d="M914.9 1119.9C914.9 1118.5 917.9 1115.1 919.9 1114.9C921.8 1114.6 924.0 1116.3 926.5 1118.2C929.0 1120.1 932.1 1123.5 934.9 1126.5C937.6 1129.6 940.4 1133.2 943.2 1136.5C946.0 1139.8 951.0 1145.1 951.5 1146.5C952.1 1147.9 949.0 1146.5 946.5 1144.8C944.0 1143.2 939.6 1139.3 936.5 1136.5C933.5 1133.7 931.0 1130.4 928.2 1128.2C925.4 1126.0 922.1 1124.6 919.9 1123.2C917.6 1121.8 914.9 1121.2 914.9 1119.9Z" fill="#00FF8B"/>
<path d="M844.9 1164.3C847.4 1160.2 866.8 1162.7 871.6 1164.3C876.3 1166.0 872.1 1171.0 873.2 1174.3C874.3 1177.7 876.3 1181.0 878.2 1184.3C880.2 1187.7 882.7 1191.3 884.9 1194.3C887.1 1197.4 889.3 1200.4 891.6 1202.6C893.8 1204.9 896.7 1205.4 898.2 1207.6C899.7 1209.9 899.6 1211.5 900.7 1216.0C901.8 1220.4 906.1 1232.6 904.9 1234.3C903.6 1236.0 899.0 1231.0 893.2 1226.0C887.4 1221.0 876.0 1210.4 869.9 1204.3C863.8 1198.2 860.7 1196.0 856.6 1189.3C852.4 1182.7 842.4 1168.5 844.9 1164.3Z" fill="#005DFF"/>
<path d="M858.2 1187.7C858.5 1186.3 863.8 1188.8 866.6 1191.0C869.3 1193.2 871.6 1197.1 874.9 1201.0C878.2 1204.9 886.3 1212.9 886.6 1214.3C886.8 1215.7 880.2 1211.8 876.6 1209.3C873.0 1206.8 868.0 1202.9 864.9 1199.3C861.8 1195.7 858.0 1189.0 858.2 1187.7Z" fill="#0000FF"/>
<path d="M898.2 1164.3C888.5 1165.2 904.0 1167.7 906.5 1169.3C909.0 1171.0 911.8 1171.8 913.2 1174.3C914.6 1176.8 913.5 1181.3 914.9 1184.3C916.3 1187.4 919.3 1189.9 921.5 1192.6C923.8 1195.4 926.5 1198.2 928.2 1201.0C929.9 1203.8 931.8 1206.8 931.5 1209.3C931.2 1211.8 927.6 1214.0 926.5 1216.0C925.4 1217.9 924.0 1219.6 924.9 1221.0C925.7 1222.4 929.0 1224.3 931.5 1224.3C934.0 1224.3 937.6 1222.6 939.9 1221.0C942.1 1219.3 942.9 1216.2 944.9 1214.3C946.8 1212.4 949.3 1210.1 951.5 1209.3C953.7 1208.5 956.6 1211.0 958.2 1209.3C959.7 1207.6 960.1 1203.2 960.7 1199.3C961.2 1195.4 960.5 1189.6 961.5 1186.0C962.5 1182.4 965.1 1179.9 966.5 1177.7C967.9 1175.4 970.1 1174.9 969.8 1172.7C969.6 1170.4 976.8 1165.7 964.8 1164.3C952.9 1162.9 907.9 1163.5 898.2 1164.3Z" fill="#00FFE8"/>
<path d="M989.8 1202.6C991.8 1202.4 996.5 1206.0 999.8 1209.3C1003.1 1212.6 1007.7 1219.3 1009.8 1222.6C1011.9 1226.0 1013.4 1228.2 1012.3 1229.3C1011.2 1230.4 1006.3 1229.0 1003.1 1229.3C1000.0 1229.6 995.4 1232.3 993.2 1231.0C990.9 1229.6 990.7 1224.3 989.8 1221.0C989.0 1217.6 988.2 1214.0 988.2 1211.0C988.2 1207.9 987.9 1202.9 989.8 1202.6Z" fill="#005DFF"/>
<path d="M911.5 1254.3C908.8 1243.6 916.8 1252.5 919.9 1251.8C922.9 1251.1 926.5 1250.2 929.9 1250.1C933.2 1250.0 936.5 1250.8 939.9 1250.9C943.2 1251.1 947.1 1251.4 949.8 1250.9C952.6 1250.5 954.8 1250.1 956.5 1248.4C958.2 1246.8 958.7 1242.8 959.8 1241.0C961.0 1239.1 961.5 1237.6 963.2 1237.6C964.8 1237.6 967.9 1239.3 969.8 1241.0C971.8 1242.6 973.7 1245.1 974.8 1247.6C975.9 1250.1 975.9 1253.2 976.5 1255.9C977.1 1258.7 977.1 1261.8 978.2 1264.3C979.3 1266.8 981.2 1269.3 983.2 1270.9C985.1 1272.6 987.6 1272.9 989.8 1274.3C992.0 1275.6 994.5 1277.3 996.5 1279.3C998.4 1281.2 999.5 1283.7 1001.5 1285.9C1003.4 1288.1 1006.2 1289.8 1008.1 1292.6C1010.1 1295.4 1011.5 1299.5 1013.1 1302.6C1014.8 1305.6 1015.6 1309.8 1018.1 1310.9C1020.6 1312.0 1023.7 1300.1 1028.1 1309.2C1032.6 1318.4 1046.2 1348.1 1044.8 1365.9C1043.4 1383.6 1035.1 1410.3 1019.8 1415.8C1004.5 1421.4 967.1 1415.8 953.2 1399.2C939.3 1382.5 943.5 1340.1 936.5 1315.9C929.6 1291.7 914.3 1265.0 911.5 1254.3Z" fill="#005DFF"/>
<path d="M921.5 1279.3C921.0 1270.1 929.6 1278.0 933.2 1277.6C936.8 1277.2 940.1 1276.5 943.2 1276.8C946.2 1277.0 949.6 1278.0 951.5 1279.3C953.5 1280.5 954.3 1282.0 954.8 1284.3C955.4 1286.5 954.6 1290.1 954.8 1292.6C955.1 1295.1 957.1 1297.6 956.5 1299.2C956.0 1300.9 952.1 1301.2 951.5 1302.6C951.0 1304.0 952.1 1306.5 953.2 1307.6C954.3 1308.7 956.5 1307.6 958.2 1309.2C959.8 1310.9 961.2 1315.1 963.2 1317.6C965.1 1320.1 967.1 1322.0 969.8 1324.2C972.6 1326.4 976.5 1328.7 979.8 1330.9C983.2 1333.1 986.5 1335.6 989.8 1337.6C993.2 1339.5 996.2 1341.2 999.8 1342.5C1003.4 1343.9 1007.6 1345.0 1011.5 1345.9C1015.4 1346.7 1019.0 1346.2 1023.1 1347.5C1027.3 1348.9 1032.8 1348.4 1036.5 1354.2C1040.1 1360.0 1047.6 1372.3 1044.8 1382.5C1042.0 1392.8 1035.1 1413.1 1019.8 1415.8C1004.5 1418.6 967.1 1413.1 953.2 1399.2C939.3 1385.3 941.8 1352.5 936.5 1332.6C931.2 1312.6 922.1 1288.4 921.5 1279.3Z" fill="#0000FF"/>
<path d="M984.8 1390.9C984.4 1389.0 986.5 1385.9 987.3 1384.2C988.2 1382.5 988.8 1380.6 989.8 1380.9C990.8 1381.1 992.0 1384.2 993.2 1385.9C994.3 1387.5 995.8 1389.0 996.5 1390.9C997.2 1392.7 998.4 1396.0 997.3 1396.7C996.2 1397.4 991.9 1396.0 989.8 1395.0C987.7 1394.0 985.2 1392.7 984.8 1390.9Z" fill="#005DFF"/>
<path d="M987.3 1392.5C986.9 1391.5 989.7 1388.1 990.7 1388.4C991.6 1388.6 993.7 1393.5 993.2 1394.2C992.6 1394.9 987.7 1393.5 987.3 1392.5Z" fill="#00B9FF"/>
<path d="M1019.8 1264.3C1020.2 1262.9 1022.6 1264.0 1023.1 1265.9C1023.7 1267.9 1023.5 1274.5 1023.1 1275.9C1022.7 1277.3 1021.2 1276.2 1020.6 1274.3C1020.1 1272.3 1019.4 1265.7 1019.8 1264.3Z" fill="#00FFE8"/>
</g></g></g>
<clipPath id="cp9"><path d="M1128.3 915.8C1131.9 915.7 1137.2 916.2 1141.6 917.5C1146.1 918.7 1150.8 921.4 1155.0 923.3C1159.1 925.3 1163.0 926.7 1166.6 929.2C1170.2 931.6 1173.3 934.8 1176.6 938.3C1179.9 941.8 1183.5 945.8 1186.6 950.0C1189.7 954.1 1192.2 958.9 1194.9 963.3C1197.7 967.7 1200.5 971.9 1203.3 976.6C1206.0 981.3 1209.1 987.2 1211.6 991.6C1214.1 996.1 1216.0 999.7 1218.2 1003.3C1220.5 1006.9 1222.4 1010.2 1224.9 1013.3C1227.4 1016.3 1229.9 1019.1 1233.2 1021.6C1236.6 1024.1 1241.6 1025.8 1244.9 1028.3C1248.2 1030.7 1250.4 1033.2 1253.2 1036.6C1256.0 1039.9 1258.8 1044.1 1261.6 1048.2C1264.3 1052.4 1267.1 1057.1 1269.9 1061.6C1272.7 1066.0 1275.4 1070.4 1278.2 1074.9C1281.0 1079.3 1283.5 1083.5 1286.5 1088.2C1289.6 1092.9 1293.2 1098.2 1296.5 1103.2C1299.9 1108.2 1303.2 1113.2 1306.5 1118.2C1309.9 1123.2 1313.2 1128.2 1316.5 1133.2C1319.8 1138.2 1323.5 1143.5 1326.5 1148.2C1329.6 1152.8 1331.8 1156.6 1334.8 1161.0C1337.9 1165.4 1341.2 1169.6 1344.8 1174.3C1348.4 1179.0 1352.6 1184.3 1356.5 1189.3C1360.4 1194.3 1364.5 1199.3 1368.1 1204.3C1371.8 1209.3 1375.2 1214.3 1378.1 1219.3C1381.1 1224.3 1383.7 1229.3 1385.6 1234.3C1387.6 1239.3 1388.7 1244.0 1389.8 1249.3C1390.9 1254.5 1391.6 1260.4 1392.3 1265.9C1393.0 1271.5 1393.3 1277.0 1394.0 1282.6C1394.7 1288.1 1395.4 1293.7 1396.5 1299.2C1397.6 1304.8 1399.2 1310.3 1400.6 1315.9C1402.0 1321.4 1403.7 1327.0 1404.8 1332.5C1405.9 1338.1 1407.1 1343.7 1407.3 1349.2C1407.4 1354.8 1406.7 1360.9 1405.6 1365.9C1404.5 1370.9 1403.0 1375.9 1400.6 1379.2C1398.3 1382.5 1395.2 1384.5 1391.5 1385.8C1387.7 1387.2 1382.9 1387.8 1378.1 1387.5C1373.4 1387.2 1368.1 1385.6 1363.2 1384.2C1358.2 1382.8 1353.2 1380.8 1348.2 1379.2C1343.2 1377.5 1337.6 1376.1 1333.2 1374.2C1328.7 1372.2 1324.4 1370.3 1321.5 1367.5C1318.6 1364.7 1316.9 1361.4 1315.7 1357.5C1314.4 1353.6 1314.2 1348.9 1314.0 1344.2C1313.9 1339.5 1315.0 1334.2 1314.9 1329.2C1314.7 1324.2 1314.0 1319.2 1313.2 1314.2C1312.4 1309.2 1311.2 1304.2 1309.9 1299.2C1308.5 1294.2 1306.8 1289.0 1304.9 1284.2C1302.9 1279.5 1300.7 1275.6 1298.2 1270.9C1295.7 1266.2 1292.6 1260.9 1289.9 1255.9C1287.1 1250.9 1284.3 1245.7 1281.5 1240.9C1278.8 1236.2 1276.3 1231.8 1273.2 1227.6C1270.2 1223.5 1266.8 1219.6 1263.2 1216.0C1259.6 1212.4 1255.4 1209.3 1251.6 1206.0C1247.7 1202.6 1243.2 1199.3 1239.9 1196.0C1236.6 1192.6 1234.1 1189.6 1231.6 1186.0C1229.1 1182.4 1227.4 1178.5 1224.9 1174.3C1222.4 1170.2 1219.1 1164.5 1216.6 1161.0C1214.1 1157.5 1212.7 1155.9 1209.9 1153.2C1207.1 1150.5 1203.5 1147.6 1199.9 1144.8C1196.3 1142.1 1192.4 1139.6 1188.3 1136.5C1184.1 1133.5 1179.4 1129.6 1174.9 1126.5C1170.5 1123.5 1165.8 1121.2 1161.6 1118.2C1157.5 1115.1 1153.6 1111.5 1150.0 1108.2C1146.4 1104.9 1143.0 1101.8 1140.0 1098.2C1136.9 1094.6 1134.0 1090.7 1131.6 1086.5C1129.3 1082.4 1127.6 1077.9 1125.8 1073.2C1124.0 1068.5 1122.2 1063.2 1120.8 1058.2C1119.4 1053.2 1118.6 1048.2 1117.5 1043.2C1116.4 1038.2 1115.3 1033.2 1114.2 1028.3C1113.0 1023.3 1112.1 1018.0 1110.8 1013.3C1109.6 1008.5 1108.2 1004.1 1106.7 999.9C1105.1 995.8 1103.2 992.4 1101.7 988.3C1100.1 984.1 1098.3 979.4 1097.5 975.0C1096.7 970.5 1096.2 966.1 1096.7 961.6C1097.1 957.2 1098.3 952.5 1100.0 948.3C1101.7 944.1 1104.4 940.5 1106.7 936.6C1108.9 932.8 1111.1 928.0 1113.3 925.0C1115.5 921.9 1117.5 919.9 1120.0 918.3C1122.5 916.8 1124.7 916.0 1128.3 915.8Z"/></clipPath>
<g filter="url(#bl)"><g clip-path="url(#cp9)">
<path d="M1128.3 915.8C1131.9 915.7 1137.2 916.2 1141.6 917.5C1146.1 918.7 1150.8 921.4 1155.0 923.3C1159.1 925.3 1163.0 926.7 1166.6 929.2C1170.2 931.6 1173.3 934.8 1176.6 938.3C1179.9 941.8 1183.5 945.8 1186.6 950.0C1189.7 954.1 1192.2 958.9 1194.9 963.3C1197.7 967.7 1200.5 971.9 1203.3 976.6C1206.0 981.3 1209.1 987.2 1211.6 991.6C1214.1 996.1 1216.0 999.7 1218.2 1003.3C1220.5 1006.9 1222.4 1010.2 1224.9 1013.3C1227.4 1016.3 1229.9 1019.1 1233.2 1021.6C1236.6 1024.1 1241.6 1025.8 1244.9 1028.3C1248.2 1030.7 1250.4 1033.2 1253.2 1036.6C1256.0 1039.9 1258.8 1044.1 1261.6 1048.2C1264.3 1052.4 1267.1 1057.1 1269.9 1061.6C1272.7 1066.0 1275.4 1070.4 1278.2 1074.9C1281.0 1079.3 1283.5 1083.5 1286.5 1088.2C1289.6 1092.9 1293.2 1098.2 1296.5 1103.2C1299.9 1108.2 1303.2 1113.2 1306.5 1118.2C1309.9 1123.2 1313.2 1128.2 1316.5 1133.2C1319.8 1138.2 1323.5 1143.5 1326.5 1148.2C1329.6 1152.8 1331.8 1156.6 1334.8 1161.0C1337.9 1165.4 1341.2 1169.6 1344.8 1174.3C1348.4 1179.0 1352.6 1184.3 1356.5 1189.3C1360.4 1194.3 1364.5 1199.3 1368.1 1204.3C1371.8 1209.3 1375.2 1214.3 1378.1 1219.3C1381.1 1224.3 1383.7 1229.3 1385.6 1234.3C1387.6 1239.3 1388.7 1244.0 1389.8 1249.3C1390.9 1254.5 1391.6 1260.4 1392.3 1265.9C1393.0 1271.5 1393.3 1277.0 1394.0 1282.6C1394.7 1288.1 1395.4 1293.7 1396.5 1299.2C1397.6 1304.8 1399.2 1310.3 1400.6 1315.9C1402.0 1321.4 1403.7 1327.0 1404.8 1332.5C1405.9 1338.1 1407.1 1343.7 1407.3 1349.2C1407.4 1354.8 1406.7 1360.9 1405.6 1365.9C1404.5 1370.9 1403.0 1375.9 1400.6 1379.2C1398.3 1382.5 1395.2 1384.5 1391.5 1385.8C1387.7 1387.2 1382.9 1387.8 1378.1 1387.5C1373.4 1387.2 1368.1 1385.6 1363.2 1384.2C1358.2 1382.8 1353.2 1380.8 1348.2 1379.2C1343.2 1377.5 1337.6 1376.1 1333.2 1374.2C1328.7 1372.2 1324.4 1370.3 1321.5 1367.5C1318.6 1364.7 1316.9 1361.4 1315.7 1357.5C1314.4 1353.6 1314.2 1348.9 1314.0 1344.2C1313.9 1339.5 1315.0 1334.2 1314.9 1329.2C1314.7 1324.2 1314.0 1319.2 1313.2 1314.2C1312.4 1309.2 1311.2 1304.2 1309.9 1299.2C1308.5 1294.2 1306.8 1289.0 1304.9 1284.2C1302.9 1279.5 1300.7 1275.6 1298.2 1270.9C1295.7 1266.2 1292.6 1260.9 1289.9 1255.9C1287.1 1250.9 1284.3 1245.7 1281.5 1240.9C1278.8 1236.2 1276.3 1231.8 1273.2 1227.6C1270.2 1223.5 1266.8 1219.6 1263.2 1216.0C1259.6 1212.4 1255.4 1209.3 1251.6 1206.0C1247.7 1202.6 1243.2 1199.3 1239.9 1196.0C1236.6 1192.6 1234.1 1189.6 1231.6 1186.0C1229.1 1182.4 1227.4 1178.5 1224.9 1174.3C1222.4 1170.2 1219.1 1164.5 1216.6 1161.0C1214.1 1157.5 1212.7 1155.9 1209.9 1153.2C1207.1 1150.5 1203.5 1147.6 1199.9 1144.8C1196.3 1142.1 1192.4 1139.6 1188.3 1136.5C1184.1 1133.5 1179.4 1129.6 1174.9 1126.5C1170.5 1123.5 1165.8 1121.2 1161.6 1118.2C1157.5 1115.1 1153.6 1111.5 1150.0 1108.2C1146.4 1104.9 1143.0 1101.8 1140.0 1098.2C1136.9 1094.6 1134.0 1090.7 1131.6 1086.5C1129.3 1082.4 1127.6 1077.9 1125.8 1073.2C1124.0 1068.5 1122.2 1063.2 1120.8 1058.2C1119.4 1053.2 1118.6 1048.2 1117.5 1043.2C1116.4 1038.2 1115.3 1033.2 1114.2 1028.3C1113.0 1023.3 1112.1 1018.0 1110.8 1013.3C1109.6 1008.5 1108.2 1004.1 1106.7 999.9C1105.1 995.8 1103.2 992.4 1101.7 988.3C1100.1 984.1 1098.3 979.4 1097.5 975.0C1096.7 970.5 1096.2 966.1 1096.7 961.6C1097.1 957.2 1098.3 952.5 1100.0 948.3C1101.7 944.1 1104.4 940.5 1106.7 936.6C1108.9 932.8 1111.1 928.0 1113.3 925.0C1115.5 921.9 1117.5 919.9 1120.0 918.3C1122.5 916.8 1124.7 916.0 1128.3 915.8Z" fill="#00B9FF"/>
<g>
<path d="M1086.7 1008.3C1090.0 1023.3 1104.4 1010.9 1110.0 1011.6C1115.5 1012.3 1116.4 1012.2 1120.0 1012.4C1123.6 1012.7 1128.0 1012.6 1131.6 1013.3C1135.2 1014.0 1138.6 1015.8 1141.6 1016.6C1144.7 1017.4 1147.2 1018.8 1150.0 1018.3C1152.7 1017.7 1155.5 1014.9 1158.3 1013.3C1161.1 1011.6 1164.4 1009.9 1166.6 1008.3C1168.8 1006.6 1169.9 1005.2 1171.6 1003.3C1173.3 1001.3 1175.1 996.6 1176.6 996.6C1178.1 996.6 1179.1 1001.3 1180.8 1003.3C1182.4 1005.2 1184.0 1007.3 1186.6 1008.3C1189.2 1009.2 1194.4 1008.0 1196.6 1009.1C1198.8 1010.2 1198.5 1013.1 1199.9 1014.9C1201.3 1016.7 1202.7 1019.1 1204.9 1019.9C1207.1 1020.8 1211.0 1020.5 1213.3 1019.9C1215.5 1019.4 1216.3 1018.3 1218.2 1016.6C1220.2 1014.9 1226.9 1020.2 1224.9 1009.9C1223.0 999.7 1215.2 971.1 1206.6 955.0C1198.0 938.9 1186.3 922.2 1173.3 913.3C1160.2 904.4 1142.2 900.3 1128.3 901.7C1114.4 903.1 1096.9 903.9 1090.0 921.7C1083.1 939.4 1083.3 993.3 1086.7 1008.3Z" fill="#005DFF"/>
<path d="M1090.0 961.6C1089.9 968.0 1095.3 971.8 1097.5 976.6C1099.7 981.5 1101.2 989.4 1103.3 990.8C1105.4 992.2 1107.8 986.3 1110.0 984.9C1112.2 983.6 1114.4 982.7 1116.6 982.4C1118.9 982.2 1121.1 984.0 1123.3 983.3C1125.5 982.6 1128.0 980.2 1130.0 978.3C1131.9 976.3 1133.0 973.8 1135.0 971.6C1136.9 969.4 1139.4 966.9 1141.6 965.0C1143.9 963.0 1145.8 961.6 1148.3 960.0C1150.8 958.3 1154.8 957.2 1156.6 955.0C1158.4 952.7 1159.0 949.7 1159.1 946.6C1159.3 943.6 1158.7 939.1 1157.5 936.6C1156.2 934.1 1153.4 933.3 1151.6 931.6C1149.8 930.0 1147.9 929.2 1146.6 926.7C1145.4 924.2 1147.2 919.4 1144.1 916.7C1141.1 913.9 1133.7 909.7 1128.3 910.0C1122.9 910.3 1116.6 913.6 1111.7 918.3C1106.7 923.0 1101.9 931.1 1098.3 938.3C1094.7 945.5 1090.1 955.2 1090.0 961.6Z" fill="#0000FF"/>
<path d="M1178.3 941.6C1179.7 941.4 1185.2 946.4 1188.3 950.0C1191.3 953.6 1193.8 958.9 1196.6 963.3C1199.4 967.7 1202.4 972.5 1204.9 976.6C1207.4 980.8 1211.6 986.1 1211.6 988.3C1211.6 990.5 1207.1 991.1 1204.9 989.9C1202.7 988.8 1200.8 984.7 1198.3 981.6C1195.8 978.6 1192.4 975.0 1189.9 971.6C1187.4 968.3 1184.9 965.0 1183.3 961.6C1181.6 958.3 1180.8 955.0 1179.9 951.6C1179.1 948.3 1176.9 941.9 1178.3 941.6Z" fill="#0000FF"/>
<path d="M1118.3 1024.9C1119.6 1022.6 1122.5 1019.9 1125.0 1019.1C1127.5 1018.3 1130.5 1019.5 1133.3 1019.9C1136.1 1020.3 1138.9 1020.8 1141.6 1021.6C1144.4 1022.4 1147.5 1024.1 1150.0 1024.9C1152.5 1025.8 1154.4 1026.6 1156.6 1026.6C1158.8 1026.6 1160.8 1025.3 1163.3 1024.9C1165.8 1024.5 1169.4 1024.8 1171.6 1024.1C1173.8 1023.4 1174.7 1021.5 1176.6 1020.8C1178.6 1020.1 1181.5 1018.7 1183.3 1019.9C1185.1 1021.2 1186.3 1025.2 1187.4 1028.3C1188.5 1031.3 1189.2 1035.2 1189.9 1038.2C1190.6 1041.3 1191.6 1044.1 1191.6 1046.6C1191.6 1049.1 1191.6 1052.4 1189.9 1053.2C1188.3 1054.1 1184.4 1052.4 1181.6 1051.6C1178.8 1050.7 1176.3 1049.1 1173.3 1048.2C1170.2 1047.4 1166.6 1047.1 1163.3 1046.6C1160.0 1046.0 1156.6 1045.5 1153.3 1044.9C1150.0 1044.4 1146.6 1043.2 1143.3 1043.2C1140.0 1043.2 1136.4 1044.5 1133.3 1044.9C1130.3 1045.3 1127.2 1046.3 1125.0 1045.7C1122.8 1045.2 1121.2 1043.7 1120.0 1041.6C1118.7 1039.5 1117.8 1036.0 1117.5 1033.2C1117.2 1030.5 1117.1 1027.3 1118.3 1024.9Z" fill="#00FFE8"/>
<path d="M1125.8 1029.1C1126.1 1027.7 1128.4 1026.0 1130.0 1025.8C1131.5 1025.5 1133.6 1026.4 1135.0 1027.4C1136.4 1028.4 1136.6 1030.9 1138.3 1031.6C1140.0 1032.3 1142.7 1032.0 1145.0 1031.6C1147.2 1031.2 1149.5 1029.1 1151.6 1029.1C1153.7 1029.1 1156.6 1030.1 1157.5 1031.6C1158.3 1033.1 1157.9 1036.9 1156.6 1038.2C1155.4 1039.6 1152.2 1040.0 1150.0 1039.9C1147.7 1039.8 1145.8 1038.2 1143.3 1037.4C1140.8 1036.6 1137.5 1035.5 1135.0 1034.9C1132.5 1034.4 1129.8 1035.1 1128.3 1034.1C1126.8 1033.1 1125.5 1030.5 1125.8 1029.1Z" fill="#00FF8B"/>
<path d="M1129.1 1028.3C1129.4 1027.4 1131.6 1027.0 1132.5 1027.4C1133.3 1027.8 1134.4 1029.9 1134.1 1030.7C1133.9 1031.6 1131.6 1032.8 1130.8 1032.4C1130.0 1032.0 1128.9 1029.1 1129.1 1028.3Z" fill="#00FF2E"/>
<path d="M1146.6 1033.2C1147.5 1032.3 1150.0 1030.9 1151.6 1030.7C1153.3 1030.6 1155.8 1031.3 1156.6 1032.4C1157.5 1033.5 1157.6 1036.3 1156.6 1037.4C1155.7 1038.5 1152.5 1039.2 1150.8 1039.1C1149.1 1038.9 1147.3 1037.6 1146.6 1036.6C1145.9 1035.6 1145.8 1034.2 1146.6 1033.2Z" fill="#00FF2E"/>
<path d="M1218.2 1048.2C1218.8 1046.2 1221.0 1043.5 1223.2 1042.4C1225.5 1041.3 1229.5 1040.9 1231.6 1041.6C1233.7 1042.3 1234.9 1044.4 1235.7 1046.6C1236.6 1048.8 1237.0 1052.1 1236.6 1054.9C1236.2 1057.7 1234.2 1060.7 1233.2 1063.2C1232.3 1065.7 1231.6 1067.9 1230.7 1069.9C1229.9 1071.8 1228.9 1074.9 1228.2 1074.9C1227.5 1074.9 1227.1 1072.1 1226.6 1069.9C1226.0 1067.7 1226.0 1064.1 1224.9 1061.6C1223.8 1059.1 1221.0 1057.1 1219.9 1054.9C1218.8 1052.7 1217.7 1050.3 1218.2 1048.2Z" fill="#00FFE8"/>
<path d="M1118.3 1054.1C1119.4 1052.0 1126.4 1058.6 1130.0 1059.1C1133.6 1059.5 1136.6 1057.1 1140.0 1056.6C1143.3 1056.0 1146.9 1055.5 1150.0 1055.7C1153.0 1056.0 1156.3 1056.7 1158.3 1058.2C1160.2 1059.8 1160.5 1062.4 1161.6 1064.9C1162.7 1067.4 1163.6 1070.4 1165.0 1073.2C1166.3 1076.0 1168.0 1080.4 1169.9 1081.5C1171.9 1082.7 1174.4 1080.4 1176.6 1079.9C1178.8 1079.3 1181.1 1078.1 1183.3 1078.2C1185.5 1078.4 1188.5 1079.1 1189.9 1080.7C1191.3 1082.4 1191.9 1085.3 1191.6 1088.2C1191.3 1091.1 1189.7 1095.4 1188.3 1098.2C1186.9 1101.0 1185.2 1103.5 1183.3 1104.9C1181.3 1106.3 1178.3 1105.1 1176.6 1106.5C1174.9 1107.9 1174.2 1110.1 1173.3 1113.2C1172.3 1116.2 1173.6 1124.6 1170.8 1124.9C1168.0 1125.1 1162.3 1119.6 1156.6 1114.9C1150.9 1110.1 1142.2 1103.8 1136.6 1096.5C1131.1 1089.3 1126.4 1078.6 1123.3 1071.6C1120.3 1064.5 1117.2 1056.1 1118.3 1054.1Z" fill="#005DFF"/>
<path d="M1138.3 1088.2C1138.0 1084.9 1140.5 1080.6 1141.6 1078.2C1142.7 1075.9 1143.9 1073.8 1145.0 1074.1C1146.1 1074.3 1147.2 1077.5 1148.3 1079.9C1149.4 1082.2 1151.3 1085.4 1151.6 1088.2C1151.9 1091.0 1150.5 1093.8 1150.0 1096.5C1149.4 1099.3 1149.4 1104.6 1148.3 1104.9C1147.2 1105.1 1145.0 1101.0 1143.3 1098.2C1141.6 1095.4 1138.6 1091.5 1138.3 1088.2Z" fill="#0000FF"/>
<path d="M1246.6 1106.5C1247.1 1104.0 1249.9 1101.0 1251.6 1098.2C1253.2 1095.4 1254.6 1091.5 1256.6 1089.9C1258.5 1088.2 1260.7 1087.9 1263.2 1088.2C1265.7 1088.5 1268.8 1090.2 1271.5 1091.5C1274.3 1092.9 1277.1 1094.9 1279.9 1096.5C1282.6 1098.2 1285.1 1100.7 1288.2 1101.5C1291.3 1102.4 1294.6 1098.8 1298.2 1101.5C1301.8 1104.3 1306.2 1112.9 1309.9 1118.2C1313.5 1123.5 1316.5 1128.2 1319.8 1133.2C1323.2 1138.2 1326.5 1142.9 1329.8 1148.2C1333.2 1153.4 1340.1 1162.1 1339.8 1164.8C1339.6 1167.6 1331.5 1167.0 1328.2 1164.8C1324.8 1162.6 1322.9 1155.9 1319.8 1151.5C1316.8 1147.1 1312.9 1142.1 1309.9 1138.2C1306.8 1134.3 1304.9 1130.1 1301.5 1128.2C1298.2 1126.2 1294.0 1126.7 1289.9 1126.5C1285.7 1126.4 1281.0 1127.1 1276.5 1127.4C1272.1 1127.6 1266.8 1128.6 1263.2 1128.2C1259.6 1127.8 1257.1 1126.2 1254.9 1124.9C1252.7 1123.5 1251.0 1121.8 1249.9 1119.9C1248.8 1117.9 1248.8 1115.4 1248.2 1113.2C1247.7 1111.0 1246.0 1109.0 1246.6 1106.5Z" fill="#00FFE8"/>
<path d="M1184.9 1134.8C1183.8 1132.1 1193.0 1131.9 1196.6 1131.5C1200.2 1131.1 1203.3 1132.3 1206.6 1132.3C1209.9 1132.3 1213.8 1131.1 1216.6 1131.5C1219.4 1131.9 1221.0 1133.5 1223.2 1134.8C1225.5 1136.2 1227.4 1137.9 1229.9 1139.8C1232.4 1141.8 1235.5 1144.6 1238.2 1146.5C1241.0 1148.4 1243.5 1150.3 1246.6 1151.5C1249.6 1152.8 1253.2 1154.0 1256.6 1154.0C1259.9 1154.0 1263.2 1152.5 1266.5 1151.5C1269.9 1150.5 1272.9 1149.0 1276.5 1148.2C1280.2 1147.3 1284.9 1146.2 1288.2 1146.5C1291.5 1146.8 1293.8 1148.2 1296.5 1149.8C1299.3 1151.5 1302.4 1154.0 1304.9 1156.5C1307.4 1159.0 1326.2 1163.4 1311.5 1164.8C1296.8 1166.2 1234.6 1167.6 1216.6 1164.8C1198.5 1162.1 1208.5 1153.2 1203.3 1148.2C1198.0 1143.2 1186.0 1137.6 1184.9 1134.8Z" fill="#005DFF"/>
<path d="M1209.9 1151.5C1210.2 1150.3 1213.4 1149.3 1214.9 1149.0C1216.4 1148.7 1218.8 1148.6 1219.1 1149.8C1219.4 1151.1 1216.7 1154.6 1216.6 1156.5C1216.4 1158.4 1218.8 1161.0 1218.2 1161.0C1217.7 1161.0 1214.6 1158.1 1213.3 1156.5C1211.9 1154.9 1209.6 1152.8 1209.9 1151.5Z" fill="#0000FF"/>
<path d="M1213.3 1157.7C1227.4 1152.9 1294.9 1155.4 1311.5 1157.7C1328.2 1159.9 1312.6 1166.8 1313.2 1171.0C1313.7 1175.2 1313.7 1179.0 1314.9 1182.7C1316.0 1186.3 1318.7 1189.3 1319.8 1192.6C1321.0 1196.0 1321.8 1199.3 1321.5 1202.6C1321.2 1206.0 1319.4 1209.9 1318.2 1212.6C1316.9 1215.4 1314.6 1216.8 1314.0 1219.3C1313.5 1221.8 1313.6 1225.1 1314.9 1227.6C1316.1 1230.1 1319.3 1232.2 1321.5 1234.3C1323.7 1236.4 1326.2 1239.4 1328.2 1240.1C1330.1 1240.8 1331.2 1238.0 1333.2 1238.4C1335.1 1238.9 1338.4 1240.5 1339.8 1242.6C1341.2 1244.7 1340.1 1248.2 1341.5 1250.9C1342.9 1253.7 1345.9 1256.5 1348.2 1259.3C1350.4 1262.0 1353.2 1265.1 1354.8 1267.6C1356.5 1270.1 1356.5 1273.1 1358.2 1274.3C1359.8 1275.4 1362.3 1273.7 1364.8 1274.3C1367.3 1274.8 1370.4 1276.2 1373.1 1277.6C1375.9 1279.0 1379.0 1280.4 1381.5 1282.6C1384.0 1284.8 1386.2 1288.1 1388.1 1290.9C1390.1 1293.7 1391.2 1297.9 1393.1 1299.2C1395.1 1300.6 1396.2 1291.7 1399.8 1299.2C1403.4 1306.7 1413.7 1328.4 1414.8 1344.2C1415.9 1360.0 1416.2 1385.9 1406.5 1394.2C1396.7 1402.5 1373.1 1399.7 1356.5 1394.2C1339.8 1388.6 1316.2 1380.3 1306.5 1360.9C1296.8 1341.4 1306.5 1301.2 1298.2 1277.6C1289.9 1254.0 1268.5 1234.6 1256.6 1219.3C1244.6 1204.0 1233.8 1196.3 1226.6 1186.0C1219.4 1175.7 1199.1 1162.4 1213.3 1157.7Z" fill="#005DFF"/>
<path d="M1321.5 1159.3C1320.1 1160.7 1324.6 1164.6 1326.5 1167.7C1328.5 1170.7 1331.0 1175.2 1333.2 1177.7C1335.4 1180.2 1337.8 1182.4 1339.8 1182.7C1341.9 1182.9 1344.8 1180.7 1345.7 1179.3C1346.5 1177.9 1346.6 1177.7 1344.8 1174.3C1343.0 1171.0 1338.7 1161.8 1334.8 1159.3C1331.0 1156.8 1322.9 1157.9 1321.5 1159.3Z" fill="#00FFE8"/>
<path d="M1238.2 1194.3C1238.0 1191.7 1245.2 1190.4 1248.2 1190.1C1251.3 1189.9 1253.5 1192.1 1256.6 1192.6C1259.6 1193.2 1263.5 1192.8 1266.5 1193.5C1269.6 1194.2 1272.8 1195.3 1274.9 1196.8C1277.0 1198.3 1278.6 1200.0 1279.0 1202.6C1279.5 1205.3 1277.8 1209.3 1277.4 1212.6C1277.0 1216.0 1277.0 1219.6 1276.5 1222.6C1276.1 1225.7 1277.4 1232.1 1274.9 1231.0C1272.4 1229.8 1265.7 1220.1 1261.6 1216.0C1257.4 1211.8 1253.8 1209.6 1249.9 1206.0C1246.0 1202.4 1238.5 1196.9 1238.2 1194.3Z" fill="#0000FF"/>
<path d="M1286.5 1250.9C1288.1 1251.5 1293.2 1256.5 1296.5 1259.3C1299.9 1262.0 1303.7 1264.8 1306.5 1267.6C1309.3 1270.4 1312.4 1272.9 1313.2 1275.9C1314.0 1279.0 1312.4 1283.1 1311.5 1285.9C1310.7 1288.7 1309.6 1292.9 1308.2 1292.6C1306.8 1292.3 1305.4 1288.1 1303.2 1284.3C1301.0 1280.4 1297.5 1274.0 1294.9 1269.3C1292.2 1264.5 1288.8 1259.0 1287.4 1255.9C1286.0 1252.9 1285.0 1250.4 1286.5 1250.9Z" fill="#0000FF"/>
<path d="M1347.3 1275.1C1347.9 1273.8 1350.0 1272.5 1351.5 1272.6C1353.0 1272.7 1355.9 1274.4 1356.5 1275.9C1357.0 1277.5 1355.8 1280.5 1354.8 1281.8C1353.9 1283.0 1351.8 1283.7 1350.7 1283.4C1349.5 1283.1 1348.4 1281.5 1347.8 1280.1C1347.3 1278.7 1346.7 1276.3 1347.3 1275.1Z" fill="#00B9FF"/>
<path d="M1324.0 1291.7C1324.1 1291.0 1325.8 1290.3 1326.5 1290.6C1327.2 1290.9 1328.3 1292.7 1328.2 1293.4C1328.0 1294.2 1326.4 1295.4 1325.7 1295.1C1325.0 1294.8 1323.9 1292.5 1324.0 1291.7Z" fill="#00B9FF"/>
<path d="M1306.5 1295.9C1307.1 1286.2 1311.2 1300.1 1313.2 1302.6C1315.1 1305.1 1316.2 1308.1 1318.2 1310.9C1320.1 1313.7 1322.6 1316.7 1324.8 1319.2C1327.1 1321.7 1329.6 1323.7 1331.5 1325.9C1333.4 1328.1 1335.1 1329.9 1336.5 1332.6C1337.9 1335.2 1338.4 1340.9 1339.8 1341.7C1341.2 1342.5 1343.3 1338.8 1344.8 1337.5C1346.4 1336.3 1348.2 1336.2 1349.0 1334.2C1349.8 1332.3 1348.9 1328.4 1349.8 1325.9C1350.8 1323.4 1353.2 1321.3 1354.8 1319.2C1356.5 1317.1 1357.3 1313.5 1359.8 1313.4C1362.3 1313.3 1366.5 1316.6 1369.8 1318.4C1373.1 1320.2 1376.5 1322.1 1379.8 1324.2C1383.1 1326.3 1386.7 1329.1 1389.8 1330.9C1392.9 1332.7 1395.1 1334.2 1398.1 1335.1C1401.2 1335.9 1405.3 1331.6 1408.1 1335.9C1410.9 1340.2 1416.4 1351.2 1414.8 1360.9C1413.1 1370.6 1410.6 1390.0 1398.1 1394.2C1385.6 1398.3 1354.5 1391.4 1339.8 1385.9C1325.1 1380.3 1315.4 1375.9 1309.9 1360.9C1304.3 1345.9 1306.0 1305.6 1306.5 1295.9Z" fill="#0000FF"/>
<path d="M1344.8 1379.2C1345.1 1378.4 1349.5 1377.2 1351.5 1375.9C1353.4 1374.5 1355.1 1372.2 1356.5 1370.9C1357.9 1369.5 1358.4 1367.3 1359.8 1367.5C1361.2 1367.8 1363.3 1370.9 1364.8 1372.5C1366.3 1374.2 1368.1 1375.3 1369.0 1377.5C1369.8 1379.7 1370.8 1384.6 1369.8 1385.9C1368.8 1387.1 1366.5 1385.9 1363.2 1385.0C1359.8 1384.2 1352.9 1381.8 1349.8 1380.9C1346.8 1379.9 1344.6 1380.0 1344.8 1379.2Z" fill="#005DFF"/>
<path d="M1359.0 1382.5C1359.4 1382.0 1361.6 1380.4 1362.3 1380.9C1363.0 1381.3 1363.6 1384.5 1363.2 1385.0C1362.7 1385.6 1360.5 1384.6 1359.8 1384.2C1359.1 1383.8 1358.6 1383.1 1359.0 1382.5Z" fill="#00B9FF"/>
<path d="M1314.0 1342.5C1314.4 1341.4 1316.5 1341.2 1317.3 1341.7C1318.2 1342.3 1319.4 1344.8 1319.0 1345.9C1318.6 1347.0 1315.7 1348.9 1314.9 1348.4C1314.0 1347.8 1313.6 1343.7 1314.0 1342.5Z" fill="#005DFF"/>
</g></g></g>
<clipPath id="cp10"><path d="M1465.0 900.0C1468.9 899.9 1475.0 900.4 1480.0 901.7C1485.0 902.9 1490.2 905.5 1495.0 907.5C1499.7 909.4 1504.1 910.7 1508.3 913.3C1512.4 916.0 1516.3 919.7 1519.9 923.3C1523.5 926.9 1526.9 930.8 1529.9 935.0C1533.0 939.1 1535.5 943.9 1538.3 948.3C1541.0 952.7 1543.8 956.9 1546.6 961.6C1549.4 966.3 1552.4 971.9 1554.9 976.6C1557.4 981.3 1559.4 985.5 1561.6 989.9C1563.8 994.4 1565.7 999.4 1568.2 1003.3C1570.7 1007.1 1573.2 1009.9 1576.6 1013.3C1579.9 1016.6 1584.6 1019.6 1588.2 1023.2C1591.8 1026.9 1595.2 1031.0 1598.2 1034.9C1601.3 1038.8 1603.8 1042.4 1606.5 1046.6C1609.3 1050.7 1612.1 1055.4 1614.9 1059.9C1617.7 1064.3 1620.4 1068.8 1623.2 1073.2C1626.0 1077.7 1628.5 1081.8 1631.5 1086.5C1634.6 1091.3 1638.2 1096.8 1641.5 1101.5C1644.9 1106.2 1648.2 1110.4 1651.5 1114.9C1654.9 1119.3 1658.2 1123.7 1661.5 1128.2C1664.8 1132.6 1668.7 1137.7 1671.5 1141.5C1674.3 1145.3 1675.4 1147.2 1678.2 1151.0C1680.9 1154.8 1684.6 1159.6 1688.2 1164.3C1691.8 1169.0 1695.9 1174.3 1699.8 1179.3C1703.7 1184.3 1707.9 1189.3 1711.5 1194.3C1715.1 1199.3 1718.4 1204.3 1721.5 1209.3C1724.5 1214.3 1727.6 1219.3 1729.8 1224.3C1732.0 1229.3 1733.4 1234.0 1734.8 1239.3C1736.2 1244.5 1737.3 1250.4 1738.1 1255.9C1739.0 1261.5 1739.2 1267.0 1739.8 1272.6C1740.3 1278.1 1740.6 1283.7 1741.5 1289.2C1742.3 1294.8 1743.5 1300.3 1744.8 1305.9C1746.0 1311.4 1747.7 1317.0 1749.0 1322.5C1750.2 1328.1 1751.5 1333.7 1752.3 1339.2C1753.1 1344.8 1754.1 1350.6 1754.0 1355.9C1753.8 1361.1 1753.0 1366.4 1751.5 1370.8C1749.9 1375.3 1747.8 1379.7 1744.8 1382.5C1741.7 1385.3 1737.6 1386.7 1733.1 1387.5C1728.7 1388.3 1723.1 1388.1 1718.1 1387.5C1713.1 1386.9 1708.1 1385.6 1703.2 1384.2C1698.2 1382.8 1693.2 1381.1 1688.2 1379.2C1683.2 1377.2 1677.3 1375.0 1673.2 1372.5C1669.0 1370.0 1665.5 1367.5 1663.2 1364.2C1660.8 1360.9 1660.0 1357.0 1659.0 1352.5C1658.0 1348.1 1657.9 1342.5 1657.3 1337.5C1656.8 1332.5 1656.5 1327.5 1655.7 1322.5C1654.9 1317.6 1653.9 1312.8 1652.4 1307.6C1650.8 1302.3 1648.6 1296.2 1646.5 1290.9C1644.4 1285.6 1642.1 1280.9 1639.9 1275.9C1637.6 1270.9 1635.7 1265.9 1633.2 1260.9C1630.7 1255.9 1627.6 1250.9 1624.9 1245.9C1622.1 1240.9 1619.6 1235.7 1616.5 1230.9C1613.5 1226.2 1610.2 1222.1 1606.5 1217.6C1602.9 1213.2 1599.1 1208.2 1594.9 1204.3C1590.7 1200.4 1585.7 1197.6 1581.6 1194.3C1577.4 1191.0 1573.2 1187.6 1569.9 1184.3C1566.6 1181.0 1564.1 1177.9 1561.6 1174.3C1559.1 1170.7 1557.4 1166.5 1554.9 1162.7C1552.4 1158.8 1549.1 1154.8 1546.6 1151.0C1544.1 1147.2 1542.7 1143.4 1539.9 1139.8C1537.2 1136.3 1533.5 1132.9 1529.9 1129.8C1526.3 1126.8 1522.2 1124.3 1518.3 1121.5C1514.4 1118.7 1510.5 1116.2 1506.6 1113.2C1502.7 1110.1 1498.6 1106.8 1495.0 1103.2C1491.3 1099.6 1488.0 1095.4 1485.0 1091.5C1481.9 1087.6 1479.3 1083.8 1476.6 1079.9C1474.0 1076.0 1471.4 1072.4 1469.1 1068.2C1466.9 1064.1 1465.1 1059.3 1463.3 1054.9C1461.5 1050.5 1459.6 1046.3 1458.3 1041.6C1457.1 1036.8 1456.8 1031.6 1455.8 1026.6C1454.8 1021.6 1453.7 1016.6 1452.5 1011.6C1451.2 1006.6 1449.7 1001.0 1448.3 996.6C1446.9 992.2 1445.7 988.8 1444.2 984.9C1442.6 981.1 1440.7 977.4 1439.2 973.3C1437.6 969.1 1436.0 964.4 1435.0 960.0C1434.0 955.5 1433.1 951.1 1433.3 946.6C1433.6 942.2 1435.0 937.5 1436.7 933.3C1438.3 929.1 1441.1 925.5 1443.3 921.6C1445.5 917.8 1447.8 913.2 1450.0 910.0C1452.2 906.8 1454.2 904.2 1456.6 902.5C1459.1 900.8 1461.1 900.1 1465.0 900.0Z"/></clipPath>
<g filter="url(#bl)"><g clip-path="url(#cp10)">
<path d="M1465.0 900.0C1468.9 899.9 1475.0 900.4 1480.0 901.7C1485.0 902.9 1490.2 905.5 1495.0 907.5C1499.7 909.4 1504.1 910.7 1508.3 913.3C1512.4 916.0 1516.3 919.7 1519.9 923.3C1523.5 926.9 1526.9 930.8 1529.9 935.0C1533.0 939.1 1535.5 943.9 1538.3 948.3C1541.0 952.7 1543.8 956.9 1546.6 961.6C1549.4 966.3 1552.4 971.9 1554.9 976.6C1557.4 981.3 1559.4 985.5 1561.6 989.9C1563.8 994.4 1565.7 999.4 1568.2 1003.3C1570.7 1007.1 1573.2 1009.9 1576.6 1013.3C1579.9 1016.6 1584.6 1019.6 1588.2 1023.2C1591.8 1026.9 1595.2 1031.0 1598.2 1034.9C1601.3 1038.8 1603.8 1042.4 1606.5 1046.6C1609.3 1050.7 1612.1 1055.4 1614.9 1059.9C1617.7 1064.3 1620.4 1068.8 1623.2 1073.2C1626.0 1077.7 1628.5 1081.8 1631.5 1086.5C1634.6 1091.3 1638.2 1096.8 1641.5 1101.5C1644.9 1106.2 1648.2 1110.4 1651.5 1114.9C1654.9 1119.3 1658.2 1123.7 1661.5 1128.2C1664.8 1132.6 1668.7 1137.7 1671.5 1141.5C1674.3 1145.3 1675.4 1147.2 1678.2 1151.0C1680.9 1154.8 1684.6 1159.6 1688.2 1164.3C1691.8 1169.0 1695.9 1174.3 1699.8 1179.3C1703.7 1184.3 1707.9 1189.3 1711.5 1194.3C1715.1 1199.3 1718.4 1204.3 1721.5 1209.3C1724.5 1214.3 1727.6 1219.3 1729.8 1224.3C1732.0 1229.3 1733.4 1234.0 1734.8 1239.3C1736.2 1244.5 1737.3 1250.4 1738.1 1255.9C1739.0 1261.5 1739.2 1267.0 1739.8 1272.6C1740.3 1278.1 1740.6 1283.7 1741.5 1289.2C1742.3 1294.8 1743.5 1300.3 1744.8 1305.9C1746.0 1311.4 1747.7 1317.0 1749.0 1322.5C1750.2 1328.1 1751.5 1333.7 1752.3 1339.2C1753.1 1344.8 1754.1 1350.6 1754.0 1355.9C1753.8 1361.1 1753.0 1366.4 1751.5 1370.8C1749.9 1375.3 1747.8 1379.7 1744.8 1382.5C1741.7 1385.3 1737.6 1386.7 1733.1 1387.5C1728.7 1388.3 1723.1 1388.1 1718.1 1387.5C1713.1 1386.9 1708.1 1385.6 1703.2 1384.2C1698.2 1382.8 1693.2 1381.1 1688.2 1379.2C1683.2 1377.2 1677.3 1375.0 1673.2 1372.5C1669.0 1370.0 1665.5 1367.5 1663.2 1364.2C1660.8 1360.9 1660.0 1357.0 1659.0 1352.5C1658.0 1348.1 1657.9 1342.5 1657.3 1337.5C1656.8 1332.5 1656.5 1327.5 1655.7 1322.5C1654.9 1317.6 1653.9 1312.8 1652.4 1307.6C1650.8 1302.3 1648.6 1296.2 1646.5 1290.9C1644.4 1285.6 1642.1 1280.9 1639.9 1275.9C1637.6 1270.9 1635.7 1265.9 1633.2 1260.9C1630.7 1255.9 1627.6 1250.9 1624.9 1245.9C1622.1 1240.9 1619.6 1235.7 1616.5 1230.9C1613.5 1226.2 1610.2 1222.1 1606.5 1217.6C1602.9 1213.2 1599.1 1208.2 1594.9 1204.3C1590.7 1200.4 1585.7 1197.6 1581.6 1194.3C1577.4 1191.0 1573.2 1187.6 1569.9 1184.3C1566.6 1181.0 1564.1 1177.9 1561.6 1174.3C1559.1 1170.7 1557.4 1166.5 1554.9 1162.7C1552.4 1158.8 1549.1 1154.8 1546.6 1151.0C1544.1 1147.2 1542.7 1143.4 1539.9 1139.8C1537.2 1136.3 1533.5 1132.9 1529.9 1129.8C1526.3 1126.8 1522.2 1124.3 1518.3 1121.5C1514.4 1118.7 1510.5 1116.2 1506.6 1113.2C1502.7 1110.1 1498.6 1106.8 1495.0 1103.2C1491.3 1099.6 1488.0 1095.4 1485.0 1091.5C1481.9 1087.6 1479.3 1083.8 1476.6 1079.9C1474.0 1076.0 1471.4 1072.4 1469.1 1068.2C1466.9 1064.1 1465.1 1059.3 1463.3 1054.9C1461.5 1050.5 1459.6 1046.3 1458.3 1041.6C1457.1 1036.8 1456.8 1031.6 1455.8 1026.6C1454.8 1021.6 1453.7 1016.6 1452.5 1011.6C1451.2 1006.6 1449.7 1001.0 1448.3 996.6C1446.9 992.2 1445.7 988.8 1444.2 984.9C1442.6 981.1 1440.7 977.4 1439.2 973.3C1437.6 969.1 1436.0 964.4 1435.0 960.0C1434.0 955.5 1433.1 951.1 1433.3 946.6C1433.6 942.2 1435.0 937.5 1436.7 933.3C1438.3 929.1 1441.1 925.5 1443.3 921.6C1445.5 917.8 1447.8 913.2 1450.0 910.0C1452.2 906.8 1454.2 904.2 1456.6 902.5C1459.1 900.8 1461.1 900.1 1465.0 900.0Z" fill="#005DFF"/>
<g>
<path d="M1426.7 978.3C1428.6 989.5 1437.5 979.4 1441.7 979.1C1445.8 978.8 1448.3 977.9 1451.7 976.6C1455.0 975.4 1458.3 973.0 1461.6 971.6C1465.0 970.2 1468.6 970.0 1471.6 968.3C1474.7 966.6 1477.2 963.8 1480.0 961.6C1482.7 959.4 1485.5 956.6 1488.3 955.0C1491.1 953.3 1494.4 952.7 1496.6 951.6C1498.8 950.5 1500.8 950.2 1501.6 948.3C1502.5 946.4 1501.2 942.7 1501.6 940.0C1502.0 937.2 1503.3 933.6 1504.1 931.6C1505.0 929.7 1504.8 928.0 1506.6 928.3C1508.4 928.6 1512.2 931.9 1514.9 933.3C1517.7 934.7 1519.7 935.7 1523.3 936.6C1526.9 937.6 1536.9 943.3 1536.6 939.1C1536.3 935.0 1533.5 919.6 1521.6 911.7C1509.7 903.7 1480.2 891.7 1465.0 891.7C1449.7 891.7 1436.4 897.2 1430.0 911.7C1423.6 926.1 1424.7 967.0 1426.7 978.3Z" fill="#0000FF"/>
<path d="M1456.6 1008.3C1458.0 1006.0 1460.3 1004.2 1463.3 1003.3C1466.4 1002.3 1471.1 1002.4 1475.0 1002.4C1478.9 1002.4 1483.6 1004.0 1486.6 1003.3C1489.7 1002.6 1491.3 999.9 1493.3 998.3C1495.2 996.6 1496.6 995.5 1498.3 993.3C1500.0 991.0 1501.3 988.3 1503.3 984.9C1505.2 981.6 1508.0 976.6 1509.9 973.3C1511.9 970.0 1513.3 967.5 1514.9 965.0C1516.6 962.5 1517.7 958.8 1519.9 958.3C1522.2 957.7 1525.8 960.0 1528.3 961.6C1530.8 963.3 1533.5 965.8 1534.9 968.3C1536.3 970.8 1535.2 974.4 1536.6 976.6C1538.0 978.8 1540.5 979.9 1543.3 981.6C1546.0 983.3 1549.9 984.7 1553.3 986.6C1556.6 988.5 1560.7 990.5 1563.2 993.3C1565.7 996.0 1566.0 999.9 1568.2 1003.3C1570.5 1006.6 1574.3 1010.8 1576.6 1013.3C1578.8 1015.8 1579.9 1015.8 1581.6 1018.3C1583.2 1020.7 1584.6 1025.5 1586.6 1028.2C1588.5 1031.0 1591.0 1033.2 1593.2 1034.9C1595.4 1036.6 1597.7 1036.3 1599.9 1038.2C1602.1 1040.2 1604.1 1043.0 1606.5 1046.6C1609.0 1050.2 1612.1 1055.4 1614.9 1059.9C1617.7 1064.3 1621.0 1068.2 1623.2 1073.2C1625.4 1078.2 1626.3 1086.3 1628.2 1089.9C1630.1 1093.5 1632.6 1092.9 1634.9 1094.9C1637.1 1096.8 1638.7 1098.2 1641.5 1101.5C1644.3 1104.9 1648.2 1110.4 1651.5 1114.9C1654.9 1119.3 1658.2 1123.7 1661.5 1128.2C1664.8 1132.6 1668.5 1137.1 1671.5 1141.5C1674.6 1145.9 1682.9 1152.6 1679.8 1154.8C1676.8 1157.0 1659.0 1158.2 1653.2 1154.8C1647.4 1151.5 1647.1 1139.8 1644.9 1134.8C1642.6 1129.8 1641.5 1128.2 1639.9 1124.8C1638.2 1121.5 1636.8 1117.6 1634.9 1114.9C1632.9 1112.1 1631.0 1109.4 1628.2 1108.2C1625.4 1106.9 1621.3 1106.8 1618.2 1107.4C1615.2 1107.9 1610.2 1109.7 1609.9 1111.5C1609.6 1113.3 1614.5 1116.2 1616.5 1118.2C1618.6 1120.1 1621.5 1120.7 1622.4 1123.2C1623.2 1125.7 1623.1 1131.8 1621.5 1133.2C1620.0 1134.6 1616.0 1131.8 1613.2 1131.5C1610.4 1131.2 1607.9 1132.6 1604.9 1131.5C1601.8 1130.4 1598.2 1127.1 1594.9 1124.8C1591.6 1122.6 1588.2 1120.4 1584.9 1118.2C1581.6 1116.0 1578.0 1113.3 1574.9 1111.5C1571.8 1109.7 1569.1 1107.4 1566.6 1107.4C1564.1 1107.4 1561.9 1110.3 1559.9 1111.5C1558.0 1112.8 1557.1 1114.6 1554.9 1114.9C1552.7 1115.1 1548.5 1114.3 1546.6 1113.2C1544.6 1112.1 1543.3 1110.1 1543.3 1108.2C1543.3 1106.2 1545.5 1103.7 1546.6 1101.5C1547.7 1099.3 1549.6 1097.1 1549.9 1094.9C1550.2 1092.6 1549.9 1089.3 1548.3 1088.2C1546.6 1087.1 1542.4 1087.6 1539.9 1088.2C1537.4 1088.8 1535.8 1092.1 1533.3 1091.5C1530.8 1091.0 1527.7 1087.4 1524.9 1084.9C1522.2 1082.4 1519.4 1079.0 1516.6 1076.5C1513.8 1074.0 1509.9 1072.4 1508.3 1069.9C1506.6 1067.4 1507.7 1064.6 1506.6 1061.6C1505.5 1058.5 1503.6 1054.6 1501.6 1051.6C1499.7 1048.5 1497.7 1045.7 1495.0 1043.2C1492.2 1040.7 1488.3 1038.2 1485.0 1036.6C1481.6 1034.9 1478.6 1033.8 1475.0 1033.2C1471.4 1032.7 1466.2 1034.4 1463.3 1033.2C1460.4 1032.1 1458.9 1029.4 1457.5 1026.6C1456.1 1023.8 1455.1 1019.6 1455.0 1016.6C1454.8 1013.5 1455.3 1010.5 1456.6 1008.3Z" fill="#00B9FF"/>
<path d="M1480.0 1016.6C1480.2 1014.4 1484.1 1012.1 1486.6 1011.6C1489.1 1011.0 1492.5 1013.3 1495.0 1013.3C1497.5 1013.3 1499.4 1013.0 1501.6 1011.6C1503.8 1010.2 1506.3 1007.7 1508.3 1004.9C1510.2 1002.2 1511.6 998.5 1513.3 994.9C1514.9 991.3 1516.6 985.9 1518.3 983.3C1519.9 980.6 1521.3 979.1 1523.3 979.1C1525.2 979.1 1528.0 981.2 1529.9 983.3C1531.9 985.4 1533.4 988.8 1534.9 991.6C1536.5 994.4 1538.5 996.6 1539.1 999.9C1539.6 1003.3 1538.1 1007.4 1538.3 1011.6C1538.4 1015.8 1539.4 1020.5 1539.9 1024.9C1540.5 1029.4 1541.9 1034.9 1541.6 1038.2C1541.3 1041.6 1540.2 1043.1 1538.3 1044.9C1536.3 1046.7 1533.0 1048.8 1529.9 1049.1C1526.9 1049.3 1523.0 1047.5 1519.9 1046.6C1516.9 1045.6 1513.8 1044.9 1511.6 1043.2C1509.4 1041.6 1508.6 1038.5 1506.6 1036.6C1504.7 1034.6 1502.5 1033.0 1500.0 1031.6C1497.5 1030.2 1494.1 1029.4 1491.6 1028.2C1489.1 1027.1 1486.9 1026.9 1485.0 1024.9C1483.0 1023.0 1479.7 1018.8 1480.0 1016.6Z" fill="#00FFE8"/>
<path d="M1508.3 1018.3C1509.3 1015.5 1513.0 1013.8 1514.9 1011.6C1516.9 1009.4 1518.0 1005.9 1519.9 1004.9C1521.9 1004.0 1525.1 1004.4 1526.6 1005.8C1528.1 1007.1 1528.8 1010.3 1529.1 1013.3C1529.4 1016.2 1528.7 1019.9 1528.3 1023.2C1527.9 1026.6 1528.0 1031.2 1526.6 1033.2C1525.2 1035.3 1522.2 1035.6 1519.9 1035.7C1517.7 1035.9 1515.1 1035.3 1513.3 1034.1C1511.5 1032.8 1509.9 1030.9 1509.1 1028.2C1508.3 1025.6 1507.3 1021.0 1508.3 1018.3Z" fill="#00FF8B"/>
<path d="M1458.3 1044.9C1458.6 1041.7 1466.4 1048.5 1470.0 1049.1C1473.6 1049.6 1477.2 1047.5 1480.0 1048.2C1482.7 1048.9 1485.1 1051.0 1486.6 1053.2C1488.2 1055.4 1488.3 1058.5 1489.1 1061.6C1490.0 1064.6 1491.1 1067.9 1491.6 1071.5C1492.2 1075.2 1492.2 1079.3 1492.5 1083.2C1492.7 1087.1 1492.7 1091.1 1493.3 1094.9C1493.8 1098.6 1497.5 1106.2 1495.8 1105.7C1494.1 1105.1 1487.9 1097.8 1483.3 1091.5C1478.7 1085.3 1472.5 1076.0 1468.3 1068.2C1464.1 1060.4 1458.0 1048.1 1458.3 1044.9Z" fill="#0000FF"/>
<path d="M1529.9 1131.5C1530.5 1131.2 1533.8 1133.5 1534.9 1134.8C1536.0 1136.2 1537.2 1139.6 1536.6 1139.8C1536.0 1140.1 1532.7 1137.9 1531.6 1136.5C1530.5 1135.1 1529.4 1131.8 1529.9 1131.5Z" fill="#00B9FF"/>
<path d="M1651.5 1149.3C1646.8 1151.3 1652.8 1156.8 1653.2 1161.0C1653.6 1165.2 1653.5 1170.4 1654.0 1174.3C1654.6 1178.2 1655.0 1181.3 1656.5 1184.3C1658.0 1187.4 1661.0 1189.9 1663.2 1192.6C1665.4 1195.4 1667.8 1198.5 1669.8 1201.0C1671.9 1203.5 1675.1 1204.9 1675.7 1207.6C1676.2 1210.4 1672.5 1215.1 1673.2 1217.6C1673.9 1220.1 1677.3 1220.7 1679.8 1222.6C1682.3 1224.6 1686.6 1226.8 1688.2 1229.3C1689.7 1231.8 1689.1 1234.3 1689.0 1237.6C1688.9 1240.9 1686.6 1245.9 1687.3 1249.3C1688.0 1252.6 1691.4 1254.8 1693.2 1257.6C1695.0 1260.4 1696.5 1263.4 1698.2 1265.9C1699.8 1268.4 1700.7 1271.5 1703.2 1272.6C1705.6 1273.7 1709.8 1271.9 1713.1 1272.6C1716.5 1273.3 1719.8 1275.6 1723.1 1276.7C1726.5 1277.9 1729.5 1278.3 1733.1 1279.2C1736.7 1280.2 1743.1 1286.5 1744.8 1282.6C1746.5 1278.7 1744.2 1263.1 1743.1 1255.9C1742.0 1248.7 1741.2 1247.0 1738.1 1239.3C1735.1 1231.5 1730.6 1219.3 1724.8 1209.3C1719.0 1199.3 1710.4 1189.3 1703.2 1179.3C1695.9 1169.3 1690.1 1154.3 1681.5 1149.3C1672.9 1144.3 1656.2 1147.4 1651.5 1149.3Z" fill="#00B9FF"/>
<path d="M1673.2 1149.3C1672.6 1151.3 1675.7 1157.1 1676.5 1161.0C1677.3 1164.9 1677.3 1169.3 1678.2 1172.7C1679.0 1176.0 1679.6 1178.8 1681.5 1181.0C1683.4 1183.2 1687.1 1184.3 1689.8 1186.0C1692.6 1187.6 1695.7 1189.6 1698.2 1191.0C1700.7 1192.4 1703.2 1194.6 1704.8 1194.3C1706.5 1194.0 1709.3 1192.4 1708.1 1189.3C1707.0 1186.3 1702.0 1181.3 1698.2 1176.0C1694.3 1170.7 1687.9 1162.1 1684.8 1157.7C1681.8 1153.2 1681.8 1150.7 1679.8 1149.3C1677.9 1147.9 1673.7 1147.4 1673.2 1149.3Z" fill="#00FFE8"/>
<path d="M1716.5 1229.3C1716.8 1227.6 1719.9 1222.6 1721.5 1221.8C1723.0 1221.0 1724.2 1222.5 1725.6 1224.3C1727.0 1226.1 1729.9 1231.1 1729.8 1232.6C1729.7 1234.1 1726.5 1233.6 1724.8 1233.4C1723.1 1233.3 1721.2 1232.5 1719.8 1231.8C1718.4 1231.1 1716.2 1230.9 1716.5 1229.3Z" fill="#00FFE8"/>
<path d="M1558.2 1172.7C1555.5 1167.7 1561.7 1166.7 1563.2 1164.3C1564.8 1162.0 1565.7 1158.8 1567.4 1158.5C1569.1 1158.2 1571.2 1160.9 1573.2 1162.7C1575.3 1164.5 1577.4 1167.4 1579.9 1169.3C1582.4 1171.3 1585.5 1172.7 1588.2 1174.3C1591.0 1176.0 1594.1 1177.1 1596.6 1179.3C1599.1 1181.5 1601.0 1184.9 1603.2 1187.6C1605.4 1190.4 1607.9 1193.9 1609.9 1196.0C1611.8 1198.1 1612.7 1199.4 1614.9 1200.1C1617.1 1200.8 1620.7 1199.4 1623.2 1200.1C1625.7 1200.8 1627.6 1202.9 1629.9 1204.3C1632.1 1205.7 1634.0 1207.6 1636.5 1208.5C1639.0 1209.3 1644.0 1207.8 1644.9 1209.3C1645.7 1210.8 1642.8 1215.1 1641.5 1217.6C1640.3 1220.1 1638.3 1221.5 1637.4 1224.3C1636.4 1227.1 1635.6 1230.9 1635.7 1234.3C1635.8 1237.6 1636.9 1241.5 1638.2 1244.3C1639.4 1247.0 1640.7 1249.3 1643.2 1250.9C1645.7 1252.6 1649.9 1253.4 1653.2 1254.3C1656.5 1255.1 1660.1 1255.1 1663.2 1255.9C1666.2 1256.8 1669.0 1257.6 1671.5 1259.3C1674.0 1260.9 1676.8 1263.1 1678.2 1265.9C1679.6 1268.7 1679.7 1272.3 1679.8 1275.9C1680.0 1279.5 1679.3 1284.0 1679.0 1287.6C1678.7 1291.2 1678.0 1294.2 1678.2 1297.6C1678.3 1300.9 1678.7 1304.8 1679.8 1307.6C1680.9 1310.3 1683.2 1312.3 1684.8 1314.2C1686.5 1316.2 1688.2 1317.3 1689.8 1319.2C1691.5 1321.2 1692.6 1325.1 1694.8 1325.9C1697.0 1326.7 1700.9 1323.7 1703.2 1324.2C1705.4 1324.8 1706.5 1327.7 1708.1 1329.2C1709.8 1330.7 1710.9 1333.0 1713.1 1333.4C1715.4 1333.8 1718.4 1332.7 1721.5 1331.7C1724.5 1330.7 1728.4 1328.8 1731.5 1327.5C1734.5 1326.3 1737.3 1325.9 1739.8 1324.2C1742.3 1322.6 1744.2 1318.1 1746.5 1317.6C1748.7 1317.0 1750.9 1312.6 1753.1 1320.9C1755.3 1329.2 1762.3 1354.2 1759.8 1367.5C1757.3 1380.8 1754.2 1398.1 1738.1 1400.8C1722.0 1403.6 1678.4 1400.8 1663.2 1384.2C1647.9 1367.5 1654.9 1326.4 1646.5 1300.9C1638.2 1275.4 1624.3 1248.7 1613.2 1230.9C1602.1 1213.2 1589.1 1204.0 1579.9 1194.3C1570.7 1184.6 1561.0 1177.6 1558.2 1172.7Z" fill="#0000FF"/>
<path d="M1699.8 1382.5C1699.3 1381.0 1702.2 1377.7 1703.2 1375.9C1704.1 1374.0 1704.5 1371.7 1705.6 1371.7C1706.8 1371.7 1708.6 1374.6 1709.8 1375.9C1711.1 1377.1 1712.3 1377.4 1713.1 1379.2C1714.0 1381.0 1715.9 1385.7 1714.8 1386.7C1713.7 1387.6 1709.0 1385.7 1706.5 1385.0C1704.0 1384.3 1700.4 1384.0 1699.8 1382.5Z" fill="#005DFF"/>
<path d="M1704.0 1382.5C1704.1 1381.7 1706.3 1379.7 1707.3 1380.0C1708.3 1380.3 1710.0 1383.3 1709.8 1384.2C1709.7 1385.0 1707.5 1385.3 1706.5 1385.0C1705.5 1384.7 1703.8 1383.3 1704.0 1382.5Z" fill="#00B9FF"/>
</g></g></g>
<text x="185.4" y="725.9" text-anchor="middle" font-size="48">0</text>
<text x="505.4" y="725.9" text-anchor="middle" font-size="48">10%</text>
<text x="861.4" y="725.9" text-anchor="middle" font-size="48">20%</text>
<text x="1218.6" y="725.9" text-anchor="middle" font-size="48">30%</text>
<text x="1569.5" y="725.9" text-anchor="middle" font-size="48">40%</text>
<text x="1993.5" y="725.9" text-anchor="middle" font-size="48">50%</text>
<text x="323.8" y="1477.0" text-anchor="middle" font-size="48">60%</text>
<text x="617.4" y="1477.0" text-anchor="middle" font-size="48">70%</text>
<text x="955.5" y="1477.0" text-anchor="middle" font-size="48">80%</text>
<text x="1325.0" y="1477.0" text-anchor="middle" font-size="48">90%</text>
<text x="1641.2" y="1477.0" text-anchor="middle" font-size="48">100%</text>
<rect x="1837" y="889" width="358.5" height="529" fill="#fff" stroke="#6e6e6e" stroke-width="1.7"/>
<rect x="1867" y="1018.80" width="46.5" height="30.96" fill="#FF0000"/>
<rect x="1867" y="1049.46" width="46.5" height="30.96" fill="#FF5D00"/>
<rect x="1867" y="1080.12" width="46.5" height="30.96" fill="#FFB900"/>
<rect x="1867" y="1110.78" width="46.5" height="30.96" fill="#E8FF00"/>
<rect x="1867" y="1141.44" width="46.5" height="30.96" fill="#8BFF00"/>
<rect x="1867" y="1172.10" width="46.5" height="30.96" fill="#2EFF00"/>
<rect x="1867" y="1202.76" width="46.5" height="30.96" fill="#00FF2E"/>
<rect x="1867" y="1233.42" width="46.5" height="30.96" fill="#00FF8B"/>
<rect x="1867" y="1264.08" width="46.5" height="30.96" fill="#00FFE8"/>
<rect x="1867" y="1294.74" width="46.5" height="30.96" fill="#00B9FF"/>
<rect x="1867" y="1325.40" width="46.5" height="30.96" fill="#005DFF"/>
<rect x="1867" y="1356.06" width="46.5" height="30.96" fill="#0000FF"/>
<line x1="1867" x2="1928.5" y1="1018.80" y2="1018.80" stroke="#444" stroke-width="1.6"/>
<line x1="1867" x2="1928.5" y1="1049.46" y2="1049.46" stroke="#444" stroke-width="1.6"/>
<line x1="1867" x2="1928.5" y1="1080.12" y2="1080.12" stroke="#444" stroke-width="1.6"/>
<line x1="1867" x2="1928.5" y1="1110.78" y2="1110.78" stroke="#444" stroke-width="1.6"/>
<line x1="1867" x2="1928.5" y1="1141.44" y2="1141.44" stroke="#444" stroke-width="1.6"/>
<line x1="1867" x2="1928.5" y1="1172.10" y2="1172.10" stroke="#444" stroke-width="1.6"/>
<line x1="1867" x2="1928.5" y1="1202.76" y2="1202.76" stroke="#444" stroke-width="1.6"/>
<line x1="1867" x2="1928.5" y1="1233.42" y2="1233.42" stroke="#444" stroke-width="1.6"/>
<line x1="1867" x2="1928.5" y1="1264.08" y2="1264.08" stroke="#444" stroke-width="1.6"/>
<line x1="1867" x2="1928.5" y1="1294.74" y2="1294.74" stroke="#444" stroke-width="1.6"/>
<line x1="1867" x2="1928.5" y1="1325.40" y2="1325.40" stroke="#444" stroke-width="1.6"/>
<line x1="1867" x2="1928.5" y1="1356.06" y2="1356.06" stroke="#444" stroke-width="1.6"/>
<line x1="1867" x2="1928.5" y1="1386.72" y2="1386.72" stroke="#444" stroke-width="1.6"/>
<line x1="1913.5" x2="1913.5" y1="1018.80" y2="1386.72" stroke="#444" stroke-width="1.6"/>
<text x="1943" y="1026.8" font-size="32">+8.000</text>
<text x="1943" y="1057.4" font-size="32">+7.333</text>
<text x="1943" y="1088.1" font-size="32">+6.667</text>
<text x="1943" y="1118.7" font-size="32">+6.000</text>
<text x="1943" y="1149.3" font-size="32">+5.333</text>
<text x="1943" y="1180.0" font-size="32">+4.667</text>
<text x="1943" y="1210.6" font-size="32">+4.000</text>
<text x="1943" y="1241.2" font-size="32">+3.333</text>
<text x="1943" y="1271.8" font-size="32">+2.667</text>
<text x="1943" y="1302.5" font-size="32">+2.000</text>
<text x="1943" y="1333.1" font-size="32">+1.333</text>
<text x="1943" y="1363.7" font-size="32">+6.667</text>
<text x="1943" y="1394.4" font-size="32">+0.000</text>
<text x="2035.5" y="1370.2" font-size="47">×</text>
<text x="2068" y="1363.7" font-size="33" textLength="38.5" lengthAdjust="spacingAndGlyphs">10</text>
<text x="2107" y="1351.7" font-size="24" textLength="28">−1</text>
<text x="1868" y="949.8" font-size="32">S, Mises</text>
<text x="1868" y="988.3" font-size="32">(Avg: 75%)</text>
</svg>
</body></html>
